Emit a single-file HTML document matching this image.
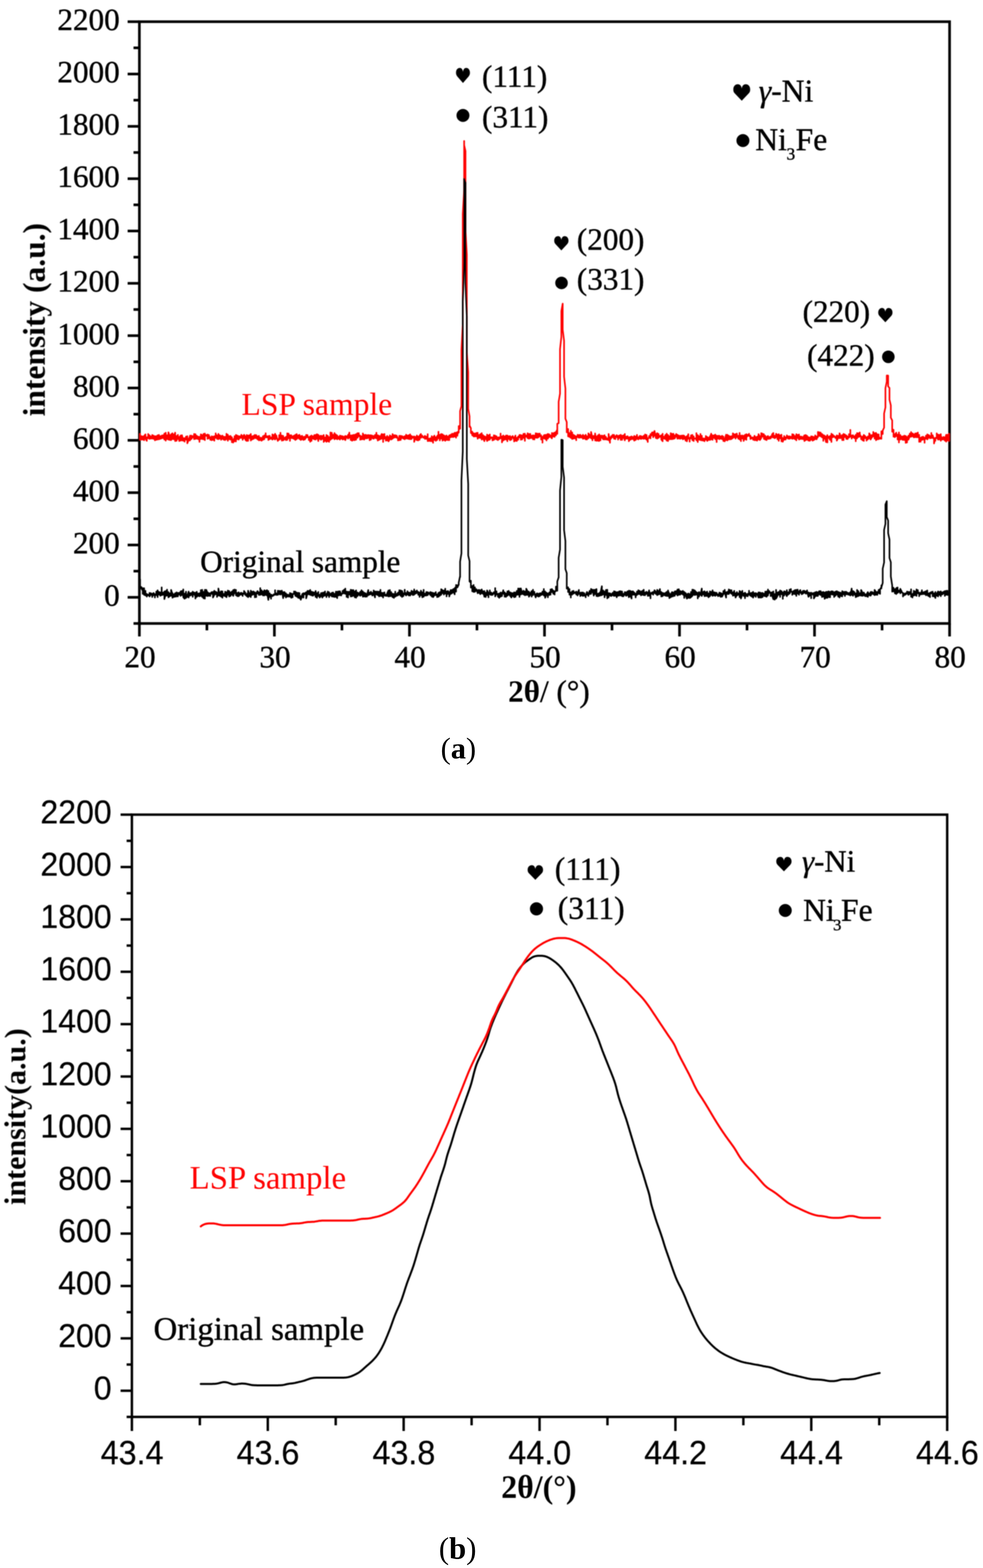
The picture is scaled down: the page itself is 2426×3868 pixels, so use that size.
<!DOCTYPE html>
<html><head><meta charset="utf-8"><title>XRD patterns</title><style>html,body{margin:0;padding:0;background:#fff;}svg{display:block;}</style></head><body>
<svg xmlns="http://www.w3.org/2000/svg" width="2426" height="3868" viewBox="0 0 2426 3868"><defs><filter id="soft" x="0" y="0" width="100%" height="100%" filterUnits="userSpaceOnUse"><feGaussianBlur stdDeviation="1.15"/></filter></defs><rect width="100%" height="100%" fill="#fff"/>
<g filter="url(#soft)">
<rect x="344.0" y="53.5" width="1999.5" height="1484.5" fill="none" stroke="#000" stroke-width="6.5"/>
<line x1="329.5" y1="1538.0" x2="344.0" y2="1538.0" stroke="#000" stroke-width="6.5"/>
<line x1="315.0" y1="1473.5" x2="344.0" y2="1473.5" stroke="#000" stroke-width="6.5"/>
<text x="295.5" y="1494.0" font-family="'Liberation Serif', 'Times New Roman', serif" font-size="77.0" text-anchor="end" font-weight="normal" fill="#000" stroke="#000" stroke-width="0.90" stroke-linejoin="round">0</text>
<line x1="329.5" y1="1408.9" x2="344.0" y2="1408.9" stroke="#000" stroke-width="6.5"/>
<line x1="315.0" y1="1344.4" x2="344.0" y2="1344.4" stroke="#000" stroke-width="6.5"/>
<text x="295.5" y="1364.9" font-family="'Liberation Serif', 'Times New Roman', serif" font-size="77.0" text-anchor="end" font-weight="normal" fill="#000" stroke="#000" stroke-width="0.90" stroke-linejoin="round">200</text>
<line x1="329.5" y1="1279.8" x2="344.0" y2="1279.8" stroke="#000" stroke-width="6.5"/>
<line x1="315.0" y1="1215.3" x2="344.0" y2="1215.3" stroke="#000" stroke-width="6.5"/>
<text x="295.5" y="1235.8" font-family="'Liberation Serif', 'Times New Roman', serif" font-size="77.0" text-anchor="end" font-weight="normal" fill="#000" stroke="#000" stroke-width="0.90" stroke-linejoin="round">400</text>
<line x1="329.5" y1="1150.7" x2="344.0" y2="1150.7" stroke="#000" stroke-width="6.5"/>
<line x1="315.0" y1="1086.2" x2="344.0" y2="1086.2" stroke="#000" stroke-width="6.5"/>
<text x="295.5" y="1106.7" font-family="'Liberation Serif', 'Times New Roman', serif" font-size="77.0" text-anchor="end" font-weight="normal" fill="#000" stroke="#000" stroke-width="0.90" stroke-linejoin="round">600</text>
<line x1="329.5" y1="1021.7" x2="344.0" y2="1021.7" stroke="#000" stroke-width="6.5"/>
<line x1="315.0" y1="957.1" x2="344.0" y2="957.1" stroke="#000" stroke-width="6.5"/>
<text x="295.5" y="977.6" font-family="'Liberation Serif', 'Times New Roman', serif" font-size="77.0" text-anchor="end" font-weight="normal" fill="#000" stroke="#000" stroke-width="0.90" stroke-linejoin="round">800</text>
<line x1="329.5" y1="892.6" x2="344.0" y2="892.6" stroke="#000" stroke-width="6.5"/>
<line x1="315.0" y1="828.0" x2="344.0" y2="828.0" stroke="#000" stroke-width="6.5"/>
<text x="295.5" y="848.5" font-family="'Liberation Serif', 'Times New Roman', serif" font-size="77.0" text-anchor="end" font-weight="normal" fill="#000" stroke="#000" stroke-width="0.90" stroke-linejoin="round">1000</text>
<line x1="329.5" y1="763.5" x2="344.0" y2="763.5" stroke="#000" stroke-width="6.5"/>
<line x1="315.0" y1="698.9" x2="344.0" y2="698.9" stroke="#000" stroke-width="6.5"/>
<text x="295.5" y="719.4" font-family="'Liberation Serif', 'Times New Roman', serif" font-size="77.0" text-anchor="end" font-weight="normal" fill="#000" stroke="#000" stroke-width="0.90" stroke-linejoin="round">1200</text>
<line x1="329.5" y1="634.4" x2="344.0" y2="634.4" stroke="#000" stroke-width="6.5"/>
<line x1="315.0" y1="569.8" x2="344.0" y2="569.8" stroke="#000" stroke-width="6.5"/>
<text x="295.5" y="590.3" font-family="'Liberation Serif', 'Times New Roman', serif" font-size="77.0" text-anchor="end" font-weight="normal" fill="#000" stroke="#000" stroke-width="0.90" stroke-linejoin="round">1400</text>
<line x1="329.5" y1="505.3" x2="344.0" y2="505.3" stroke="#000" stroke-width="6.5"/>
<line x1="315.0" y1="440.8" x2="344.0" y2="440.8" stroke="#000" stroke-width="6.5"/>
<text x="295.5" y="461.3" font-family="'Liberation Serif', 'Times New Roman', serif" font-size="77.0" text-anchor="end" font-weight="normal" fill="#000" stroke="#000" stroke-width="0.90" stroke-linejoin="round">1600</text>
<line x1="329.5" y1="376.2" x2="344.0" y2="376.2" stroke="#000" stroke-width="6.5"/>
<line x1="315.0" y1="311.7" x2="344.0" y2="311.7" stroke="#000" stroke-width="6.5"/>
<text x="295.5" y="332.2" font-family="'Liberation Serif', 'Times New Roman', serif" font-size="77.0" text-anchor="end" font-weight="normal" fill="#000" stroke="#000" stroke-width="0.90" stroke-linejoin="round">1800</text>
<line x1="329.5" y1="247.1" x2="344.0" y2="247.1" stroke="#000" stroke-width="6.5"/>
<line x1="315.0" y1="182.6" x2="344.0" y2="182.6" stroke="#000" stroke-width="6.5"/>
<text x="295.5" y="203.1" font-family="'Liberation Serif', 'Times New Roman', serif" font-size="77.0" text-anchor="end" font-weight="normal" fill="#000" stroke="#000" stroke-width="0.90" stroke-linejoin="round">2000</text>
<line x1="329.5" y1="118.0" x2="344.0" y2="118.0" stroke="#000" stroke-width="6.5"/>
<line x1="315.0" y1="53.5" x2="344.0" y2="53.5" stroke="#000" stroke-width="6.5"/>
<text x="295.5" y="74.0" font-family="'Liberation Serif', 'Times New Roman', serif" font-size="77.0" text-anchor="end" font-weight="normal" fill="#000" stroke="#000" stroke-width="0.90" stroke-linejoin="round">2200</text>
<line x1="344.0" y1="1538.0" x2="344.0" y2="1570.0" stroke="#000" stroke-width="6.5"/>
<text x="345.5" y="1646.0" font-family="'Liberation Serif', 'Times New Roman', serif" font-size="77.0" text-anchor="middle" font-weight="normal" fill="#000" stroke="#000" stroke-width="0.90" stroke-linejoin="round">20</text>
<line x1="510.6" y1="1538.0" x2="510.6" y2="1555.0" stroke="#000" stroke-width="6.5"/>
<line x1="677.2" y1="1538.0" x2="677.2" y2="1570.0" stroke="#000" stroke-width="6.5"/>
<text x="678.8" y="1646.0" font-family="'Liberation Serif', 'Times New Roman', serif" font-size="77.0" text-anchor="middle" font-weight="normal" fill="#000" stroke="#000" stroke-width="0.90" stroke-linejoin="round">30</text>
<line x1="843.9" y1="1538.0" x2="843.9" y2="1555.0" stroke="#000" stroke-width="6.5"/>
<line x1="1010.5" y1="1538.0" x2="1010.5" y2="1570.0" stroke="#000" stroke-width="6.5"/>
<text x="1012.0" y="1646.0" font-family="'Liberation Serif', 'Times New Roman', serif" font-size="77.0" text-anchor="middle" font-weight="normal" fill="#000" stroke="#000" stroke-width="0.90" stroke-linejoin="round">40</text>
<line x1="1177.1" y1="1538.0" x2="1177.1" y2="1555.0" stroke="#000" stroke-width="6.5"/>
<line x1="1343.8" y1="1538.0" x2="1343.8" y2="1570.0" stroke="#000" stroke-width="6.5"/>
<text x="1345.2" y="1646.0" font-family="'Liberation Serif', 'Times New Roman', serif" font-size="77.0" text-anchor="middle" font-weight="normal" fill="#000" stroke="#000" stroke-width="0.90" stroke-linejoin="round">50</text>
<line x1="1510.4" y1="1538.0" x2="1510.4" y2="1555.0" stroke="#000" stroke-width="6.5"/>
<line x1="1677.0" y1="1538.0" x2="1677.0" y2="1570.0" stroke="#000" stroke-width="6.5"/>
<text x="1678.5" y="1646.0" font-family="'Liberation Serif', 'Times New Roman', serif" font-size="77.0" text-anchor="middle" font-weight="normal" fill="#000" stroke="#000" stroke-width="0.90" stroke-linejoin="round">60</text>
<line x1="1843.6" y1="1538.0" x2="1843.6" y2="1555.0" stroke="#000" stroke-width="6.5"/>
<line x1="2010.2" y1="1538.0" x2="2010.2" y2="1570.0" stroke="#000" stroke-width="6.5"/>
<text x="2011.8" y="1646.0" font-family="'Liberation Serif', 'Times New Roman', serif" font-size="77.0" text-anchor="middle" font-weight="normal" fill="#000" stroke="#000" stroke-width="0.90" stroke-linejoin="round">70</text>
<line x1="2176.9" y1="1538.0" x2="2176.9" y2="1555.0" stroke="#000" stroke-width="6.5"/>
<line x1="2343.5" y1="1538.0" x2="2343.5" y2="1570.0" stroke="#000" stroke-width="6.5"/>
<text x="2345.0" y="1646.0" font-family="'Liberation Serif', 'Times New Roman', serif" font-size="77.0" text-anchor="middle" font-weight="normal" fill="#000" stroke="#000" stroke-width="0.90" stroke-linejoin="round">80</text>
<polyline points="345.7,1083.4 345.7,1077.8 345.7,1084.3 345.7,1070.8 345.7,1075.8 345.7,1079.2 349.0,1075.8 349.0,1084.4 349.0,1077.7 349.0,1080.2 349.0,1084.3 352.3,1080.5 352.3,1076.5 352.3,1084.2 352.3,1079.1 352.3,1084.6 355.7,1077.7 355.7,1086.1 355.7,1075.8 355.7,1076.1 355.7,1075.5 359.0,1071.6 359.0,1078.6 359.0,1078.9 359.0,1076.9 359.0,1081.5 362.3,1087.5 362.3,1084.7 362.3,1084.6 362.3,1078.6 362.3,1081.9 365.7,1080.8 365.7,1076.6 365.7,1078.1 365.7,1070.4 365.7,1079.0 369.0,1082.7 369.0,1073.5 369.0,1080.7 369.0,1079.3 369.0,1075.0 372.3,1078.5 372.3,1076.4 372.3,1082.1 372.3,1080.8 372.3,1076.9 375.7,1081.9 375.7,1081.3 375.7,1079.8 375.7,1073.0 375.7,1073.5 379.0,1078.8 379.0,1079.5 379.0,1082.8 379.0,1074.4 379.0,1078.3 382.3,1076.2 382.3,1086.2 382.3,1076.9 382.3,1079.7 382.3,1077.2 385.7,1076.0 385.7,1080.3 385.7,1081.8 385.7,1077.2 385.7,1085.1 389.0,1073.8 389.0,1078.2 389.0,1084.2 389.0,1074.0 389.0,1075.3 392.3,1072.9 392.3,1075.1 392.3,1077.2 392.3,1079.5 392.3,1083.8 395.7,1076.2 395.7,1076.8 395.7,1081.0 395.7,1076.7 395.7,1082.8 399.0,1074.5 399.0,1078.2 399.0,1077.7 399.0,1081.6 399.0,1074.4 402.3,1077.6 402.3,1080.6 402.3,1076.5 402.3,1078.9 402.3,1073.6 405.7,1084.3 405.7,1082.7 405.7,1069.4 405.7,1080.0 405.7,1076.0 409.0,1079.8 409.0,1077.4 409.0,1067.4 409.0,1086.9 409.0,1076.5 412.3,1078.7 412.3,1078.9 412.3,1082.5 412.3,1083.3 412.3,1073.5 415.6,1077.1 415.6,1084.1 415.6,1078.9 415.6,1084.4 415.6,1066.4 419.0,1076.7 419.0,1085.6 419.0,1073.8 419.0,1074.9 419.0,1076.1 422.3,1076.5 422.3,1079.5 422.3,1078.0 422.3,1085.7 422.3,1071.8 425.6,1068.9 425.6,1075.4 425.6,1074.9 425.6,1083.3 425.6,1079.4 429.0,1083.6 429.0,1083.1 429.0,1075.3 429.0,1071.7 429.0,1078.0 432.3,1067.4 432.3,1074.6 432.3,1087.9 432.3,1080.5 432.3,1073.7 435.6,1079.0 435.6,1075.7 435.6,1087.6 435.6,1075.5 435.6,1086.2 439.0,1080.0 439.0,1072.7 439.0,1081.5 439.0,1082.8 439.0,1078.7 442.3,1085.4 442.3,1085.9 442.3,1077.7 442.3,1088.0 442.3,1086.9 445.6,1074.2 445.6,1086.9 445.6,1079.7 445.6,1077.0 445.6,1082.0 449.0,1086.3 449.0,1078.5 449.0,1086.2 449.0,1073.6 449.0,1073.4 452.3,1087.3 452.3,1080.7 452.3,1086.3 452.3,1081.8 452.3,1084.4 455.6,1087.3 455.6,1080.8 455.6,1089.6 455.6,1080.9 455.6,1082.4 459.0,1084.6 459.0,1077.0 459.0,1080.2 459.0,1081.5 459.0,1080.6 462.3,1080.7 462.3,1075.9 462.3,1081.1 462.3,1092.3 462.3,1093.5 465.6,1085.1 465.6,1086.2 465.6,1082.2 465.6,1086.9 465.6,1084.6 469.0,1075.5 469.0,1086.6 469.0,1077.1 469.0,1080.9 469.0,1074.5 472.3,1075.9 472.3,1079.1 472.3,1074.5 472.3,1077.8 472.3,1083.2 475.6,1076.1 475.6,1075.8 475.6,1078.2 475.6,1076.4 475.6,1079.2 479.0,1075.8 479.0,1078.2 479.0,1083.5 479.0,1078.1 479.0,1070.4 482.3,1073.7 482.3,1071.1 482.3,1077.7 482.3,1079.7 482.3,1082.8 485.6,1078.0 485.6,1074.7 485.6,1075.9 485.6,1076.6 485.6,1082.1 489.0,1079.7 489.0,1083.6 489.0,1076.9 489.0,1077.9 489.0,1083.2 492.3,1079.9 492.3,1090.0 492.3,1077.4 492.3,1083.8 492.3,1081.8 495.6,1077.7 495.6,1077.3 495.6,1083.0 495.6,1073.4 495.6,1071.5 499.0,1073.7 499.0,1074.2 499.0,1079.3 499.0,1073.5 499.0,1082.8 502.3,1083.5 502.3,1077.9 502.3,1077.2 502.3,1081.6 502.3,1070.2 505.6,1083.5 505.6,1085.8 505.6,1078.4 505.6,1069.5 505.6,1073.0 509.0,1074.4 509.0,1075.1 509.0,1073.1 509.0,1074.1 509.0,1075.0 512.3,1076.0 512.3,1082.4 512.3,1071.8 512.3,1077.9 512.3,1074.9 515.6,1074.8 515.6,1073.0 515.6,1081.2 515.6,1074.9 515.6,1075.2 519.0,1079.7 519.0,1080.0 519.0,1079.5 519.0,1084.9 519.0,1082.8 522.3,1085.9 522.3,1076.3 522.3,1084.7 522.3,1086.0 522.3,1080.8 525.6,1079.1 525.6,1082.8 525.6,1085.0 525.6,1079.0 525.6,1076.9 529.0,1087.1 529.0,1076.1 529.0,1087.1 529.0,1076.5 529.0,1080.9 532.3,1079.8 532.3,1075.4 532.3,1072.0 532.3,1069.1 532.3,1071.8 535.6,1074.5 535.6,1082.8 535.6,1078.8 535.6,1076.6 535.6,1079.7 539.0,1074.8 539.0,1078.5 539.0,1070.2 539.0,1078.7 539.0,1083.5 542.3,1080.7 542.3,1081.8 542.3,1076.1 542.3,1073.5 542.3,1075.4 545.6,1075.6 545.6,1083.1 545.6,1085.1 545.6,1084.1 545.6,1080.9 548.9,1082.7 548.9,1080.2 548.9,1077.2 548.9,1081.2 548.9,1074.5 552.3,1084.9 552.3,1078.9 552.3,1081.8 552.3,1077.2 552.3,1081.5 555.6,1083.5 555.6,1081.8 555.6,1084.9 555.6,1085.7 555.6,1077.6 558.9,1083.4 558.9,1075.6 558.9,1069.9 558.9,1081.8 558.9,1076.2 562.3,1079.9 562.3,1087.2 562.3,1079.2 562.3,1072.3 562.3,1083.2 565.6,1078.5 565.6,1078.4 565.6,1083.6 565.6,1076.1 565.6,1078.2 568.9,1075.3 568.9,1077.8 568.9,1084.4 568.9,1078.4 568.9,1076.9 572.3,1081.2 572.3,1078.4 572.3,1079.2 572.3,1091.1 572.3,1080.0 575.6,1091.7 575.6,1089.0 575.6,1084.5 575.6,1088.2 575.6,1087.6 578.9,1079.6 578.9,1088.7 578.9,1079.1 578.9,1076.1 578.9,1077.6 582.3,1087.7 582.3,1089.1 582.3,1082.0 582.3,1072.8 582.3,1082.1 585.6,1083.1 585.6,1080.7 585.6,1076.5 585.6,1074.2 585.6,1078.8 588.9,1078.9 588.9,1075.8 588.9,1077.5 588.9,1079.1 588.9,1084.5 592.3,1076.4 592.3,1079.3 592.3,1077.7 592.3,1078.0 592.3,1080.5 595.6,1074.5 595.6,1072.5 595.6,1075.0 595.6,1080.2 595.6,1076.9 598.9,1075.0 598.9,1078.7 598.9,1075.7 598.9,1084.9 598.9,1080.3 602.3,1073.8 602.3,1076.1 602.3,1081.2 602.3,1080.6 602.3,1072.4 605.6,1077.2 605.6,1085.0 605.6,1081.0 605.6,1084.4 605.6,1085.1 608.9,1087.7 608.9,1079.6 608.9,1073.1 608.9,1078.6 608.9,1087.5 612.3,1079.5 612.3,1087.5 612.3,1080.2 612.3,1076.4 612.3,1074.3 615.6,1079.8 615.6,1078.8 615.6,1080.0 615.6,1080.7 615.6,1073.4 618.9,1083.9 618.9,1086.6 618.9,1072.6 618.9,1070.5 618.9,1086.8 622.3,1076.2 622.3,1076.7 622.3,1081.9 622.3,1084.2 622.3,1079.5 625.6,1081.6 625.6,1076.7 625.6,1082.8 625.6,1075.1 625.6,1082.6 628.9,1072.9 628.9,1075.9 628.9,1074.6 628.9,1080.7 628.9,1079.8 632.3,1078.9 632.3,1073.3 632.3,1080.9 632.3,1081.2 632.3,1078.8 635.6,1076.4 635.6,1078.3 635.6,1078.5 635.6,1084.1 635.6,1081.5 638.9,1083.8 638.9,1075.3 638.9,1080.3 638.9,1077.6 638.9,1086.3 642.3,1081.2 642.3,1079.6 642.3,1085.7 642.3,1084.0 642.3,1083.5 645.6,1080.7 645.6,1080.1 645.6,1087.3 645.6,1080.0 645.6,1080.5 648.9,1080.2 648.9,1085.1 648.9,1081.7 648.9,1076.0 648.9,1076.4 652.3,1083.5 652.3,1073.9 652.3,1082.0 652.3,1083.6 652.3,1074.6 655.6,1077.5 655.6,1068.8 655.6,1079.0 655.6,1077.2 655.6,1074.5 658.9,1076.4 658.9,1079.3 658.9,1077.7 658.9,1078.1 658.9,1078.4 662.3,1078.8 662.3,1085.5 662.3,1075.6 662.3,1082.3 662.3,1080.9 665.6,1083.4 665.6,1081.0 665.6,1076.1 665.6,1074.9 665.6,1078.8 668.9,1079.5 668.9,1082.3 668.9,1081.3 668.9,1079.1 668.9,1080.8 672.3,1084.3 672.3,1079.9 672.3,1084.5 672.3,1071.4 672.3,1078.7 675.6,1082.2 675.6,1077.8 675.6,1082.8 675.6,1080.6 675.6,1072.9 678.9,1074.0 678.9,1084.3 678.9,1084.1 678.9,1081.6 678.9,1070.1 682.2,1079.4 682.2,1078.8 682.2,1082.1 682.2,1074.5 682.2,1076.1 685.6,1087.5 685.6,1083.7 685.6,1087.7 685.6,1084.7 685.6,1083.0 688.9,1084.9 688.9,1081.6 688.9,1075.6 688.9,1073.4 688.9,1077.3 692.2,1074.4 692.2,1082.9 692.2,1070.9 692.2,1067.4 692.2,1077.7 695.6,1074.9 695.6,1076.1 695.6,1087.1 695.6,1074.2 695.6,1076.9 698.9,1086.1 698.9,1081.5 698.9,1075.2 698.9,1077.9 698.9,1086.3 702.2,1083.0 702.2,1083.4 702.2,1079.8 702.2,1083.2 702.2,1079.8 705.6,1080.5 705.6,1085.7 705.6,1077.6 705.6,1078.0 705.6,1081.8 708.9,1075.6 708.9,1069.1 708.9,1085.3 708.9,1077.7 708.9,1075.2 712.2,1078.6 712.2,1081.2 712.2,1069.6 712.2,1081.0 712.2,1079.4 715.6,1081.5 715.6,1073.6 715.6,1087.6 715.6,1082.2 715.6,1080.2 718.9,1076.8 718.9,1076.5 718.9,1073.6 718.9,1078.2 718.9,1080.7 722.2,1077.9 722.2,1081.3 722.2,1080.0 722.2,1079.9 722.2,1076.7 725.6,1074.6 725.6,1082.9 725.6,1080.8 725.6,1078.5 725.6,1078.4 728.9,1079.5 728.9,1075.9 728.9,1079.2 728.9,1085.5 728.9,1072.5 732.2,1083.1 732.2,1070.8 732.2,1076.4 732.2,1076.0 732.2,1083.4 735.6,1076.1 735.6,1078.0 735.6,1080.7 735.6,1075.0 735.6,1074.3 738.9,1072.7 738.9,1083.0 738.9,1081.5 738.9,1072.7 738.9,1076.6 742.2,1075.8 742.2,1081.7 742.2,1078.3 742.2,1076.7 742.2,1085.4 745.6,1083.4 745.6,1079.7 745.6,1075.1 745.6,1082.6 745.6,1078.0 748.9,1084.2 748.9,1085.5 748.9,1077.7 748.9,1084.3 748.9,1079.5 752.2,1081.7 752.2,1076.9 752.2,1084.0 752.2,1084.3 752.2,1084.1 755.6,1078.9 755.6,1072.7 755.6,1074.5 755.6,1077.1 755.6,1078.6 758.9,1073.2 758.9,1078.9 758.9,1074.4 758.9,1073.5 758.9,1076.7 762.2,1078.4 762.2,1078.9 762.2,1081.3 762.2,1080.3 762.2,1085.5 765.6,1085.7 765.6,1076.0 765.6,1083.2 765.6,1089.8 765.6,1077.3 768.9,1077.2 768.9,1080.9 768.9,1087.6 768.9,1074.2 768.9,1077.4 772.2,1076.4 772.2,1082.0 772.2,1078.7 772.2,1081.1 772.2,1080.4 775.6,1083.7 775.6,1081.6 775.6,1080.1 775.6,1077.5 775.6,1073.3 778.9,1074.8 778.9,1084.4 778.9,1072.7 778.9,1083.2 778.9,1075.0 782.2,1077.9 782.2,1077.0 782.2,1079.4 782.2,1081.9 782.2,1071.0 785.6,1088.0 785.6,1081.6 785.6,1072.6 785.6,1078.1 785.6,1078.0 788.9,1081.6 788.9,1082.8 788.9,1075.6 788.9,1078.7 788.9,1076.6 792.2,1074.8 792.2,1085.1 792.2,1082.4 792.2,1080.9 792.2,1077.3 795.6,1075.5 795.6,1082.9 795.6,1079.7 795.6,1079.5 795.6,1079.8 798.9,1073.2 798.9,1083.1 798.9,1079.7 798.9,1090.3 798.9,1081.6 802.2,1081.0 802.2,1078.9 802.2,1084.2 802.2,1084.7 802.2,1087.7 805.6,1084.9 805.6,1073.0 805.6,1090.1 805.6,1090.0 805.6,1082.5 808.9,1086.6 808.9,1077.3 808.9,1088.4 808.9,1075.0 808.9,1083.3 812.2,1088.0 812.2,1090.0 812.2,1084.2 812.2,1082.8 812.2,1078.3 815.5,1085.0 815.5,1066.7 815.5,1075.7 815.5,1079.9 815.5,1081.3 818.9,1067.6 818.9,1082.0 818.9,1075.5 818.9,1072.5 818.9,1082.5 822.2,1076.2 822.2,1080.7 822.2,1072.8 822.2,1072.5 822.2,1076.4 825.5,1077.9 825.5,1083.7 825.5,1068.2 825.5,1072.0 825.5,1075.2 828.9,1071.7 828.9,1077.7 828.9,1082.3 828.9,1073.5 828.9,1081.3 832.2,1079.4 832.2,1074.0 832.2,1083.7 832.2,1077.1 832.2,1078.5 835.5,1082.3 835.5,1082.6 835.5,1078.6 835.5,1079.1 835.5,1077.3 838.9,1084.4 838.9,1077.9 838.9,1083.6 838.9,1081.8 838.9,1074.4 842.2,1081.4 842.2,1080.7 842.2,1082.1 842.2,1078.8 842.2,1075.3 845.5,1080.2 845.5,1076.0 845.5,1084.2 845.5,1076.8 845.5,1079.1 848.9,1078.3 848.9,1082.5 848.9,1081.2 848.9,1077.3 848.9,1083.6 852.2,1075.4 852.2,1080.5 852.2,1076.9 852.2,1083.6 852.2,1085.8 855.5,1076.3 855.5,1076.1 855.5,1079.2 855.5,1076.2 855.5,1078.8 858.9,1075.7 858.9,1077.6 858.9,1081.9 858.9,1072.8 858.9,1081.0 862.2,1067.1 862.2,1076.9 862.2,1079.9 862.2,1076.8 862.2,1075.6 865.5,1075.4 865.5,1073.9 865.5,1079.1 865.5,1085.6 865.5,1081.1 868.9,1076.1 868.9,1073.7 868.9,1087.2 868.9,1078.8 868.9,1074.8 872.2,1085.7 872.2,1072.8 872.2,1083.3 872.2,1080.6 872.2,1082.2 875.5,1072.5 875.5,1076.1 875.5,1079.0 875.5,1080.8 875.5,1085.9 878.9,1079.6 878.9,1080.4 878.9,1077.8 878.9,1084.7 878.9,1070.8 882.2,1071.9 882.2,1068.6 882.2,1077.6 882.2,1075.1 882.2,1080.1 885.5,1071.3 885.5,1076.2 885.5,1068.5 885.5,1072.9 885.5,1073.1 888.9,1074.5 888.9,1083.5 888.9,1074.6 888.9,1084.8 888.9,1077.2 892.2,1076.3 892.2,1083.9 892.2,1081.9 892.2,1080.2 892.2,1078.5 895.5,1078.5 895.5,1079.7 895.5,1083.5 895.5,1078.6 895.5,1069.3 898.9,1082.1 898.9,1072.9 898.9,1084.6 898.9,1082.2 898.9,1073.8 902.2,1075.7 902.2,1072.4 902.2,1076.6 902.2,1081.6 902.2,1078.6 905.5,1080.7 905.5,1074.4 905.5,1076.1 905.5,1073.4 905.5,1081.5 908.9,1079.6 908.9,1080.3 908.9,1080.0 908.9,1079.1 908.9,1073.1 912.2,1077.8 912.2,1073.5 912.2,1077.6 912.2,1085.9 912.2,1084.3 915.5,1079.1 915.5,1073.5 915.5,1078.3 915.5,1084.6 915.5,1077.8 918.9,1079.3 918.9,1075.8 918.9,1074.6 918.9,1076.8 918.9,1080.6 922.2,1082.1 922.2,1079.0 922.2,1077.6 922.2,1075.5 922.2,1078.6 925.5,1079.2 925.5,1074.2 925.5,1072.7 925.5,1075.0 925.5,1080.6 928.9,1077.7 928.9,1067.6 928.9,1081.5 928.9,1078.9 928.9,1074.0 932.2,1082.2 932.2,1079.9 932.2,1073.4 932.2,1075.0 932.2,1086.8 935.5,1076.8 935.5,1080.8 935.5,1085.3 935.5,1075.1 935.5,1081.9 938.9,1079.9 938.9,1083.5 938.9,1076.7 938.9,1076.5 938.9,1077.1 942.2,1070.5 942.2,1078.1 942.2,1082.1 942.2,1078.5 942.2,1079.3 945.5,1077.5 945.5,1090.3 945.5,1076.6 945.5,1071.5 945.5,1076.0 948.8,1082.2 948.8,1070.4 948.8,1076.2 948.8,1070.8 948.8,1075.4 952.2,1081.0 952.2,1086.9 952.2,1079.8 952.2,1078.3 952.2,1082.4 955.5,1086.5 955.5,1077.5 955.5,1084.2 955.5,1075.2 955.5,1083.3 958.8,1079.2 958.8,1082.0 958.8,1078.7 958.8,1077.9 958.8,1088.8 962.2,1082.5 962.2,1081.8 962.2,1081.7 962.2,1079.3 962.2,1074.0 965.5,1082.9 965.5,1076.1 965.5,1079.9 965.5,1081.0 965.5,1084.2 968.8,1081.0 968.8,1082.2 968.8,1075.5 968.8,1070.8 968.8,1074.7 972.2,1073.6 972.2,1079.9 972.2,1073.4 972.2,1079.7 972.2,1079.9 975.5,1075.0 975.5,1078.8 975.5,1073.6 975.5,1075.8 975.5,1077.9 978.8,1079.6 978.8,1076.8 978.8,1077.0 978.8,1078.3 978.8,1074.6 982.2,1082.2 982.2,1086.2 982.2,1086.4 982.2,1085.4 982.2,1085.4 985.5,1082.4 985.5,1075.0 985.5,1086.1 985.5,1085.2 985.5,1083.7 988.8,1085.3 988.8,1084.1 988.8,1077.6 988.8,1074.9 988.8,1082.9 992.2,1080.0 992.2,1075.8 992.2,1078.1 992.2,1080.2 992.2,1077.9 995.5,1079.8 995.5,1082.2 995.5,1077.3 995.5,1082.0 995.5,1081.3 998.8,1077.9 998.8,1083.8 998.8,1075.9 998.8,1081.6 998.8,1082.4 1002.2,1076.0 1002.2,1075.3 1002.2,1073.9 1002.2,1072.2 1002.2,1081.8 1005.5,1078.7 1005.5,1082.1 1005.5,1080.7 1005.5,1074.2 1005.5,1076.6 1008.8,1077.0 1008.8,1076.6 1008.8,1080.2 1008.8,1073.5 1008.8,1083.1 1012.2,1076.5 1012.2,1081.9 1012.2,1083.4 1012.2,1071.5 1012.2,1081.5 1015.5,1077.2 1015.5,1083.3 1015.5,1083.2 1015.5,1075.3 1015.5,1078.5 1018.8,1080.0 1018.8,1078.4 1018.8,1077.9 1018.8,1077.0 1018.8,1078.6 1022.2,1077.9 1022.2,1079.6 1022.2,1080.4 1022.2,1076.5 1022.2,1090.1 1025.5,1077.8 1025.5,1081.1 1025.5,1080.4 1025.5,1082.2 1025.5,1084.0 1028.8,1078.6 1028.8,1086.0 1028.8,1085.1 1028.8,1085.1 1028.8,1074.3 1032.2,1081.0 1032.2,1081.0 1032.2,1086.6 1032.2,1080.4 1032.2,1077.1 1035.5,1084.8 1035.5,1079.8 1035.5,1078.9 1035.5,1076.9 1035.5,1075.0 1038.8,1070.5 1038.8,1078.2 1038.8,1077.7 1038.8,1080.1 1038.8,1073.4 1042.2,1077.4 1042.2,1075.3 1042.2,1074.5 1042.2,1078.2 1042.2,1078.6 1045.5,1077.6 1045.5,1078.1 1045.5,1078.8 1045.5,1080.1 1045.5,1080.0 1048.8,1075.1 1048.8,1082.8 1048.8,1080.1 1048.8,1080.5 1048.8,1076.2 1052.2,1082.6 1052.2,1081.4 1052.2,1082.4 1052.2,1076.9 1052.2,1077.5 1055.5,1078.3 1055.5,1079.4 1055.5,1070.9 1055.5,1078.9 1055.5,1088.1 1058.8,1086.5 1058.8,1086.5 1058.8,1083.0 1058.8,1087.8 1058.8,1082.0 1062.2,1088.2 1062.2,1082.9 1062.2,1085.5 1062.2,1081.1 1062.2,1082.7 1065.5,1087.2 1065.5,1075.9 1065.5,1087.7 1065.5,1085.2 1065.5,1088.5 1068.8,1078.7 1068.8,1078.7 1068.8,1082.7 1068.8,1092.2 1068.8,1078.9 1072.2,1074.7 1072.2,1085.4 1072.2,1079.8 1072.2,1078.0 1072.2,1081.4 1075.5,1086.2 1075.5,1082.0 1075.5,1083.7 1075.5,1078.5 1075.5,1087.6 1078.8,1077.9 1078.8,1079.4 1078.8,1085.6 1078.8,1082.8 1078.8,1075.9 1082.1,1072.4 1082.1,1073.7 1082.1,1064.9 1082.1,1075.8 1082.1,1081.3 1085.5,1076.2 1085.5,1079.4 1085.5,1086.4 1085.5,1072.5 1085.5,1081.2 1088.8,1081.3 1088.8,1070.4 1088.8,1080.8 1088.8,1082.0 1088.8,1075.3 1092.1,1071.4 1092.1,1086.9 1092.1,1083.8 1092.1,1081.9 1092.1,1076.2 1095.5,1078.4 1095.5,1074.8 1095.5,1085.6 1095.5,1080.1 1095.5,1073.7 1098.8,1087.4 1098.8,1075.5 1098.8,1083.6 1098.8,1079.1 1098.8,1084.8 1102.1,1078.0 1102.1,1077.6 1102.1,1081.5 1102.1,1074.2 1102.1,1085.2 1105.5,1077.0 1105.5,1085.8 1105.5,1077.0 1105.5,1077.4 1105.5,1083.7 1108.8,1074.0 1108.8,1080.5 1108.8,1085.7 1108.8,1081.0 1108.8,1075.6 1112.1,1078.7 1112.1,1074.7 1112.1,1072.2 1112.1,1074.3 1112.1,1075.0 1115.5,1076.0 1115.5,1074.4 1115.5,1069.9 1115.5,1078.0 1115.5,1075.8 1118.8,1071.3 1118.8,1078.3 1118.8,1069.7 1118.8,1073.3 1118.8,1071.1 1122.1,1075.4 1122.1,1073.6 1122.1,1067.6 1122.1,1076.9 1122.1,1068.1 1125.5,1067.5 1125.5,1071.5 1125.5,1079.7 1125.5,1075.9 1125.5,1069.1 1128.8,1065.7 1128.8,1075.1 1128.8,1066.8 1128.8,1066.3 1128.8,1072.2 1132.1,1063.7 1132.1,1065.9 1132.1,1067.0 1132.1,1051.0 1132.1,1058.6 1135.5,1057.5 1135.5,1052.3 1135.5,1031.3 1135.5,1025.5 1135.5,1014.0 1138.8,1001.8 1138.8,972.8 1138.8,943.2 1138.8,901.6 1138.8,863.4 1142.1,798.7 1142.1,734.4 1142.1,673.3 1142.1,601.8 1142.1,527.8 1145.5,468.4 1145.5,410.7 1145.5,373.4 1145.5,347.7 1145.5,357.9 1148.8,372.7 1148.8,398.4 1148.8,456.0 1148.8,499.4 1148.8,567.4 1152.1,628.3 1152.1,696.1 1152.1,755.8 1152.1,829.5 1152.1,869.1 1155.5,918.5 1155.5,946.7 1155.5,977.4 1155.5,997.5 1155.5,1008.6 1158.8,1026.9 1158.8,1037.4 1158.8,1043.9 1158.8,1053.0 1158.8,1049.6 1162.1,1056.2 1162.1,1061.1 1162.1,1058.0 1162.1,1066.2 1162.1,1068.0 1165.5,1070.7 1165.5,1073.9 1165.5,1074.0 1165.5,1064.8 1165.5,1072.2 1168.8,1071.2 1168.8,1068.6 1168.8,1072.8 1168.8,1076.8 1168.8,1076.6 1172.1,1075.4 1172.1,1069.6 1172.1,1076.3 1172.1,1076.8 1172.1,1072.4 1175.5,1074.7 1175.5,1074.7 1175.5,1074.1 1175.5,1068.0 1175.5,1076.5 1178.8,1077.0 1178.8,1067.5 1178.8,1078.8 1178.8,1082.2 1178.8,1071.3 1182.1,1077.0 1182.1,1075.1 1182.1,1074.7 1182.1,1080.0 1182.1,1073.1 1185.5,1080.4 1185.5,1072.0 1185.5,1070.8 1185.5,1078.6 1185.5,1071.3 1188.8,1075.2 1188.8,1068.5 1188.8,1076.2 1188.8,1084.1 1188.8,1084.5 1192.1,1073.4 1192.1,1079.4 1192.1,1076.2 1192.1,1082.9 1192.1,1081.0 1195.5,1088.2 1195.5,1077.5 1195.5,1076.0 1195.5,1082.7 1195.5,1077.4 1198.8,1082.6 1198.8,1078.0 1198.8,1081.4 1198.8,1083.2 1198.8,1077.6 1202.1,1087.3 1202.1,1071.9 1202.1,1086.2 1202.1,1087.9 1202.1,1078.6 1205.5,1084.2 1205.5,1077.3 1205.5,1085.8 1205.5,1073.8 1205.5,1074.7 1208.8,1084.5 1208.8,1071.7 1208.8,1081.9 1208.8,1080.0 1208.8,1082.8 1212.1,1079.0 1212.1,1078.5 1212.1,1080.8 1212.1,1079.2 1212.1,1080.1 1215.4,1078.8 1215.4,1086.5 1215.4,1083.0 1215.4,1086.3 1215.4,1081.7 1218.8,1081.9 1218.8,1082.4 1218.8,1084.4 1218.8,1073.7 1218.8,1085.3 1222.1,1078.8 1222.1,1082.7 1222.1,1074.4 1222.1,1075.3 1222.1,1078.4 1225.4,1077.2 1225.4,1083.4 1225.4,1084.0 1225.4,1076.3 1225.4,1079.3 1228.8,1085.7 1228.8,1079.8 1228.8,1084.5 1228.8,1085.0 1228.8,1079.2 1232.1,1078.7 1232.1,1080.3 1232.1,1081.1 1232.1,1083.5 1232.1,1080.1 1235.4,1079.8 1235.4,1081.3 1235.4,1069.5 1235.4,1080.5 1235.4,1078.8 1238.8,1082.4 1238.8,1079.8 1238.8,1078.7 1238.8,1076.4 1238.8,1091.3 1242.1,1074.2 1242.1,1076.4 1242.1,1077.7 1242.1,1083.2 1242.1,1086.5 1245.4,1084.0 1245.4,1076.5 1245.4,1076.8 1245.4,1079.6 1245.4,1076.7 1248.8,1083.5 1248.8,1084.2 1248.8,1074.2 1248.8,1074.7 1248.8,1076.0 1252.1,1074.5 1252.1,1079.1 1252.1,1088.5 1252.1,1080.0 1252.1,1074.3 1255.4,1080.0 1255.4,1076.2 1255.4,1076.6 1255.4,1083.1 1255.4,1077.3 1258.8,1079.3 1258.8,1085.9 1258.8,1075.5 1258.8,1084.6 1258.8,1078.3 1262.1,1078.3 1262.1,1083.6 1262.1,1084.4 1262.1,1078.7 1262.1,1079.6 1265.4,1075.6 1265.4,1079.9 1265.4,1078.6 1265.4,1080.1 1265.4,1076.9 1268.8,1085.1 1268.8,1088.9 1268.8,1079.1 1268.8,1082.1 1268.8,1084.0 1272.1,1074.5 1272.1,1087.4 1272.1,1082.7 1272.1,1077.7 1272.1,1082.3 1275.4,1083.1 1275.4,1079.9 1275.4,1082.6 1275.4,1088.0 1275.4,1086.1 1278.8,1077.6 1278.8,1077.4 1278.8,1084.8 1278.8,1078.5 1278.8,1076.7 1282.1,1076.3 1282.1,1072.8 1282.1,1074.6 1282.1,1078.7 1282.1,1079.3 1285.4,1075.3 1285.4,1082.8 1285.4,1084.7 1285.4,1074.5 1285.4,1073.1 1288.8,1075.2 1288.8,1076.3 1288.8,1084.0 1288.8,1083.2 1288.8,1079.7 1292.1,1070.1 1292.1,1078.1 1292.1,1076.0 1292.1,1080.0 1292.1,1071.1 1295.4,1084.4 1295.4,1069.7 1295.4,1076.5 1295.4,1087.5 1295.4,1076.1 1298.8,1074.1 1298.8,1074.0 1298.8,1074.4 1298.8,1077.5 1298.8,1077.4 1302.1,1075.6 1302.1,1078.6 1302.1,1068.8 1302.1,1080.9 1302.1,1075.4 1305.4,1077.2 1305.4,1082.2 1305.4,1070.4 1305.4,1075.3 1305.4,1079.4 1308.8,1080.2 1308.8,1077.9 1308.8,1070.3 1308.8,1076.1 1308.8,1080.9 1312.1,1076.7 1312.1,1080.4 1312.1,1075.4 1312.1,1075.9 1312.1,1074.8 1315.4,1076.8 1315.4,1077.8 1315.4,1083.7 1315.4,1077.4 1315.4,1073.7 1318.8,1084.2 1318.8,1074.2 1318.8,1080.3 1318.8,1080.1 1318.8,1079.6 1322.1,1073.8 1322.1,1076.1 1322.1,1075.1 1322.1,1079.7 1322.1,1068.7 1325.4,1079.0 1325.4,1069.5 1325.4,1069.7 1325.4,1072.0 1325.4,1080.3 1328.8,1075.2 1328.8,1078.9 1328.8,1069.7 1328.8,1075.4 1328.8,1075.1 1332.1,1076.4 1332.1,1076.6 1332.1,1073.8 1332.1,1069.5 1332.1,1075.5 1335.4,1073.7 1335.4,1076.3 1335.4,1077.5 1335.4,1084.2 1335.4,1081.1 1338.8,1082.1 1338.8,1077.3 1338.8,1092.0 1338.8,1088.9 1338.8,1082.0 1342.1,1078.3 1342.1,1081.4 1342.1,1080.4 1342.1,1077.0 1342.1,1074.0 1345.4,1072.9 1345.4,1077.4 1345.4,1075.2 1345.4,1081.1 1345.4,1083.1 1348.7,1076.7 1348.7,1072.6 1348.7,1076.6 1348.7,1086.6 1348.7,1074.1 1352.1,1070.4 1352.1,1075.1 1352.1,1079.0 1352.1,1081.2 1352.1,1082.1 1355.4,1071.2 1355.4,1078.2 1355.4,1077.8 1355.4,1077.3 1355.4,1076.9 1358.7,1074.5 1358.7,1077.3 1358.7,1073.9 1358.7,1077.1 1358.7,1077.7 1362.1,1081.3 1362.1,1073.2 1362.1,1068.0 1362.1,1070.5 1362.1,1068.3 1365.4,1074.2 1365.4,1075.6 1365.4,1075.6 1365.4,1076.9 1365.4,1069.0 1368.7,1067.2 1368.7,1075.1 1368.7,1070.4 1368.7,1077.7 1368.7,1070.4 1372.1,1068.0 1372.1,1074.1 1372.1,1064.9 1372.1,1070.8 1372.1,1066.7 1375.4,1059.2 1375.4,1070.2 1375.4,1058.8 1375.4,1057.7 1375.4,1045.1 1378.7,1044.0 1378.7,1035.0 1378.7,1020.1 1378.7,999.7 1378.7,991.0 1382.1,970.8 1382.1,945.5 1382.1,911.1 1382.1,893.5 1382.1,861.5 1385.4,831.0 1385.4,806.4 1385.4,782.4 1385.4,769.8 1385.4,767.4 1388.7,748.9 1388.7,759.7 1388.7,775.9 1388.7,793.2 1388.7,813.3 1392.1,840.7 1392.1,862.5 1392.1,883.1 1392.1,908.7 1392.1,929.1 1395.4,958.4 1395.4,982.1 1395.4,994.3 1395.4,1011.5 1395.4,1032.7 1398.7,1041.2 1398.7,1043.2 1398.7,1056.7 1398.7,1058.3 1398.7,1066.5 1402.1,1060.7 1402.1,1058.3 1402.1,1076.6 1402.1,1073.3 1402.1,1066.5 1405.4,1068.7 1405.4,1070.4 1405.4,1075.9 1405.4,1078.1 1405.4,1072.7 1408.7,1067.4 1408.7,1067.8 1408.7,1062.5 1408.7,1080.2 1408.7,1072.7 1412.1,1073.1 1412.1,1066.8 1412.1,1078.3 1412.1,1070.2 1412.1,1083.1 1415.4,1072.5 1415.4,1081.2 1415.4,1082.0 1415.4,1076.2 1415.4,1079.8 1418.7,1076.9 1418.7,1078.5 1418.7,1081.4 1418.7,1074.6 1418.7,1079.0 1422.1,1080.8 1422.1,1080.9 1422.1,1085.9 1422.1,1083.5 1422.1,1076.6 1425.4,1077.1 1425.4,1078.5 1425.4,1072.4 1425.4,1077.9 1425.4,1077.8 1428.7,1075.6 1428.7,1076.4 1428.7,1072.9 1428.7,1080.0 1428.7,1077.4 1432.1,1077.9 1432.1,1079.5 1432.1,1078.6 1432.1,1074.6 1432.1,1072.5 1435.4,1079.0 1435.4,1079.4 1435.4,1078.7 1435.4,1075.3 1435.4,1077.7 1438.7,1073.5 1438.7,1072.6 1438.7,1075.6 1438.7,1082.6 1438.7,1081.5 1442.1,1081.4 1442.1,1081.4 1442.1,1074.9 1442.1,1081.5 1442.1,1076.4 1445.4,1080.1 1445.4,1081.8 1445.4,1073.0 1445.4,1084.1 1445.4,1072.5 1448.7,1084.1 1448.7,1076.3 1448.7,1077.3 1448.7,1077.4 1448.7,1079.0 1452.1,1081.4 1452.1,1079.7 1452.1,1072.8 1452.1,1074.5 1452.1,1069.0 1455.4,1073.6 1455.4,1075.8 1455.4,1077.4 1455.4,1079.0 1455.4,1072.7 1458.7,1080.0 1458.7,1079.9 1458.7,1081.5 1458.7,1076.7 1458.7,1065.6 1462.1,1080.4 1462.1,1086.2 1462.1,1082.1 1462.1,1075.3 1462.1,1080.3 1465.4,1080.6 1465.4,1075.3 1465.4,1078.3 1465.4,1081.3 1465.4,1075.6 1468.7,1081.4 1468.7,1077.6 1468.7,1069.3 1468.7,1086.6 1468.7,1070.7 1472.1,1085.5 1472.1,1077.1 1472.1,1087.4 1472.1,1080.2 1472.1,1082.6 1475.4,1082.5 1475.4,1083.8 1475.4,1074.1 1475.4,1076.4 1475.4,1087.0 1478.7,1087.8 1478.7,1081.0 1478.7,1086.0 1478.7,1071.6 1478.7,1073.6 1482.0,1076.6 1482.0,1086.3 1482.0,1081.8 1482.0,1074.5 1482.0,1082.5 1485.4,1075.4 1485.4,1078.2 1485.4,1074.4 1485.4,1078.5 1485.4,1078.5 1488.7,1083.7 1488.7,1078.7 1488.7,1081.7 1488.7,1075.0 1488.7,1083.9 1492.0,1074.2 1492.0,1073.6 1492.0,1075.2 1492.0,1084.3 1492.0,1083.4 1495.4,1077.5 1495.4,1078.1 1495.4,1080.5 1495.4,1080.0 1495.4,1084.0 1498.7,1084.1 1498.7,1084.7 1498.7,1082.9 1498.7,1081.3 1498.7,1082.5 1502.0,1085.2 1502.0,1077.1 1502.0,1080.8 1502.0,1085.9 1502.0,1070.4 1505.4,1092.3 1505.4,1078.8 1505.4,1079.8 1505.4,1083.3 1505.4,1084.9 1508.7,1080.6 1508.7,1075.5 1508.7,1075.8 1508.7,1077.2 1508.7,1078.1 1512.0,1078.5 1512.0,1074.6 1512.0,1077.8 1512.0,1077.3 1512.0,1072.5 1515.4,1080.4 1515.4,1076.9 1515.4,1078.7 1515.4,1082.2 1515.4,1072.8 1518.7,1083.1 1518.7,1080.9 1518.7,1083.2 1518.7,1078.1 1518.7,1077.7 1522.0,1073.4 1522.0,1073.5 1522.0,1073.7 1522.0,1078.3 1522.0,1076.2 1525.4,1081.5 1525.4,1084.5 1525.4,1075.3 1525.4,1083.7 1525.4,1077.5 1528.7,1074.1 1528.7,1080.4 1528.7,1074.5 1528.7,1080.0 1528.7,1080.6 1532.0,1077.5 1532.0,1072.6 1532.0,1085.3 1532.0,1078.8 1532.0,1082.8 1535.4,1078.4 1535.4,1077.1 1535.4,1084.9 1535.4,1083.2 1535.4,1074.7 1538.7,1076.4 1538.7,1080.6 1538.7,1077.5 1538.7,1073.7 1538.7,1073.7 1542.0,1086.2 1542.0,1079.8 1542.0,1070.6 1542.0,1079.3 1542.0,1079.7 1545.4,1077.5 1545.4,1076.9 1545.4,1077.5 1545.4,1077.2 1545.4,1082.2 1548.7,1077.4 1548.7,1075.9 1548.7,1078.9 1548.7,1080.0 1548.7,1082.3 1552.0,1078.6 1552.0,1084.3 1552.0,1081.0 1552.0,1079.7 1552.0,1088.4 1555.4,1077.7 1555.4,1084.9 1555.4,1082.1 1555.4,1082.1 1555.4,1080.1 1558.7,1079.5 1558.7,1076.4 1558.7,1083.4 1558.7,1080.9 1558.7,1077.8 1562.0,1082.2 1562.0,1083.1 1562.0,1079.5 1562.0,1078.0 1562.0,1078.9 1565.4,1086.9 1565.4,1081.2 1565.4,1082.2 1565.4,1075.2 1565.4,1082.5 1568.7,1083.6 1568.7,1076.8 1568.7,1085.5 1568.7,1077.3 1568.7,1077.3 1572.0,1082.7 1572.0,1081.1 1572.0,1079.4 1572.0,1072.7 1572.0,1080.6 1575.4,1083.0 1575.4,1078.3 1575.4,1080.4 1575.4,1083.9 1575.4,1080.4 1578.7,1078.7 1578.7,1075.2 1578.7,1077.6 1578.7,1077.6 1578.7,1082.0 1582.0,1075.5 1582.0,1082.4 1582.0,1082.6 1582.0,1081.5 1582.0,1082.9 1585.4,1079.2 1585.4,1077.0 1585.4,1079.6 1585.4,1081.7 1585.4,1079.2 1588.7,1082.5 1588.7,1076.5 1588.7,1074.7 1588.7,1081.9 1588.7,1082.2 1592.0,1076.9 1592.0,1071.7 1592.0,1081.9 1592.0,1075.5 1592.0,1078.8 1595.4,1084.6 1595.4,1080.9 1595.4,1079.4 1595.4,1082.5 1595.4,1072.8 1598.7,1090.3 1598.7,1082.7 1598.7,1082.6 1598.7,1083.3 1598.7,1082.7 1602.0,1079.3 1602.0,1077.0 1602.0,1078.3 1602.0,1075.4 1602.0,1078.2 1605.4,1081.3 1605.4,1079.3 1605.4,1070.8 1605.4,1077.7 1605.4,1076.6 1608.7,1072.8 1608.7,1071.6 1608.7,1073.8 1608.7,1070.0 1608.7,1067.3 1612.0,1066.4 1612.0,1072.3 1612.0,1078.7 1612.0,1077.7 1612.0,1078.0 1615.3,1072.7 1615.3,1069.3 1615.3,1072.8 1615.3,1071.4 1615.3,1063.0 1618.7,1080.7 1618.7,1070.6 1618.7,1076.4 1618.7,1079.0 1618.7,1078.2 1622.0,1077.9 1622.0,1068.6 1622.0,1074.9 1622.0,1070.8 1622.0,1082.0 1625.3,1070.3 1625.3,1074.6 1625.3,1072.6 1625.3,1080.3 1625.3,1074.1 1628.7,1075.9 1628.7,1077.4 1628.7,1076.5 1628.7,1075.8 1628.7,1075.3 1632.0,1080.1 1632.0,1073.6 1632.0,1082.1 1632.0,1081.1 1632.0,1084.0 1635.3,1088.4 1635.3,1069.9 1635.3,1069.9 1635.3,1079.2 1635.3,1079.0 1638.7,1081.1 1638.7,1077.1 1638.7,1077.5 1638.7,1082.0 1638.7,1077.8 1642.0,1083.3 1642.0,1078.6 1642.0,1072.9 1642.0,1074.8 1642.0,1076.8 1645.3,1079.0 1645.3,1069.7 1645.3,1078.9 1645.3,1087.1 1645.3,1079.6 1648.7,1087.9 1648.7,1078.7 1648.7,1079.7 1648.7,1072.9 1648.7,1073.4 1652.0,1080.6 1652.0,1080.2 1652.0,1076.4 1652.0,1083.8 1652.0,1082.7 1655.3,1073.3 1655.3,1083.4 1655.3,1078.1 1655.3,1068.6 1655.3,1080.1 1658.7,1070.2 1658.7,1083.6 1658.7,1081.5 1658.7,1072.0 1658.7,1074.7 1662.0,1077.5 1662.0,1078.0 1662.0,1073.3 1662.0,1070.0 1662.0,1082.8 1665.3,1079.6 1665.3,1074.0 1665.3,1079.2 1665.3,1073.9 1665.3,1081.6 1668.7,1071.8 1668.7,1074.3 1668.7,1076.2 1668.7,1075.7 1668.7,1070.5 1672.0,1082.2 1672.0,1076.2 1672.0,1081.3 1672.0,1081.7 1672.0,1072.5 1675.3,1076.9 1675.3,1078.2 1675.3,1076.4 1675.3,1081.7 1675.3,1074.5 1678.7,1081.4 1678.7,1076.8 1678.7,1078.9 1678.7,1075.1 1678.7,1082.5 1682.0,1075.1 1682.0,1074.6 1682.0,1077.2 1682.0,1079.5 1682.0,1081.6 1685.3,1078.8 1685.3,1075.4 1685.3,1078.8 1685.3,1083.8 1685.3,1074.3 1688.7,1074.9 1688.7,1078.8 1688.7,1082.8 1688.7,1080.2 1688.7,1080.0 1692.0,1080.9 1692.0,1077.7 1692.0,1087.0 1692.0,1078.8 1692.0,1080.7 1695.3,1075.9 1695.3,1083.4 1695.3,1080.4 1695.3,1081.6 1695.3,1088.7 1698.7,1071.0 1698.7,1081.9 1698.7,1078.8 1698.7,1080.6 1698.7,1081.8 1702.0,1081.6 1702.0,1089.6 1702.0,1080.0 1702.0,1083.9 1702.0,1082.8 1705.3,1077.1 1705.3,1081.7 1705.3,1073.7 1705.3,1076.7 1705.3,1079.3 1708.7,1080.3 1708.7,1086.1 1708.7,1072.7 1708.7,1074.7 1708.7,1082.5 1712.0,1081.6 1712.0,1088.1 1712.0,1076.6 1712.0,1080.3 1712.0,1080.1 1715.3,1082.3 1715.3,1081.3 1715.3,1081.7 1715.3,1081.8 1715.3,1081.5 1718.7,1081.5 1718.7,1071.1 1718.7,1068.4 1718.7,1086.2 1718.7,1077.8 1722.0,1079.9 1722.0,1079.6 1722.0,1073.7 1722.0,1090.4 1722.0,1073.2 1725.3,1084.7 1725.3,1075.9 1725.3,1078.7 1725.3,1079.9 1725.3,1077.6 1728.7,1082.2 1728.7,1070.5 1728.7,1085.7 1728.7,1085.8 1728.7,1080.2 1732.0,1079.9 1732.0,1074.9 1732.0,1081.6 1732.0,1086.4 1732.0,1084.4 1735.3,1085.8 1735.3,1084.5 1735.3,1081.3 1735.3,1085.2 1735.3,1087.0 1738.7,1081.8 1738.7,1088.6 1738.7,1084.9 1738.7,1083.1 1738.7,1087.0 1742.0,1079.4 1742.0,1084.4 1742.0,1075.4 1742.0,1083.4 1742.0,1083.9 1745.3,1086.2 1745.3,1080.4 1745.3,1077.7 1745.3,1086.5 1745.3,1087.7 1748.6,1085.0 1748.6,1079.5 1748.6,1079.4 1748.6,1083.1 1748.6,1080.7 1752.0,1078.9 1752.0,1076.6 1752.0,1083.1 1752.0,1085.4 1752.0,1079.4 1755.3,1069.9 1755.3,1079.2 1755.3,1078.6 1755.3,1076.2 1755.3,1083.9 1758.6,1073.9 1758.6,1080.5 1758.6,1084.9 1758.6,1078.3 1758.6,1078.6 1762.0,1073.8 1762.0,1076.1 1762.0,1080.6 1762.0,1075.3 1762.0,1076.0 1765.3,1072.1 1765.3,1083.1 1765.3,1079.7 1765.3,1083.6 1765.3,1079.7 1768.6,1074.9 1768.6,1076.7 1768.6,1081.9 1768.6,1090.5 1768.6,1083.3 1772.0,1081.6 1772.0,1078.5 1772.0,1074.9 1772.0,1075.3 1772.0,1078.5 1775.3,1075.9 1775.3,1083.6 1775.3,1083.3 1775.3,1074.7 1775.3,1079.1 1778.6,1076.7 1778.6,1077.3 1778.6,1078.5 1778.6,1082.3 1778.6,1078.4 1782.0,1082.1 1782.0,1078.8 1782.0,1078.4 1782.0,1083.4 1782.0,1074.9 1785.3,1082.7 1785.3,1077.1 1785.3,1087.6 1785.3,1079.3 1785.3,1087.9 1788.6,1086.6 1788.6,1088.8 1788.6,1083.6 1788.6,1082.0 1788.6,1084.1 1792.0,1072.4 1792.0,1077.7 1792.0,1085.8 1792.0,1081.2 1792.0,1082.1 1795.3,1079.7 1795.3,1080.8 1795.3,1086.5 1795.3,1072.4 1795.3,1075.1 1798.6,1077.2 1798.6,1074.7 1798.6,1077.8 1798.6,1082.2 1798.6,1084.0 1802.0,1076.5 1802.0,1082.8 1802.0,1080.7 1802.0,1084.0 1802.0,1076.4 1805.3,1080.6 1805.3,1078.0 1805.3,1080.3 1805.3,1083.2 1805.3,1075.9 1808.6,1078.2 1808.6,1080.9 1808.6,1073.8 1808.6,1071.6 1808.6,1068.9 1812.0,1072.8 1812.0,1074.7 1812.0,1071.6 1812.0,1078.7 1812.0,1075.5 1815.3,1074.7 1815.3,1082.0 1815.3,1072.5 1815.3,1070.8 1815.3,1075.5 1818.6,1069.7 1818.6,1078.5 1818.6,1070.5 1818.6,1070.3 1818.6,1077.1 1822.0,1075.0 1822.0,1077.5 1822.0,1080.6 1822.0,1082.2 1822.0,1081.4 1825.3,1075.8 1825.3,1084.3 1825.3,1078.6 1825.3,1067.9 1825.3,1075.5 1828.6,1077.7 1828.6,1080.6 1828.6,1088.3 1828.6,1075.3 1828.6,1074.6 1832.0,1079.2 1832.0,1082.0 1832.0,1078.6 1832.0,1081.7 1832.0,1074.3 1835.3,1078.6 1835.3,1074.9 1835.3,1081.6 1835.3,1083.8 1835.3,1087.7 1838.6,1076.3 1838.6,1083.3 1838.6,1072.4 1838.6,1077.3 1838.6,1077.3 1842.0,1084.9 1842.0,1074.2 1842.0,1074.5 1842.0,1071.0 1842.0,1078.3 1845.3,1075.5 1845.3,1074.8 1845.3,1073.3 1845.3,1072.3 1845.3,1074.8 1848.6,1073.9 1848.6,1072.9 1848.6,1070.1 1848.6,1072.2 1848.6,1075.2 1852.0,1077.6 1852.0,1079.2 1852.0,1074.6 1852.0,1082.1 1852.0,1083.1 1855.3,1079.4 1855.3,1081.8 1855.3,1081.1 1855.3,1078.8 1855.3,1081.1 1858.6,1079.6 1858.6,1079.6 1858.6,1081.3 1858.6,1084.7 1858.6,1079.1 1862.0,1081.6 1862.0,1084.3 1862.0,1086.1 1862.0,1082.3 1862.0,1074.9 1865.3,1082.7 1865.3,1079.6 1865.3,1084.8 1865.3,1086.1 1865.3,1078.3 1868.6,1081.3 1868.6,1087.0 1868.6,1077.4 1868.6,1082.4 1868.6,1077.1 1872.0,1076.3 1872.0,1081.3 1872.0,1083.9 1872.0,1074.8 1872.0,1071.0 1875.3,1078.3 1875.3,1085.4 1875.3,1080.5 1875.3,1076.0 1875.3,1085.6 1878.6,1080.8 1878.6,1081.0 1878.6,1079.2 1878.6,1068.4 1878.6,1076.0 1881.9,1069.7 1881.9,1075.6 1881.9,1076.4 1881.9,1077.3 1881.9,1076.7 1885.3,1071.2 1885.3,1073.1 1885.3,1074.5 1885.3,1073.7 1885.3,1082.8 1888.6,1081.2 1888.6,1084.6 1888.6,1081.7 1888.6,1074.8 1888.6,1083.4 1891.9,1083.6 1891.9,1082.5 1891.9,1085.7 1891.9,1080.2 1891.9,1078.1 1895.3,1075.5 1895.3,1080.0 1895.3,1078.3 1895.3,1076.2 1895.3,1082.6 1898.6,1082.3 1898.6,1078.1 1898.6,1078.7 1898.6,1079.5 1898.6,1078.4 1901.9,1080.2 1901.9,1081.8 1901.9,1076.4 1901.9,1079.1 1901.9,1080.2 1905.3,1073.6 1905.3,1075.9 1905.3,1071.7 1905.3,1078.8 1905.3,1071.6 1908.6,1068.2 1908.6,1078.1 1908.6,1078.4 1908.6,1079.6 1908.6,1079.4 1911.9,1077.4 1911.9,1075.4 1911.9,1078.7 1911.9,1074.8 1911.9,1081.1 1915.3,1078.3 1915.3,1073.3 1915.3,1072.0 1915.3,1070.1 1915.3,1070.8 1918.6,1072.3 1918.6,1083.6 1918.6,1079.7 1918.6,1079.0 1918.6,1077.1 1921.9,1075.2 1921.9,1070.9 1921.9,1078.8 1921.9,1087.5 1921.9,1082.3 1925.3,1075.5 1925.3,1074.5 1925.3,1081.6 1925.3,1073.7 1925.3,1076.7 1928.6,1072.3 1928.6,1088.7 1928.6,1078.0 1928.6,1079.5 1928.6,1078.8 1931.9,1081.0 1931.9,1082.7 1931.9,1081.3 1931.9,1085.4 1931.9,1089.8 1935.3,1077.9 1935.3,1082.8 1935.3,1084.7 1935.3,1075.6 1935.3,1081.9 1938.6,1081.6 1938.6,1078.5 1938.6,1082.5 1938.6,1080.3 1938.6,1084.4 1941.9,1076.6 1941.9,1080.6 1941.9,1073.9 1941.9,1077.9 1941.9,1075.3 1945.3,1081.9 1945.3,1082.3 1945.3,1076.2 1945.3,1076.2 1945.3,1080.6 1948.6,1076.9 1948.6,1080.3 1948.6,1077.4 1948.6,1082.4 1948.6,1076.3 1951.9,1081.1 1951.9,1077.2 1951.9,1080.5 1951.9,1078.9 1951.9,1078.5 1955.3,1077.8 1955.3,1073.2 1955.3,1071.1 1955.3,1075.9 1955.3,1082.6 1958.6,1077.7 1958.6,1081.8 1958.6,1072.1 1958.6,1077.6 1958.6,1078.6 1961.9,1076.4 1961.9,1079.8 1961.9,1075.6 1961.9,1076.9 1961.9,1083.4 1965.3,1075.4 1965.3,1080.3 1965.3,1074.9 1965.3,1086.3 1965.3,1071.0 1968.6,1079.4 1968.6,1078.9 1968.6,1072.8 1968.6,1080.5 1968.6,1073.7 1971.9,1084.2 1971.9,1072.0 1971.9,1071.8 1971.9,1075.2 1971.9,1084.3 1975.3,1076.8 1975.3,1077.8 1975.3,1080.9 1975.3,1083.0 1975.3,1081.5 1978.6,1082.8 1978.6,1080.4 1978.6,1076.9 1978.6,1081.4 1978.6,1078.8 1981.9,1081.0 1981.9,1083.4 1981.9,1080.5 1981.9,1082.0 1981.9,1079.2 1985.3,1073.8 1985.3,1088.0 1985.3,1079.6 1985.3,1088.1 1985.3,1081.1 1988.6,1085.8 1988.6,1078.2 1988.6,1073.1 1988.6,1082.7 1988.6,1078.8 1991.9,1083.8 1991.9,1079.5 1991.9,1074.9 1991.9,1084.5 1991.9,1083.0 1995.3,1086.9 1995.3,1079.8 1995.3,1079.1 1995.3,1082.8 1995.3,1078.3 1998.6,1087.4 1998.6,1079.3 1998.6,1081.3 1998.6,1086.6 1998.6,1086.7 2001.9,1084.2 2001.9,1078.0 2001.9,1076.4 2001.9,1079.5 2001.9,1076.2 2005.3,1081.3 2005.3,1084.8 2005.3,1076.7 2005.3,1080.3 2005.3,1087.0 2008.6,1084.0 2008.6,1079.0 2008.6,1078.1 2008.6,1080.4 2008.6,1085.5 2011.9,1080.8 2011.9,1074.0 2011.9,1077.3 2011.9,1074.8 2011.9,1083.3 2015.2,1080.5 2015.2,1076.9 2015.2,1076.6 2015.2,1078.1 2015.2,1083.8 2018.6,1075.3 2018.6,1075.5 2018.6,1078.4 2018.6,1071.9 2018.6,1065.5 2021.9,1074.5 2021.9,1075.2 2021.9,1070.9 2021.9,1066.2 2021.9,1074.2 2025.2,1075.4 2025.2,1076.5 2025.2,1066.9 2025.2,1072.0 2025.2,1072.3 2028.6,1075.9 2028.6,1078.3 2028.6,1079.1 2028.6,1072.6 2028.6,1070.3 2031.9,1080.7 2031.9,1073.0 2031.9,1085.1 2031.9,1087.4 2031.9,1079.5 2035.2,1077.0 2035.2,1075.2 2035.2,1080.8 2035.2,1082.3 2035.2,1074.4 2038.6,1090.5 2038.6,1077.0 2038.6,1078.8 2038.6,1084.7 2038.6,1082.4 2041.9,1073.3 2041.9,1091.6 2041.9,1082.1 2041.9,1086.1 2041.9,1080.5 2045.2,1079.6 2045.2,1079.6 2045.2,1078.0 2045.2,1076.9 2045.2,1078.3 2048.6,1085.1 2048.6,1083.1 2048.6,1075.6 2048.6,1081.0 2048.6,1075.9 2051.9,1074.3 2051.9,1090.2 2051.9,1069.7 2051.9,1074.6 2051.9,1074.5 2055.2,1072.7 2055.2,1073.2 2055.2,1071.9 2055.2,1078.8 2055.2,1076.1 2058.6,1077.6 2058.6,1076.7 2058.6,1074.9 2058.6,1075.4 2058.6,1077.2 2061.9,1078.8 2061.9,1080.1 2061.9,1077.7 2061.9,1080.7 2061.9,1080.3 2065.2,1074.5 2065.2,1074.1 2065.2,1079.8 2065.2,1081.0 2065.2,1086.9 2068.6,1079.8 2068.6,1078.1 2068.6,1080.3 2068.6,1080.5 2068.6,1075.1 2071.9,1076.2 2071.9,1081.0 2071.9,1071.5 2071.9,1073.0 2071.9,1069.0 2075.2,1077.4 2075.2,1079.8 2075.2,1077.8 2075.2,1077.5 2075.2,1080.7 2078.6,1073.2 2078.6,1079.7 2078.6,1085.7 2078.6,1074.3 2078.6,1077.3 2081.9,1075.1 2081.9,1079.3 2081.9,1085.7 2081.9,1070.2 2081.9,1074.7 2085.2,1077.8 2085.2,1076.3 2085.2,1071.8 2085.2,1075.9 2085.2,1078.2 2088.6,1077.3 2088.6,1082.7 2088.6,1075.8 2088.6,1077.1 2088.6,1074.0 2091.9,1078.9 2091.9,1078.5 2091.9,1083.3 2091.9,1077.3 2091.9,1076.9 2095.2,1077.7 2095.2,1071.1 2095.2,1072.4 2095.2,1075.5 2095.2,1079.7 2098.6,1075.0 2098.6,1060.4 2098.6,1076.9 2098.6,1076.6 2098.6,1072.8 2101.9,1079.7 2101.9,1074.0 2101.9,1082.0 2101.9,1076.5 2101.9,1076.1 2105.2,1076.3 2105.2,1073.5 2105.2,1077.9 2105.2,1078.9 2105.2,1075.1 2108.6,1079.3 2108.6,1075.9 2108.6,1081.0 2108.6,1078.0 2108.6,1080.1 2111.9,1078.2 2111.9,1079.9 2111.9,1078.1 2111.9,1088.4 2111.9,1072.4 2115.2,1081.6 2115.2,1076.2 2115.2,1080.7 2115.2,1068.2 2115.2,1072.2 2118.6,1068.8 2118.6,1078.2 2118.6,1075.5 2118.6,1071.9 2118.6,1077.6 2121.9,1066.9 2121.9,1072.8 2121.9,1073.7 2121.9,1077.1 2121.9,1071.6 2125.2,1077.4 2125.2,1083.5 2125.2,1078.1 2125.2,1082.7 2125.2,1078.6 2128.6,1077.0 2128.6,1079.9 2128.6,1080.2 2128.6,1086.3 2128.6,1082.2 2131.9,1072.9 2131.9,1083.9 2131.9,1087.7 2131.9,1080.2 2131.9,1073.7 2135.2,1075.7 2135.2,1079.2 2135.2,1079.0 2135.2,1080.9 2135.2,1077.9 2138.6,1078.6 2138.6,1079.9 2138.6,1086.9 2138.6,1081.7 2138.6,1082.4 2141.9,1083.9 2141.9,1078.8 2141.9,1078.7 2141.9,1082.3 2141.9,1076.5 2145.2,1079.9 2145.2,1081.4 2145.2,1075.7 2145.2,1076.2 2145.2,1069.0 2148.5,1074.5 2148.5,1076.4 2148.5,1077.2 2148.5,1080.3 2148.5,1084.2 2151.9,1078.1 2151.9,1079.3 2151.9,1076.1 2151.9,1073.0 2151.9,1076.5 2155.2,1073.0 2155.2,1065.5 2155.2,1076.0 2155.2,1076.8 2155.2,1069.8 2158.5,1070.5 2158.5,1068.5 2158.5,1078.9 2158.5,1082.1 2158.5,1069.4 2161.9,1070.3 2161.9,1075.5 2161.9,1085.9 2161.9,1067.8 2161.9,1069.7 2165.2,1071.5 2165.2,1084.0 2165.2,1076.1 2165.2,1080.4 2165.2,1076.9 2168.5,1071.7 2168.5,1078.6 2168.5,1082.5 2168.5,1083.4 2168.5,1076.7 2171.9,1082.3 2171.9,1079.9 2171.9,1080.6 2171.9,1081.4 2171.9,1080.6 2175.2,1082.5 2175.2,1070.1 2175.2,1073.3 2175.2,1075.6 2175.2,1064.1 2178.5,1070.6 2178.5,1065.2 2178.5,1065.4 2178.5,1065.0 2178.5,1062.1 2181.9,1055.0 2181.9,1040.7 2181.9,1041.6 2181.9,1028.7 2181.9,1020.2 2185.2,1004.9 2185.2,992.7 2185.2,983.5 2185.2,965.6 2185.2,957.6 2188.5,941.4 2188.5,934.7 2188.5,930.6 2188.5,927.0 2188.5,926.3 2191.9,926.5 2191.9,930.7 2191.9,936.2 2191.9,944.1 2191.9,953.0 2195.2,957.1 2195.2,967.1 2195.2,974.5 2195.2,979.2 2195.2,985.8 2198.5,1000.0 2198.5,1002.0 2198.5,1012.9 2198.5,1022.4 2198.5,1030.4 2201.9,1037.0 2201.9,1038.1 2201.9,1055.8 2201.9,1052.1 2201.9,1065.1 2205.2,1060.2 2205.2,1067.4 2205.2,1073.8 2205.2,1064.5 2205.2,1077.3 2208.5,1074.7 2208.5,1076.6 2208.5,1073.6 2208.5,1078.4 2208.5,1071.4 2211.9,1068.2 2211.9,1067.2 2211.9,1068.1 2211.9,1075.9 2211.9,1074.5 2215.2,1072.2 2215.2,1073.7 2215.2,1075.9 2215.2,1084.3 2215.2,1077.4 2218.5,1073.6 2218.5,1076.5 2218.5,1066.8 2218.5,1091.4 2218.5,1084.8 2221.9,1084.2 2221.9,1075.0 2221.9,1073.0 2221.9,1083.6 2221.9,1079.1 2225.2,1076.7 2225.2,1077.9 2225.2,1078.2 2225.2,1082.3 2225.2,1083.3 2228.5,1085.2 2228.5,1084.5 2228.5,1076.3 2228.5,1080.3 2228.5,1081.1 2231.9,1084.2 2231.9,1079.6 2231.9,1075.9 2231.9,1085.5 2231.9,1074.6 2235.2,1078.9 2235.2,1092.6 2235.2,1080.5 2235.2,1080.2 2235.2,1075.5 2238.5,1082.0 2238.5,1091.4 2238.5,1088.3 2238.5,1087.1 2238.5,1078.0 2241.9,1084.1 2241.9,1084.8 2241.9,1077.3 2241.9,1074.7 2241.9,1084.3 2245.2,1077.1 2245.2,1072.1 2245.2,1073.4 2245.2,1069.9 2245.2,1069.8 2248.5,1071.9 2248.5,1077.4 2248.5,1065.7 2248.5,1071.5 2248.5,1074.4 2251.9,1075.9 2251.9,1071.8 2251.9,1076.4 2251.9,1074.4 2251.9,1069.0 2255.2,1071.9 2255.2,1079.0 2255.2,1073.0 2255.2,1075.6 2255.2,1077.6 2258.5,1078.4 2258.5,1078.1 2258.5,1073.7 2258.5,1069.3 2258.5,1075.6 2261.9,1068.8 2261.9,1078.7 2261.9,1076.1 2261.9,1068.8 2261.9,1074.8 2265.2,1074.5 2265.2,1074.6 2265.2,1078.7 2265.2,1066.9 2265.2,1077.2 2268.5,1074.0 2268.5,1076.1 2268.5,1074.6 2268.5,1072.8 2268.5,1089.9 2271.9,1086.5 2271.9,1089.7 2271.9,1084.4 2271.9,1081.7 2271.9,1079.7 2275.2,1083.2 2275.2,1078.4 2275.2,1077.7 2275.2,1080.2 2275.2,1085.5 2278.5,1083.1 2278.5,1081.3 2278.5,1077.2 2278.5,1081.0 2278.5,1078.8 2281.8,1087.3 2281.8,1092.3 2281.8,1079.5 2281.8,1079.4 2281.8,1084.1 2285.2,1081.9 2285.2,1077.6 2285.2,1077.6 2285.2,1074.8 2285.2,1077.2 2288.5,1081.7 2288.5,1078.2 2288.5,1071.5 2288.5,1073.2 2288.5,1083.9 2291.8,1078.6 2291.8,1073.4 2291.8,1078.8 2291.8,1076.4 2291.8,1073.0 2295.2,1077.0 2295.2,1075.8 2295.2,1079.0 2295.2,1081.3 2295.2,1078.9 2298.5,1073.8 2298.5,1077.5 2298.5,1076.3 2298.5,1068.0 2298.5,1080.7 2301.8,1073.7 2301.8,1080.6 2301.8,1076.3 2301.8,1075.8 2301.8,1074.5 2305.2,1083.9 2305.2,1082.6 2305.2,1080.9 2305.2,1082.2 2305.2,1093.9 2308.5,1080.3 2308.5,1087.2 2308.5,1081.8 2308.5,1087.1 2308.5,1080.0 2311.8,1080.8 2311.8,1068.9 2311.8,1076.5 2311.8,1080.4 2311.8,1074.8 2315.2,1084.5 2315.2,1073.1 2315.2,1072.0 2315.2,1078.5 2315.2,1077.4 2318.5,1083.9 2318.5,1074.7 2318.5,1072.8 2318.5,1082.2 2318.5,1074.0 2321.8,1081.8 2321.8,1071.0 2321.8,1087.3 2321.8,1079.4 2321.8,1074.6 2325.2,1084.3 2325.2,1082.5 2325.2,1079.6 2325.2,1080.7 2325.2,1083.8 2328.5,1084.0 2328.5,1082.8 2328.5,1082.7 2328.5,1083.6 2328.5,1077.8 2331.8,1080.8 2331.8,1079.6 2331.8,1079.1 2331.8,1086.9 2331.8,1085.9 2335.2,1072.5 2335.2,1089.6 2335.2,1083.4 2335.2,1077.4 2335.2,1080.8 2338.5,1081.1 2338.5,1072.5 2338.5,1084.3 2338.5,1074.9 2338.5,1086.3 2341.8,1087.1 2341.8,1081.6 2341.8,1079.3 2341.8,1070.4 2341.8,1079.1" fill="none" stroke="#ff0000" stroke-width="4.0" stroke-linejoin="round" stroke-linecap="round"/>
<polyline points="345.7,1429.4 345.7,1439.1 345.7,1441.9 345.7,1448.6 345.7,1446.0 345.7,1445.7 349.0,1450.1 349.0,1448.2 349.0,1451.5 349.0,1449.7 349.0,1451.8 352.3,1457.0 352.3,1453.7 352.3,1450.7 352.3,1457.8 352.3,1465.0 355.7,1459.8 355.7,1462.1 355.7,1451.0 355.7,1459.2 355.7,1467.5 359.0,1464.1 359.0,1457.6 359.0,1469.0 359.0,1466.6 359.0,1464.8 362.3,1465.8 362.3,1467.9 362.3,1465.1 362.3,1471.8 362.3,1468.6 365.7,1468.8 365.7,1467.7 365.7,1467.9 365.7,1466.7 365.7,1468.2 369.0,1468.6 369.0,1465.3 369.0,1463.0 369.0,1462.6 369.0,1471.4 372.3,1465.5 372.3,1463.3 372.3,1467.5 372.3,1464.4 372.3,1467.2 375.7,1464.8 375.7,1472.8 375.7,1464.6 375.7,1468.6 375.7,1469.8 379.0,1468.1 379.0,1462.7 379.0,1462.9 379.0,1465.8 379.0,1463.1 382.3,1468.3 382.3,1471.6 382.3,1474.0 382.3,1466.0 382.3,1466.1 385.7,1465.1 385.7,1464.7 385.7,1459.6 385.7,1468.3 385.7,1467.6 389.0,1456.2 389.0,1461.1 389.0,1465.6 389.0,1473.0 389.0,1468.1 392.3,1466.1 392.3,1465.0 392.3,1463.9 392.3,1465.7 392.3,1459.9 395.7,1469.6 395.7,1465.8 395.7,1467.3 395.7,1461.2 395.7,1463.7 399.0,1461.1 399.0,1464.2 399.0,1448.9 399.0,1461.8 399.0,1468.2 402.3,1465.3 402.3,1467.2 402.3,1462.5 402.3,1461.8 402.3,1464.3 405.7,1466.7 405.7,1468.7 405.7,1459.1 405.7,1461.0 405.7,1477.8 409.0,1465.0 409.0,1468.7 409.0,1466.6 409.0,1457.7 409.0,1469.5 412.3,1469.1 412.3,1454.5 412.3,1466.9 412.3,1466.1 412.3,1460.5 415.6,1467.7 415.6,1465.7 415.6,1465.1 415.6,1460.5 415.6,1473.4 419.0,1470.4 419.0,1467.6 419.0,1463.4 419.0,1470.1 419.0,1465.5 422.3,1469.7 422.3,1469.2 422.3,1462.3 422.3,1468.6 422.3,1455.3 425.6,1466.2 425.6,1463.1 425.6,1464.8 425.6,1474.5 425.6,1474.5 429.0,1466.1 429.0,1472.8 429.0,1470.5 429.0,1469.7 429.0,1472.1 432.3,1463.3 432.3,1465.0 432.3,1467.5 432.3,1465.8 432.3,1471.9 435.6,1464.3 435.6,1471.5 435.6,1461.2 435.6,1470.5 435.6,1469.9 439.0,1462.5 439.0,1464.6 439.0,1471.2 439.0,1464.5 439.0,1466.9 442.3,1466.7 442.3,1464.1 442.3,1464.1 442.3,1462.3 442.3,1464.6 445.6,1465.2 445.6,1467.1 445.6,1460.5 445.6,1470.1 445.6,1459.0 449.0,1458.0 449.0,1458.2 449.0,1468.1 449.0,1458.8 449.0,1463.0 452.3,1463.4 452.3,1454.1 452.3,1467.1 452.3,1465.5 452.3,1473.1 455.6,1477.0 455.6,1466.3 455.6,1465.5 455.6,1464.2 455.6,1465.7 459.0,1475.1 459.0,1465.0 459.0,1461.6 459.0,1459.6 459.0,1470.1 462.3,1469.8 462.3,1468.9 462.3,1468.6 462.3,1472.8 462.3,1468.9 465.6,1459.4 465.6,1470.5 465.6,1473.9 465.6,1467.2 465.6,1468.2 469.0,1463.2 469.0,1469.0 469.0,1466.6 469.0,1469.2 469.0,1469.5 472.3,1463.7 472.3,1464.5 472.3,1465.1 472.3,1462.5 472.3,1468.0 475.6,1464.4 475.6,1463.5 475.6,1459.4 475.6,1472.3 475.6,1465.8 479.0,1462.5 479.0,1466.8 479.0,1464.0 479.0,1461.5 479.0,1462.4 482.3,1471.8 482.3,1469.7 482.3,1476.6 482.3,1462.2 482.3,1464.4 485.6,1459.9 485.6,1465.7 485.6,1471.1 485.6,1462.1 485.6,1472.5 489.0,1467.3 489.0,1468.4 489.0,1464.4 489.0,1464.0 489.0,1469.7 492.3,1471.0 492.3,1468.0 492.3,1470.1 492.3,1463.5 492.3,1465.7 495.6,1461.1 495.6,1455.7 495.6,1470.0 495.6,1468.7 495.6,1463.9 499.0,1464.1 499.0,1467.1 499.0,1472.8 499.0,1454.9 499.0,1465.3 502.3,1470.7 502.3,1476.0 502.3,1460.1 502.3,1464.7 502.3,1466.2 505.6,1470.7 505.6,1466.8 505.6,1468.0 505.6,1476.8 505.6,1454.9 509.0,1464.2 509.0,1467.3 509.0,1469.8 509.0,1468.1 509.0,1455.1 512.3,1463.4 512.3,1470.5 512.3,1460.9 512.3,1462.4 512.3,1462.1 515.6,1464.7 515.6,1464.8 515.6,1463.0 515.6,1464.7 515.6,1469.7 519.0,1467.9 519.0,1463.5 519.0,1470.3 519.0,1464.1 519.0,1464.9 522.3,1460.5 522.3,1463.0 522.3,1465.0 522.3,1465.1 522.3,1462.1 525.6,1460.1 525.6,1468.6 525.6,1470.6 525.6,1467.3 525.6,1473.9 529.0,1467.3 529.0,1460.4 529.0,1459.7 529.0,1457.2 529.0,1463.3 532.3,1462.9 532.3,1466.0 532.3,1465.7 532.3,1462.3 532.3,1459.8 535.6,1461.9 535.6,1472.5 535.6,1462.1 535.6,1464.4 535.6,1467.2 539.0,1464.4 539.0,1461.5 539.0,1465.0 539.0,1468.9 539.0,1451.8 542.3,1468.8 542.3,1464.3 542.3,1461.0 542.3,1470.0 542.3,1464.0 545.6,1469.8 545.6,1467.3 545.6,1469.3 545.6,1458.6 545.6,1471.9 548.9,1463.9 548.9,1465.9 548.9,1474.5 548.9,1458.8 548.9,1468.5 552.3,1467.2 552.3,1465.1 552.3,1469.7 552.3,1469.0 552.3,1465.7 555.6,1469.0 555.6,1464.6 555.6,1459.4 555.6,1468.8 555.6,1471.0 558.9,1464.6 558.9,1462.1 558.9,1460.8 558.9,1468.1 558.9,1473.3 562.3,1459.5 562.3,1460.2 562.3,1456.8 562.3,1467.3 562.3,1460.9 565.6,1459.2 565.6,1471.4 565.6,1459.4 565.6,1458.0 565.6,1461.7 568.9,1462.0 568.9,1461.2 568.9,1465.4 568.9,1470.3 568.9,1468.0 572.3,1464.6 572.3,1467.1 572.3,1458.9 572.3,1464.7 572.3,1463.2 575.6,1469.9 575.6,1460.5 575.6,1465.0 575.6,1455.6 575.6,1469.1 578.9,1460.4 578.9,1463.3 578.9,1463.1 578.9,1454.3 578.9,1457.3 582.3,1464.8 582.3,1455.3 582.3,1463.9 582.3,1457.8 582.3,1468.5 585.6,1462.8 585.6,1462.9 585.6,1463.4 585.6,1469.0 585.6,1470.7 588.9,1463.2 588.9,1461.0 588.9,1463.8 588.9,1465.7 588.9,1470.8 592.3,1465.7 592.3,1467.0 592.3,1467.6 592.3,1463.7 592.3,1463.5 595.6,1462.2 595.6,1464.6 595.6,1466.7 595.6,1463.7 595.6,1463.9 598.9,1469.2 598.9,1463.6 598.9,1469.0 598.9,1470.3 598.9,1465.6 602.3,1465.0 602.3,1459.7 602.3,1464.2 602.3,1461.1 602.3,1457.7 605.6,1463.6 605.6,1463.0 605.6,1467.9 605.6,1461.9 605.6,1465.5 608.9,1465.8 608.9,1471.1 608.9,1470.5 608.9,1469.5 608.9,1466.4 612.3,1462.3 612.3,1473.2 612.3,1468.4 612.3,1468.1 612.3,1457.2 615.6,1467.4 615.6,1468.7 615.6,1463.2 615.6,1470.8 615.6,1463.7 618.9,1472.9 618.9,1457.1 618.9,1465.6 618.9,1467.0 618.9,1470.5 622.3,1465.5 622.3,1464.3 622.3,1467.6 622.3,1459.4 622.3,1465.8 625.6,1464.1 625.6,1463.4 625.6,1459.0 625.6,1466.5 625.6,1464.9 628.9,1464.2 628.9,1463.0 628.9,1473.4 628.9,1461.0 628.9,1466.3 632.3,1468.6 632.3,1465.5 632.3,1473.1 632.3,1467.9 632.3,1463.4 635.6,1458.1 635.6,1463.8 635.6,1461.5 635.6,1464.2 635.6,1459.2 638.9,1464.5 638.9,1461.0 638.9,1464.5 638.9,1467.3 638.9,1467.7 642.3,1466.5 642.3,1459.1 642.3,1450.8 642.3,1465.2 642.3,1467.5 645.6,1462.2 645.6,1462.3 645.6,1466.5 645.6,1456.0 645.6,1460.2 648.9,1459.7 648.9,1463.2 648.9,1462.7 648.9,1459.0 648.9,1468.8 652.3,1466.2 652.3,1462.4 652.3,1468.9 652.3,1455.9 652.3,1465.5 655.6,1464.9 655.6,1461.9 655.6,1457.2 655.6,1464.0 655.6,1467.4 658.9,1468.5 658.9,1464.0 658.9,1467.8 658.9,1455.8 658.9,1460.9 662.3,1479.8 662.3,1470.8 662.3,1465.7 662.3,1457.9 662.3,1476.4 665.6,1470.2 665.6,1463.6 665.6,1472.0 665.6,1469.2 665.6,1472.0 668.9,1467.5 668.9,1475.3 668.9,1470.8 668.9,1477.1 668.9,1466.9 672.3,1468.3 672.3,1470.8 672.3,1470.0 672.3,1469.6 672.3,1470.6 675.6,1467.7 675.6,1466.1 675.6,1467.2 675.6,1468.8 675.6,1467.4 678.9,1467.1 678.9,1462.8 678.9,1463.8 678.9,1456.0 678.9,1464.8 682.2,1463.8 682.2,1466.7 682.2,1463.7 682.2,1466.0 682.2,1467.7 685.6,1463.4 685.6,1457.3 685.6,1467.5 685.6,1466.4 685.6,1463.6 688.9,1462.1 688.9,1457.5 688.9,1465.5 688.9,1463.1 688.9,1465.7 692.2,1465.9 692.2,1464.1 692.2,1466.8 692.2,1460.3 692.2,1457.8 695.6,1464.5 695.6,1465.4 695.6,1457.1 695.6,1463.8 695.6,1457.0 698.9,1475.6 698.9,1464.5 698.9,1468.4 698.9,1466.7 698.9,1461.3 702.2,1460.5 702.2,1466.0 702.2,1461.7 702.2,1470.6 702.2,1465.1 705.6,1467.2 705.6,1474.1 705.6,1463.6 705.6,1470.6 705.6,1466.3 708.9,1471.7 708.9,1468.1 708.9,1466.5 708.9,1469.4 708.9,1471.6 712.2,1467.3 712.2,1469.1 712.2,1471.8 712.2,1470.0 712.2,1470.6 715.6,1471.7 715.6,1466.4 715.6,1462.8 715.6,1472.1 715.6,1470.3 718.9,1473.5 718.9,1474.8 718.9,1464.1 718.9,1471.3 718.9,1466.7 722.2,1473.5 722.2,1470.2 722.2,1465.2 722.2,1465.0 722.2,1465.8 725.6,1464.9 725.6,1465.5 725.6,1462.0 725.6,1459.0 725.6,1463.6 728.9,1466.3 728.9,1470.0 728.9,1467.6 728.9,1466.8 728.9,1459.3 732.2,1471.8 732.2,1468.7 732.2,1469.7 732.2,1461.8 732.2,1468.5 735.6,1473.5 735.6,1474.6 735.6,1465.0 735.6,1473.5 735.6,1462.4 738.9,1463.0 738.9,1472.6 738.9,1469.8 738.9,1468.8 738.9,1475.7 742.2,1475.2 742.2,1473.2 742.2,1471.2 742.2,1470.2 742.2,1479.5 745.6,1470.7 745.6,1472.1 745.6,1472.5 745.6,1472.9 745.6,1466.1 748.9,1463.3 748.9,1471.0 748.9,1469.1 748.9,1474.3 748.9,1468.6 752.2,1463.3 752.2,1466.0 752.2,1463.6 752.2,1465.1 752.2,1463.9 755.6,1461.3 755.6,1460.7 755.6,1471.9 755.6,1464.6 755.6,1475.9 758.9,1463.6 758.9,1466.1 758.9,1466.3 758.9,1457.4 758.9,1462.6 762.2,1459.5 762.2,1461.8 762.2,1457.5 762.2,1465.8 762.2,1466.1 765.6,1465.7 765.6,1455.3 765.6,1467.6 765.6,1465.9 765.6,1460.5 768.9,1462.6 768.9,1468.8 768.9,1459.5 768.9,1464.8 768.9,1460.8 772.2,1464.3 772.2,1463.5 772.2,1469.7 772.2,1460.6 772.2,1469.3 775.6,1465.9 775.6,1461.6 775.6,1467.5 775.6,1465.6 775.6,1466.1 778.9,1465.5 778.9,1463.7 778.9,1472.6 778.9,1468.6 778.9,1457.8 782.2,1474.7 782.2,1469.3 782.2,1463.3 782.2,1474.4 782.2,1470.3 785.6,1470.1 785.6,1460.2 785.6,1470.4 785.6,1464.2 785.6,1469.6 788.9,1467.1 788.9,1472.1 788.9,1473.7 788.9,1469.8 788.9,1474.0 792.2,1469.3 792.2,1468.4 792.2,1467.4 792.2,1463.0 792.2,1463.6 795.6,1474.2 795.6,1472.7 795.6,1462.3 795.6,1469.4 795.6,1470.5 798.9,1464.1 798.9,1470.8 798.9,1463.8 798.9,1468.6 798.9,1461.5 802.2,1467.2 802.2,1462.8 802.2,1461.5 802.2,1459.0 802.2,1469.0 805.6,1467.3 805.6,1471.7 805.6,1473.1 805.6,1468.2 805.6,1465.7 808.9,1461.4 808.9,1468.7 808.9,1459.2 808.9,1466.6 808.9,1463.9 812.2,1468.7 812.2,1473.0 812.2,1461.0 812.2,1468.7 812.2,1462.7 815.5,1468.8 815.5,1464.6 815.5,1467.5 815.5,1468.2 815.5,1467.3 818.9,1463.7 818.9,1471.6 818.9,1470.5 818.9,1462.3 818.9,1469.5 822.2,1465.6 822.2,1471.9 822.2,1467.1 822.2,1461.5 822.2,1465.6 825.5,1464.9 825.5,1467.3 825.5,1465.1 825.5,1472.8 825.5,1472.1 828.9,1463.4 828.9,1472.5 828.9,1459.6 828.9,1461.5 828.9,1470.1 832.2,1474.3 832.2,1475.4 832.2,1464.0 832.2,1465.7 832.2,1459.6 835.5,1463.3 835.5,1458.7 835.5,1461.4 835.5,1469.0 835.5,1465.6 838.9,1468.3 838.9,1465.9 838.9,1466.6 838.9,1465.3 838.9,1458.5 842.2,1466.4 842.2,1468.9 842.2,1466.4 842.2,1465.5 842.2,1465.6 845.5,1463.6 845.5,1464.3 845.5,1457.4 845.5,1457.8 845.5,1464.4 848.9,1456.7 848.9,1454.7 848.9,1460.3 848.9,1463.7 848.9,1458.3 852.2,1460.5 852.2,1458.9 852.2,1464.9 852.2,1452.0 852.2,1462.0 855.5,1459.3 855.5,1464.5 855.5,1461.8 855.5,1472.5 855.5,1468.7 858.9,1474.0 858.9,1459.8 858.9,1470.1 858.9,1471.0 858.9,1459.8 862.2,1466.6 862.2,1465.1 862.2,1459.8 862.2,1462.0 862.2,1462.5 865.5,1460.7 865.5,1471.4 865.5,1457.5 865.5,1457.1 865.5,1454.7 868.9,1471.1 868.9,1465.9 868.9,1464.7 868.9,1455.4 868.9,1460.4 872.2,1455.6 872.2,1461.6 872.2,1466.6 872.2,1469.8 872.2,1467.1 875.5,1459.3 875.5,1469.1 875.5,1473.4 875.5,1465.0 875.5,1460.7 878.9,1456.4 878.9,1461.5 878.9,1462.8 878.9,1474.4 878.9,1468.5 882.2,1468.5 882.2,1466.3 882.2,1470.8 882.2,1463.5 882.2,1461.5 885.5,1466.2 885.5,1467.8 885.5,1465.7 885.5,1464.7 885.5,1462.9 888.9,1469.7 888.9,1459.8 888.9,1465.6 888.9,1466.3 888.9,1462.5 892.2,1468.1 892.2,1461.4 892.2,1456.0 892.2,1463.2 892.2,1464.2 895.5,1467.1 895.5,1459.0 895.5,1460.8 895.5,1472.1 895.5,1461.9 898.9,1469.1 898.9,1471.4 898.9,1467.0 898.9,1469.6 898.9,1461.9 902.2,1472.1 902.2,1472.1 902.2,1470.5 902.2,1466.9 902.2,1463.5 905.5,1470.3 905.5,1468.5 905.5,1471.8 905.5,1465.9 905.5,1469.1 908.9,1455.6 908.9,1456.5 908.9,1468.4 908.9,1463.9 908.9,1462.7 912.2,1466.7 912.2,1466.0 912.2,1461.7 912.2,1465.6 912.2,1465.7 915.5,1464.7 915.5,1459.5 915.5,1465.9 915.5,1463.4 915.5,1464.3 918.9,1462.5 918.9,1466.6 918.9,1468.1 918.9,1469.2 918.9,1465.5 922.2,1466.0 922.2,1467.7 922.2,1465.7 922.2,1456.6 922.2,1463.0 925.5,1473.7 925.5,1460.3 925.5,1464.8 925.5,1469.3 925.5,1459.1 928.9,1464.8 928.9,1459.9 928.9,1466.5 928.9,1459.3 928.9,1464.8 932.2,1459.4 932.2,1460.0 932.2,1468.2 932.2,1461.9 932.2,1461.5 935.5,1463.8 935.5,1471.2 935.5,1462.8 935.5,1465.6 935.5,1459.5 938.9,1469.3 938.9,1461.0 938.9,1464.9 938.9,1455.1 938.9,1470.3 942.2,1462.3 942.2,1468.8 942.2,1470.7 942.2,1462.3 942.2,1464.5 945.5,1462.7 945.5,1474.0 945.5,1472.5 945.5,1465.1 945.5,1471.4 948.8,1462.5 948.8,1461.2 948.8,1469.0 948.8,1468.5 948.8,1468.6 952.2,1470.0 952.2,1468.9 952.2,1469.6 952.2,1466.7 952.2,1469.6 955.5,1470.0 955.5,1468.6 955.5,1469.4 955.5,1466.6 955.5,1463.5 958.8,1456.6 958.8,1471.6 958.8,1470.2 958.8,1464.3 958.8,1463.6 962.2,1463.7 962.2,1455.5 962.2,1471.0 962.2,1464.0 962.2,1468.8 965.5,1464.9 965.5,1461.8 965.5,1470.4 965.5,1460.5 965.5,1468.8 968.8,1470.2 968.8,1473.3 968.8,1469.9 968.8,1470.6 968.8,1464.4 972.2,1474.9 972.2,1467.7 972.2,1465.3 972.2,1470.0 972.2,1465.8 975.5,1471.9 975.5,1467.2 975.5,1470.2 975.5,1459.6 975.5,1469.7 978.8,1469.5 978.8,1466.3 978.8,1469.9 978.8,1468.2 978.8,1465.6 982.2,1462.9 982.2,1468.7 982.2,1465.5 982.2,1466.0 982.2,1461.9 985.5,1461.0 985.5,1462.4 985.5,1462.7 985.5,1456.0 985.5,1467.0 988.8,1456.5 988.8,1461.1 988.8,1469.9 988.8,1463.0 988.8,1469.7 992.2,1464.5 992.2,1472.7 992.2,1461.3 992.2,1467.9 992.2,1457.8 995.5,1467.9 995.5,1464.7 995.5,1470.7 995.5,1465.6 995.5,1464.9 998.8,1462.9 998.8,1454.7 998.8,1458.2 998.8,1461.8 998.8,1466.5 1002.2,1466.4 1002.2,1466.6 1002.2,1469.0 1002.2,1462.7 1002.2,1465.9 1005.5,1463.5 1005.5,1466.8 1005.5,1464.3 1005.5,1458.4 1005.5,1464.2 1008.8,1461.6 1008.8,1468.9 1008.8,1465.7 1008.8,1466.3 1008.8,1462.3 1012.2,1462.8 1012.2,1466.5 1012.2,1461.9 1012.2,1462.5 1012.2,1469.2 1015.5,1462.5 1015.5,1457.2 1015.5,1465.7 1015.5,1457.2 1015.5,1458.8 1018.8,1461.0 1018.8,1459.8 1018.8,1465.1 1018.8,1458.9 1018.8,1467.9 1022.2,1466.8 1022.2,1459.9 1022.2,1466.9 1022.2,1454.0 1022.2,1461.1 1025.5,1458.9 1025.5,1458.7 1025.5,1464.5 1025.5,1462.8 1025.5,1461.0 1028.8,1463.0 1028.8,1456.5 1028.8,1458.8 1028.8,1462.2 1028.8,1457.8 1032.2,1462.8 1032.2,1459.9 1032.2,1462.5 1032.2,1464.3 1032.2,1467.2 1035.5,1466.3 1035.5,1463.2 1035.5,1461.6 1035.5,1472.5 1035.5,1465.3 1038.8,1461.2 1038.8,1464.4 1038.8,1468.4 1038.8,1468.2 1038.8,1457.0 1042.2,1470.9 1042.2,1465.9 1042.2,1461.3 1042.2,1473.4 1042.2,1462.5 1045.5,1472.2 1045.5,1461.8 1045.5,1455.1 1045.5,1471.8 1045.5,1467.0 1048.8,1465.2 1048.8,1469.1 1048.8,1464.3 1048.8,1469.3 1048.8,1468.4 1052.2,1469.1 1052.2,1465.4 1052.2,1462.8 1052.2,1460.3 1052.2,1464.5 1055.5,1468.3 1055.5,1465.6 1055.5,1465.5 1055.5,1464.9 1055.5,1460.7 1058.8,1463.8 1058.8,1462.8 1058.8,1463.0 1058.8,1463.7 1058.8,1465.3 1062.2,1460.4 1062.2,1463.9 1062.2,1464.2 1062.2,1468.5 1062.2,1466.9 1065.5,1466.7 1065.5,1461.9 1065.5,1471.8 1065.5,1461.5 1065.5,1464.1 1068.8,1467.7 1068.8,1468.3 1068.8,1462.6 1068.8,1463.8 1068.8,1473.1 1072.2,1467.7 1072.2,1468.7 1072.2,1465.2 1072.2,1467.7 1072.2,1463.3 1075.5,1467.6 1075.5,1466.8 1075.5,1460.6 1075.5,1467.0 1075.5,1468.3 1078.8,1466.2 1078.8,1471.9 1078.8,1473.1 1078.8,1466.6 1078.8,1468.8 1082.1,1472.2 1082.1,1462.2 1082.1,1463.0 1082.1,1464.6 1082.1,1467.5 1085.5,1465.7 1085.5,1466.9 1085.5,1460.5 1085.5,1469.7 1085.5,1462.1 1088.8,1462.8 1088.8,1467.2 1088.8,1459.4 1088.8,1463.1 1088.8,1453.5 1092.1,1456.1 1092.1,1461.1 1092.1,1462.2 1092.1,1463.4 1092.1,1463.6 1095.5,1459.3 1095.5,1466.7 1095.5,1456.8 1095.5,1458.1 1095.5,1461.9 1098.8,1458.5 1098.8,1452.2 1098.8,1460.9 1098.8,1455.2 1098.8,1463.9 1102.1,1465.4 1102.1,1458.8 1102.1,1471.2 1102.1,1459.2 1102.1,1463.3 1105.5,1465.3 1105.5,1462.9 1105.5,1462.7 1105.5,1457.8 1105.5,1459.3 1108.8,1461.7 1108.8,1463.1 1108.8,1465.7 1108.8,1460.3 1108.8,1471.4 1112.1,1455.8 1112.1,1459.2 1112.1,1465.5 1112.1,1455.5 1112.1,1461.0 1115.5,1458.7 1115.5,1463.8 1115.5,1459.2 1115.5,1455.2 1115.5,1456.0 1118.8,1454.4 1118.8,1458.6 1118.8,1453.1 1118.8,1461.6 1118.8,1457.6 1122.1,1466.1 1122.1,1456.0 1122.1,1456.7 1122.1,1454.8 1122.1,1451.1 1125.5,1447.5 1125.5,1457.4 1125.5,1452.9 1125.5,1459.5 1125.5,1443.0 1128.8,1444.5 1128.8,1447.3 1128.8,1443.4 1128.8,1444.0 1128.8,1449.2 1132.1,1442.2 1132.1,1438.7 1132.1,1438.2 1132.1,1439.3 1132.1,1437.2 1135.5,1421.0 1135.5,1423.7 1135.5,1414.0 1135.5,1410.3 1135.5,1385.4 1138.8,1365.1 1138.8,1340.3 1138.8,1292.7 1138.8,1249.0 1138.8,1185.6 1142.1,1113.8 1142.1,1034.8 1142.1,937.5 1142.1,833.6 1142.1,743.3 1145.5,647.3 1145.5,563.1 1145.5,491.8 1145.5,457.1 1145.5,441.0 1148.8,450.1 1148.8,495.0 1148.8,538.6 1148.8,614.9 1148.8,697.8 1152.1,780.3 1152.1,876.9 1152.1,974.3 1152.1,1053.2 1152.1,1132.0 1155.5,1193.8 1155.5,1252.9 1155.5,1298.4 1155.5,1330.0 1155.5,1370.1 1158.8,1384.1 1158.8,1403.0 1158.8,1413.1 1158.8,1433.6 1158.8,1434.5 1162.1,1437.3 1162.1,1432.5 1162.1,1447.7 1162.1,1449.6 1162.1,1447.6 1165.5,1447.1 1165.5,1452.4 1165.5,1450.6 1165.5,1458.8 1165.5,1445.6 1168.8,1454.8 1168.8,1453.3 1168.8,1443.0 1168.8,1457.1 1168.8,1460.3 1172.1,1459.6 1172.1,1448.8 1172.1,1457.0 1172.1,1459.8 1172.1,1457.1 1175.5,1457.4 1175.5,1453.3 1175.5,1454.8 1175.5,1456.4 1175.5,1456.1 1178.8,1461.5 1178.8,1463.4 1178.8,1456.3 1178.8,1455.7 1178.8,1457.0 1182.1,1456.4 1182.1,1454.9 1182.1,1462.3 1182.1,1459.0 1182.1,1461.4 1185.5,1465.7 1185.5,1456.0 1185.5,1459.5 1185.5,1457.2 1185.5,1456.7 1188.8,1463.6 1188.8,1453.9 1188.8,1459.4 1188.8,1456.9 1188.8,1454.4 1192.1,1464.0 1192.1,1465.0 1192.1,1462.0 1192.1,1458.5 1192.1,1458.7 1195.5,1472.1 1195.5,1458.1 1195.5,1466.3 1195.5,1462.5 1195.5,1470.3 1198.8,1468.6 1198.8,1463.5 1198.8,1472.7 1198.8,1461.9 1198.8,1467.7 1202.1,1464.4 1202.1,1465.2 1202.1,1468.3 1202.1,1460.6 1202.1,1456.4 1205.5,1463.7 1205.5,1473.5 1205.5,1465.7 1205.5,1467.1 1205.5,1462.1 1208.8,1465.3 1208.8,1456.3 1208.8,1462.0 1208.8,1462.1 1208.8,1465.7 1212.1,1467.7 1212.1,1464.1 1212.1,1462.7 1212.1,1461.5 1212.1,1462.6 1215.4,1464.6 1215.4,1463.3 1215.4,1465.5 1215.4,1467.8 1215.4,1467.4 1218.8,1461.7 1218.8,1460.8 1218.8,1464.8 1218.8,1464.5 1218.8,1461.6 1222.1,1464.5 1222.1,1450.7 1222.1,1463.3 1222.1,1466.0 1222.1,1471.3 1225.4,1462.8 1225.4,1459.4 1225.4,1464.0 1225.4,1458.7 1225.4,1466.6 1228.8,1464.8 1228.8,1465.5 1228.8,1468.2 1228.8,1471.8 1228.8,1470.1 1232.1,1474.6 1232.1,1463.9 1232.1,1468.3 1232.1,1468.4 1232.1,1470.7 1235.4,1464.5 1235.4,1472.1 1235.4,1461.5 1235.4,1463.9 1235.4,1471.2 1238.8,1468.9 1238.8,1465.1 1238.8,1462.2 1238.8,1470.4 1238.8,1468.9 1242.1,1456.0 1242.1,1462.3 1242.1,1462.1 1242.1,1457.5 1242.1,1463.5 1245.4,1467.0 1245.4,1472.1 1245.4,1461.0 1245.4,1469.2 1245.4,1461.4 1248.8,1472.4 1248.8,1466.0 1248.8,1464.0 1248.8,1469.2 1248.8,1466.3 1252.1,1467.7 1252.1,1463.8 1252.1,1469.8 1252.1,1465.8 1252.1,1459.1 1255.4,1459.3 1255.4,1457.4 1255.4,1463.9 1255.4,1467.6 1255.4,1464.8 1258.8,1463.5 1258.8,1465.6 1258.8,1461.0 1258.8,1470.1 1258.8,1468.4 1262.1,1474.0 1262.1,1469.4 1262.1,1462.5 1262.1,1467.4 1262.1,1464.4 1265.4,1465.6 1265.4,1463.3 1265.4,1470.7 1265.4,1464.9 1265.4,1464.3 1268.8,1462.3 1268.8,1461.3 1268.8,1469.3 1268.8,1473.2 1268.8,1469.9 1272.1,1461.6 1272.1,1471.1 1272.1,1472.4 1272.1,1471.7 1272.1,1471.1 1275.4,1461.9 1275.4,1467.4 1275.4,1466.0 1275.4,1457.8 1275.4,1457.8 1278.8,1457.4 1278.8,1463.6 1278.8,1467.0 1278.8,1458.0 1278.8,1451.8 1282.1,1460.5 1282.1,1460.1 1282.1,1472.6 1282.1,1451.8 1282.1,1460.1 1285.4,1466.7 1285.4,1459.9 1285.4,1462.5 1285.4,1457.6 1285.4,1451.6 1288.8,1464.4 1288.8,1460.9 1288.8,1463.6 1288.8,1465.3 1288.8,1461.2 1292.1,1457.2 1292.1,1462.4 1292.1,1466.6 1292.1,1463.1 1292.1,1464.7 1295.4,1462.5 1295.4,1468.4 1295.4,1465.6 1295.4,1459.1 1295.4,1465.8 1298.8,1461.5 1298.8,1465.3 1298.8,1464.7 1298.8,1467.7 1298.8,1452.3 1302.1,1458.9 1302.1,1458.7 1302.1,1458.6 1302.1,1467.6 1302.1,1466.4 1305.4,1463.9 1305.4,1470.2 1305.4,1466.9 1305.4,1459.6 1305.4,1472.0 1308.8,1466.7 1308.8,1463.2 1308.8,1463.0 1308.8,1462.6 1308.8,1465.4 1312.1,1458.2 1312.1,1471.7 1312.1,1459.9 1312.1,1467.9 1312.1,1464.5 1315.4,1461.8 1315.4,1454.8 1315.4,1465.6 1315.4,1468.1 1315.4,1458.3 1318.8,1463.1 1318.8,1463.1 1318.8,1461.3 1318.8,1459.9 1318.8,1463.9 1322.1,1473.8 1322.1,1466.2 1322.1,1465.6 1322.1,1470.8 1322.1,1470.5 1325.4,1463.6 1325.4,1465.4 1325.4,1470.3 1325.4,1464.1 1325.4,1465.8 1328.8,1471.7 1328.8,1467.3 1328.8,1471.6 1328.8,1469.5 1328.8,1464.4 1332.1,1470.7 1332.1,1470.6 1332.1,1463.6 1332.1,1469.3 1332.1,1466.1 1335.4,1465.9 1335.4,1465.5 1335.4,1463.1 1335.4,1466.5 1335.4,1467.9 1338.8,1466.5 1338.8,1459.6 1338.8,1460.6 1338.8,1464.7 1338.8,1459.2 1342.1,1461.5 1342.1,1469.0 1342.1,1458.2 1342.1,1453.0 1342.1,1463.4 1345.4,1472.0 1345.4,1459.1 1345.4,1463.1 1345.4,1466.3 1345.4,1474.6 1348.7,1466.6 1348.7,1467.5 1348.7,1467.7 1348.7,1468.1 1348.7,1462.1 1352.1,1467.8 1352.1,1463.9 1352.1,1473.4 1352.1,1469.2 1352.1,1464.7 1355.4,1467.9 1355.4,1463.5 1355.4,1463.3 1355.4,1461.8 1355.4,1463.5 1358.7,1458.9 1358.7,1466.9 1358.7,1462.5 1358.7,1454.0 1358.7,1461.9 1362.1,1453.5 1362.1,1458.3 1362.1,1460.7 1362.1,1459.3 1362.1,1453.0 1365.4,1461.2 1365.4,1464.7 1365.4,1458.0 1365.4,1457.2 1365.4,1456.7 1368.7,1466.7 1368.7,1458.6 1368.7,1459.7 1368.7,1460.7 1368.7,1461.2 1372.1,1456.5 1372.1,1458.0 1372.1,1456.9 1372.1,1447.1 1372.1,1453.9 1375.4,1457.3 1375.4,1454.2 1375.4,1450.8 1375.4,1450.7 1375.4,1434.3 1378.7,1424.1 1378.7,1425.1 1378.7,1406.1 1378.7,1396.8 1378.7,1376.0 1382.1,1355.5 1382.1,1319.1 1382.1,1280.4 1382.1,1244.2 1382.1,1209.9 1385.4,1176.6 1385.4,1137.1 1385.4,1107.4 1385.4,1098.7 1385.4,1084.7 1388.7,1085.6 1388.7,1095.9 1388.7,1112.6 1388.7,1130.9 1388.7,1151.2 1392.1,1178.3 1392.1,1209.0 1392.1,1235.7 1392.1,1275.2 1392.1,1307.5 1395.4,1334.6 1395.4,1352.4 1395.4,1377.5 1395.4,1400.0 1395.4,1403.9 1398.7,1413.8 1398.7,1428.2 1398.7,1433.5 1398.7,1447.7 1398.7,1452.1 1402.1,1448.8 1402.1,1451.3 1402.1,1455.2 1402.1,1457.4 1402.1,1460.4 1405.4,1453.1 1405.4,1463.9 1405.4,1461.9 1405.4,1457.8 1405.4,1467.1 1408.7,1462.7 1408.7,1464.1 1408.7,1461.2 1408.7,1474.1 1408.7,1464.9 1412.1,1466.8 1412.1,1458.6 1412.1,1463.1 1412.1,1464.9 1412.1,1458.5 1415.4,1459.4 1415.4,1457.7 1415.4,1457.4 1415.4,1458.8 1415.4,1464.5 1418.7,1461.0 1418.7,1461.2 1418.7,1461.0 1418.7,1461.2 1418.7,1462.3 1422.1,1464.4 1422.1,1462.8 1422.1,1466.6 1422.1,1466.1 1422.1,1459.2 1425.4,1463.5 1425.4,1461.7 1425.4,1464.3 1425.4,1468.9 1425.4,1463.8 1428.7,1455.4 1428.7,1462.8 1428.7,1465.4 1428.7,1459.7 1428.7,1464.9 1432.1,1465.6 1432.1,1469.8 1432.1,1470.6 1432.1,1461.9 1432.1,1463.3 1435.4,1464.0 1435.4,1461.4 1435.4,1466.5 1435.4,1464.7 1435.4,1468.7 1438.7,1468.9 1438.7,1468.6 1438.7,1461.6 1438.7,1462.9 1438.7,1470.2 1442.1,1467.4 1442.1,1465.6 1442.1,1469.5 1442.1,1463.3 1442.1,1469.3 1445.4,1467.3 1445.4,1467.2 1445.4,1473.4 1445.4,1472.8 1445.4,1469.0 1448.7,1460.2 1448.7,1462.6 1448.7,1463.0 1448.7,1467.3 1448.7,1466.5 1452.1,1464.1 1452.1,1463.0 1452.1,1470.3 1452.1,1466.6 1452.1,1466.5 1455.4,1457.5 1455.4,1464.9 1455.4,1465.7 1455.4,1458.5 1455.4,1463.4 1458.7,1457.3 1458.7,1464.9 1458.7,1452.7 1458.7,1460.6 1458.7,1459.5 1462.1,1460.9 1462.1,1459.9 1462.1,1459.6 1462.1,1461.0 1462.1,1454.5 1465.4,1469.2 1465.4,1465.0 1465.4,1461.8 1465.4,1461.1 1465.4,1454.9 1468.7,1459.1 1468.7,1461.9 1468.7,1465.8 1468.7,1454.7 1468.7,1459.8 1472.1,1453.2 1472.1,1470.5 1472.1,1457.3 1472.1,1465.2 1472.1,1468.5 1475.4,1464.4 1475.4,1464.4 1475.4,1466.2 1475.4,1470.9 1475.4,1466.2 1478.7,1470.0 1478.7,1464.1 1478.7,1470.1 1478.7,1463.3 1478.7,1465.7 1482.0,1459.8 1482.0,1466.9 1482.0,1469.0 1482.0,1469.0 1482.0,1461.8 1485.4,1446.1 1485.4,1468.3 1485.4,1464.9 1485.4,1455.7 1485.4,1459.3 1488.7,1456.6 1488.7,1460.6 1488.7,1459.7 1488.7,1461.5 1488.7,1466.4 1492.0,1460.8 1492.0,1465.8 1492.0,1459.2 1492.0,1473.4 1492.0,1470.9 1495.4,1463.0 1495.4,1462.3 1495.4,1455.3 1495.4,1466.9 1495.4,1461.2 1498.7,1471.8 1498.7,1454.7 1498.7,1476.0 1498.7,1459.0 1498.7,1467.3 1502.0,1473.7 1502.0,1468.8 1502.0,1463.0 1502.0,1467.5 1502.0,1470.7 1505.4,1466.5 1505.4,1467.4 1505.4,1463.6 1505.4,1464.5 1505.4,1469.2 1508.7,1470.3 1508.7,1466.6 1508.7,1467.2 1508.7,1465.1 1508.7,1470.1 1512.0,1464.8 1512.0,1468.4 1512.0,1462.2 1512.0,1463.0 1512.0,1464.8 1515.4,1470.1 1515.4,1458.5 1515.4,1466.7 1515.4,1465.0 1515.4,1463.4 1518.7,1461.3 1518.7,1465.5 1518.7,1465.6 1518.7,1469.7 1518.7,1459.6 1522.0,1466.3 1522.0,1466.5 1522.0,1473.4 1522.0,1467.3 1522.0,1461.2 1525.4,1460.4 1525.4,1469.0 1525.4,1464.2 1525.4,1461.5 1525.4,1469.8 1528.7,1465.1 1528.7,1460.3 1528.7,1458.5 1528.7,1469.1 1528.7,1467.6 1532.0,1458.3 1532.0,1465.1 1532.0,1462.2 1532.0,1468.9 1532.0,1459.5 1535.4,1463.2 1535.4,1459.2 1535.4,1469.4 1535.4,1467.9 1535.4,1470.8 1538.7,1470.8 1538.7,1471.1 1538.7,1464.7 1538.7,1469.1 1538.7,1465.1 1542.0,1467.7 1542.0,1463.0 1542.0,1460.8 1542.0,1460.7 1542.0,1460.4 1545.4,1464.6 1545.4,1461.1 1545.4,1465.3 1545.4,1467.8 1545.4,1469.9 1548.7,1465.2 1548.7,1464.2 1548.7,1458.8 1548.7,1468.0 1548.7,1460.2 1552.0,1473.2 1552.0,1467.2 1552.0,1457.1 1552.0,1468.5 1552.0,1470.9 1555.4,1471.3 1555.4,1457.5 1555.4,1461.4 1555.4,1468.8 1555.4,1468.2 1558.7,1476.5 1558.7,1466.6 1558.7,1459.1 1558.7,1473.6 1558.7,1460.7 1562.0,1462.5 1562.0,1458.4 1562.0,1467.2 1562.0,1463.7 1562.0,1459.1 1565.4,1462.7 1565.4,1461.7 1565.4,1466.1 1565.4,1465.5 1565.4,1467.2 1568.7,1464.3 1568.7,1464.6 1568.7,1465.8 1568.7,1473.7 1568.7,1470.5 1572.0,1464.7 1572.0,1459.3 1572.0,1467.7 1572.0,1465.9 1572.0,1463.6 1575.4,1459.1 1575.4,1455.9 1575.4,1461.5 1575.4,1462.4 1575.4,1465.6 1578.7,1460.5 1578.7,1463.3 1578.7,1461.4 1578.7,1465.8 1578.7,1457.5 1582.0,1463.9 1582.0,1468.8 1582.0,1462.7 1582.0,1467.4 1582.0,1460.6 1585.4,1457.5 1585.4,1461.0 1585.4,1464.2 1585.4,1467.2 1585.4,1465.9 1588.7,1454.9 1588.7,1459.5 1588.7,1468.3 1588.7,1468.0 1588.7,1462.4 1592.0,1463.6 1592.0,1463.5 1592.0,1461.4 1592.0,1468.5 1592.0,1467.4 1595.4,1459.8 1595.4,1462.8 1595.4,1465.2 1595.4,1464.7 1595.4,1461.7 1598.7,1463.2 1598.7,1467.4 1598.7,1469.5 1598.7,1461.4 1598.7,1469.9 1602.0,1456.2 1602.0,1469.7 1602.0,1467.5 1602.0,1460.3 1602.0,1458.8 1605.4,1464.6 1605.4,1476.1 1605.4,1465.5 1605.4,1473.8 1605.4,1467.2 1608.7,1461.5 1608.7,1461.8 1608.7,1464.6 1608.7,1464.1 1608.7,1462.6 1612.0,1466.9 1612.0,1466.8 1612.0,1460.2 1612.0,1463.1 1612.0,1459.9 1615.3,1463.1 1615.3,1462.9 1615.3,1460.6 1615.3,1460.7 1615.3,1456.1 1618.7,1460.3 1618.7,1464.3 1618.7,1463.6 1618.7,1465.5 1618.7,1460.4 1622.0,1464.1 1622.0,1466.6 1622.0,1458.5 1622.0,1455.1 1622.0,1468.2 1625.3,1457.7 1625.3,1461.1 1625.3,1466.5 1625.3,1465.3 1625.3,1463.4 1628.7,1453.2 1628.7,1462.0 1628.7,1456.5 1628.7,1465.8 1628.7,1459.1 1632.0,1460.3 1632.0,1466.8 1632.0,1466.7 1632.0,1462.5 1632.0,1471.5 1635.3,1465.2 1635.3,1470.8 1635.3,1465.5 1635.3,1463.8 1635.3,1462.6 1638.7,1463.8 1638.7,1466.0 1638.7,1467.2 1638.7,1468.2 1638.7,1466.8 1642.0,1465.7 1642.0,1465.7 1642.0,1462.5 1642.0,1465.9 1642.0,1469.6 1645.3,1460.1 1645.3,1466.2 1645.3,1470.2 1645.3,1467.3 1645.3,1465.1 1648.7,1464.9 1648.7,1463.4 1648.7,1456.6 1648.7,1470.4 1648.7,1458.5 1652.0,1464.8 1652.0,1467.2 1652.0,1475.5 1652.0,1467.6 1652.0,1463.9 1655.3,1471.3 1655.3,1473.5 1655.3,1472.7 1655.3,1466.6 1655.3,1467.1 1658.7,1460.5 1658.7,1469.1 1658.7,1463.5 1658.7,1471.8 1658.7,1467.3 1662.0,1461.5 1662.0,1467.1 1662.0,1463.5 1662.0,1470.8 1662.0,1469.3 1665.3,1467.5 1665.3,1469.8 1665.3,1466.9 1665.3,1458.7 1665.3,1465.7 1668.7,1463.6 1668.7,1457.9 1668.7,1464.2 1668.7,1464.7 1668.7,1465.9 1672.0,1458.9 1672.0,1459.6 1672.0,1454.5 1672.0,1454.3 1672.0,1469.0 1675.3,1459.4 1675.3,1453.6 1675.3,1461.1 1675.3,1461.8 1675.3,1467.4 1678.7,1457.8 1678.7,1467.0 1678.7,1462.1 1678.7,1464.4 1678.7,1461.1 1682.0,1465.0 1682.0,1465.1 1682.0,1459.1 1682.0,1463.7 1682.0,1459.8 1685.3,1466.5 1685.3,1457.6 1685.3,1461.7 1685.3,1458.8 1685.3,1460.8 1688.7,1470.8 1688.7,1475.1 1688.7,1460.0 1688.7,1466.7 1688.7,1466.6 1692.0,1468.8 1692.0,1468.0 1692.0,1464.8 1692.0,1462.8 1692.0,1468.3 1695.3,1476.7 1695.3,1465.5 1695.3,1467.1 1695.3,1471.3 1695.3,1474.4 1698.7,1474.8 1698.7,1464.1 1698.7,1472.0 1698.7,1464.3 1698.7,1470.3 1702.0,1465.4 1702.0,1472.8 1702.0,1474.0 1702.0,1469.2 1702.0,1475.3 1705.3,1473.2 1705.3,1465.2 1705.3,1460.2 1705.3,1465.6 1705.3,1472.9 1708.7,1469.9 1708.7,1464.5 1708.7,1465.5 1708.7,1454.5 1708.7,1456.3 1712.0,1465.3 1712.0,1455.0 1712.0,1467.6 1712.0,1467.5 1712.0,1457.5 1715.3,1467.9 1715.3,1466.0 1715.3,1457.0 1715.3,1465.7 1715.3,1458.5 1718.7,1461.6 1718.7,1466.7 1718.7,1462.5 1718.7,1460.8 1718.7,1462.3 1722.0,1469.6 1722.0,1462.2 1722.0,1476.2 1722.0,1467.7 1722.0,1466.2 1725.3,1462.3 1725.3,1460.4 1725.3,1471.8 1725.3,1468.3 1725.3,1466.3 1728.7,1467.7 1728.7,1464.0 1728.7,1462.7 1728.7,1462.5 1728.7,1466.8 1732.0,1451.9 1732.0,1470.3 1732.0,1466.3 1732.0,1458.9 1732.0,1462.1 1735.3,1462.3 1735.3,1460.3 1735.3,1466.5 1735.3,1465.2 1735.3,1460.8 1738.7,1458.6 1738.7,1470.8 1738.7,1467.4 1738.7,1465.0 1738.7,1461.1 1742.0,1470.1 1742.0,1460.9 1742.0,1467.8 1742.0,1461.9 1742.0,1464.2 1745.3,1459.4 1745.3,1470.4 1745.3,1464.1 1745.3,1468.2 1745.3,1470.4 1748.6,1463.9 1748.6,1472.3 1748.6,1465.3 1748.6,1472.9 1748.6,1473.4 1752.0,1465.3 1752.0,1458.8 1752.0,1465.4 1752.0,1470.9 1752.0,1464.8 1755.3,1466.9 1755.3,1467.8 1755.3,1463.5 1755.3,1461.6 1755.3,1460.1 1758.6,1467.6 1758.6,1456.3 1758.6,1464.4 1758.6,1470.0 1758.6,1467.1 1762.0,1463.3 1762.0,1467.7 1762.0,1463.6 1762.0,1468.7 1762.0,1460.8 1765.3,1464.7 1765.3,1466.7 1765.3,1461.7 1765.3,1469.9 1765.3,1466.6 1768.6,1463.5 1768.6,1464.4 1768.6,1465.7 1768.6,1462.2 1768.6,1468.1 1772.0,1466.0 1772.0,1469.5 1772.0,1466.1 1772.0,1470.7 1772.0,1470.7 1775.3,1465.8 1775.3,1470.1 1775.3,1462.6 1775.3,1461.7 1775.3,1463.4 1778.6,1462.7 1778.6,1463.8 1778.6,1472.4 1778.6,1470.7 1778.6,1464.6 1782.0,1470.5 1782.0,1468.7 1782.0,1465.9 1782.0,1464.2 1782.0,1471.9 1785.3,1465.0 1785.3,1461.2 1785.3,1463.0 1785.3,1458.1 1785.3,1466.2 1788.6,1458.8 1788.6,1455.1 1788.6,1461.3 1788.6,1460.3 1788.6,1460.4 1792.0,1474.1 1792.0,1468.1 1792.0,1460.8 1792.0,1470.9 1792.0,1464.3 1795.3,1463.2 1795.3,1459.9 1795.3,1465.5 1795.3,1460.8 1795.3,1464.0 1798.6,1456.7 1798.6,1465.5 1798.6,1464.4 1798.6,1459.9 1798.6,1454.1 1802.0,1459.6 1802.0,1460.4 1802.0,1462.7 1802.0,1455.5 1802.0,1462.8 1805.3,1461.1 1805.3,1461.4 1805.3,1455.9 1805.3,1464.5 1805.3,1465.0 1808.6,1461.1 1808.6,1462.4 1808.6,1469.4 1808.6,1467.6 1808.6,1467.1 1812.0,1464.8 1812.0,1469.0 1812.0,1457.6 1812.0,1465.0 1812.0,1461.3 1815.3,1465.2 1815.3,1465.6 1815.3,1463.5 1815.3,1468.0 1815.3,1474.1 1818.6,1464.5 1818.6,1469.4 1818.6,1460.5 1818.6,1469.6 1818.6,1465.0 1822.0,1465.3 1822.0,1467.5 1822.0,1466.5 1822.0,1465.4 1822.0,1463.7 1825.3,1463.1 1825.3,1463.8 1825.3,1463.9 1825.3,1473.1 1825.3,1457.8 1828.6,1460.7 1828.6,1468.9 1828.6,1467.2 1828.6,1472.8 1828.6,1476.4 1832.0,1466.2 1832.0,1457.5 1832.0,1464.2 1832.0,1464.3 1832.0,1465.3 1835.3,1463.6 1835.3,1466.6 1835.3,1470.3 1835.3,1469.6 1835.3,1464.5 1838.6,1469.2 1838.6,1475.7 1838.6,1465.5 1838.6,1466.8 1838.6,1462.0 1842.0,1467.1 1842.0,1467.3 1842.0,1467.6 1842.0,1470.3 1842.0,1465.6 1845.3,1468.8 1845.3,1470.9 1845.3,1466.9 1845.3,1466.0 1845.3,1464.9 1848.6,1463.6 1848.6,1457.3 1848.6,1467.6 1848.6,1460.8 1848.6,1466.4 1852.0,1465.9 1852.0,1462.9 1852.0,1469.7 1852.0,1466.3 1852.0,1463.0 1855.3,1471.8 1855.3,1469.6 1855.3,1467.5 1855.3,1465.7 1855.3,1462.3 1858.6,1471.0 1858.6,1459.9 1858.6,1462.9 1858.6,1463.4 1858.6,1474.3 1862.0,1464.8 1862.0,1469.5 1862.0,1463.2 1862.0,1466.6 1862.0,1468.0 1865.3,1469.9 1865.3,1466.9 1865.3,1462.9 1865.3,1472.4 1865.3,1468.5 1868.6,1466.3 1868.6,1465.9 1868.6,1467.0 1868.6,1464.2 1868.6,1464.8 1872.0,1474.1 1872.0,1461.2 1872.0,1471.8 1872.0,1461.2 1872.0,1463.2 1875.3,1474.1 1875.3,1466.6 1875.3,1461.6 1875.3,1461.7 1875.3,1466.9 1878.6,1471.1 1878.6,1462.8 1878.6,1474.2 1878.6,1474.2 1878.6,1464.7 1881.9,1473.0 1881.9,1465.5 1881.9,1472.2 1881.9,1470.3 1881.9,1462.6 1885.3,1467.7 1885.3,1464.6 1885.3,1467.9 1885.3,1468.9 1885.3,1469.8 1888.6,1470.7 1888.6,1465.0 1888.6,1464.8 1888.6,1459.6 1888.6,1465.4 1891.9,1467.6 1891.9,1464.3 1891.9,1460.3 1891.9,1472.2 1891.9,1459.0 1895.3,1469.1 1895.3,1468.8 1895.3,1454.3 1895.3,1460.1 1895.3,1466.7 1898.6,1460.5 1898.6,1458.1 1898.6,1460.8 1898.6,1459.0 1898.6,1462.1 1901.9,1461.6 1901.9,1468.7 1901.9,1468.5 1901.9,1463.7 1901.9,1470.5 1905.3,1462.4 1905.3,1466.0 1905.3,1461.0 1905.3,1462.5 1905.3,1468.3 1908.6,1478.1 1908.6,1473.1 1908.6,1467.3 1908.6,1458.9 1908.6,1467.5 1911.9,1465.3 1911.9,1468.0 1911.9,1479.2 1911.9,1465.6 1911.9,1469.2 1915.3,1474.4 1915.3,1465.1 1915.3,1468.1 1915.3,1455.3 1915.3,1476.7 1918.6,1470.3 1918.6,1466.4 1918.6,1467.8 1918.6,1463.0 1918.6,1461.6 1921.9,1462.9 1921.9,1464.3 1921.9,1467.2 1921.9,1463.3 1921.9,1460.1 1925.3,1463.2 1925.3,1472.4 1925.3,1456.5 1925.3,1465.7 1925.3,1460.0 1928.6,1465.9 1928.6,1459.4 1928.6,1465.5 1928.6,1458.1 1928.6,1459.1 1931.9,1467.5 1931.9,1477.3 1931.9,1463.7 1931.9,1469.5 1931.9,1461.3 1935.3,1463.8 1935.3,1466.9 1935.3,1469.2 1935.3,1468.6 1935.3,1458.6 1938.6,1460.5 1938.6,1465.2 1938.6,1462.6 1938.6,1459.8 1938.6,1464.1 1941.9,1470.6 1941.9,1455.8 1941.9,1464.0 1941.9,1465.1 1941.9,1462.3 1945.3,1466.4 1945.3,1467.0 1945.3,1461.6 1945.3,1465.6 1945.3,1460.9 1948.6,1461.0 1948.6,1454.4 1948.6,1463.7 1948.6,1462.1 1948.6,1464.5 1951.9,1457.0 1951.9,1459.6 1951.9,1459.8 1951.9,1453.1 1951.9,1459.6 1955.3,1459.4 1955.3,1465.9 1955.3,1467.6 1955.3,1462.4 1955.3,1459.9 1958.6,1465.0 1958.6,1464.5 1958.6,1457.4 1958.6,1463.2 1958.6,1463.4 1961.9,1462.5 1961.9,1465.8 1961.9,1457.7 1961.9,1455.5 1961.9,1457.2 1965.3,1455.1 1965.3,1469.9 1965.3,1457.9 1965.3,1462.3 1965.3,1455.9 1968.6,1464.5 1968.6,1458.4 1968.6,1454.4 1968.6,1459.4 1968.6,1461.5 1971.9,1462.8 1971.9,1460.0 1971.9,1463.1 1971.9,1467.2 1971.9,1459.8 1975.3,1455.5 1975.3,1460.8 1975.3,1458.0 1975.3,1457.4 1975.3,1462.4 1978.6,1462.8 1978.6,1465.8 1978.6,1461.4 1978.6,1460.1 1978.6,1466.0 1981.9,1463.1 1981.9,1457.3 1981.9,1464.3 1981.9,1458.2 1981.9,1459.6 1985.3,1462.3 1985.3,1457.2 1985.3,1458.3 1985.3,1461.2 1985.3,1460.7 1988.6,1459.6 1988.6,1459.4 1988.6,1459.9 1988.6,1459.0 1988.6,1464.4 1991.9,1456.4 1991.9,1463.3 1991.9,1463.9 1991.9,1458.0 1991.9,1459.6 1995.3,1471.9 1995.3,1464.4 1995.3,1461.5 1995.3,1462.7 1995.3,1472.3 1998.6,1468.5 1998.6,1469.0 1998.6,1463.3 1998.6,1462.5 1998.6,1464.8 2001.9,1466.6 2001.9,1469.9 2001.9,1462.1 2001.9,1475.8 2001.9,1464.3 2005.3,1464.0 2005.3,1465.2 2005.3,1466.4 2005.3,1465.7 2005.3,1463.3 2008.6,1468.7 2008.6,1462.6 2008.6,1465.4 2008.6,1464.9 2008.6,1476.3 2011.9,1470.6 2011.9,1465.9 2011.9,1467.7 2011.9,1461.1 2011.9,1471.2 2015.2,1460.0 2015.2,1461.7 2015.2,1464.2 2015.2,1467.1 2015.2,1469.9 2018.6,1470.0 2018.6,1467.8 2018.6,1464.7 2018.6,1461.6 2018.6,1461.2 2021.9,1459.3 2021.9,1459.3 2021.9,1466.2 2021.9,1465.2 2021.9,1458.3 2025.2,1465.9 2025.2,1458.1 2025.2,1462.0 2025.2,1468.0 2025.2,1460.4 2028.6,1461.4 2028.6,1465.8 2028.6,1472.7 2028.6,1461.8 2028.6,1461.5 2031.9,1460.3 2031.9,1462.4 2031.9,1467.6 2031.9,1472.0 2031.9,1465.9 2035.2,1461.6 2035.2,1466.2 2035.2,1471.1 2035.2,1473.1 2035.2,1477.2 2038.6,1465.3 2038.6,1464.2 2038.6,1475.1 2038.6,1468.5 2038.6,1460.0 2041.9,1474.9 2041.9,1459.7 2041.9,1461.1 2041.9,1462.4 2041.9,1463.9 2045.2,1463.8 2045.2,1463.2 2045.2,1458.8 2045.2,1470.2 2045.2,1472.7 2048.6,1473.3 2048.6,1463.8 2048.6,1460.1 2048.6,1467.1 2048.6,1462.0 2051.9,1462.7 2051.9,1458.6 2051.9,1460.3 2051.9,1461.6 2051.9,1466.2 2055.2,1465.1 2055.2,1460.0 2055.2,1463.3 2055.2,1458.7 2055.2,1467.1 2058.6,1460.8 2058.6,1465.8 2058.6,1463.6 2058.6,1472.7 2058.6,1462.8 2061.9,1469.6 2061.9,1460.9 2061.9,1462.3 2061.9,1468.5 2061.9,1459.6 2065.2,1459.3 2065.2,1458.2 2065.2,1460.2 2065.2,1466.8 2065.2,1459.1 2068.6,1470.3 2068.6,1466.4 2068.6,1463.6 2068.6,1471.8 2068.6,1460.1 2071.9,1462.5 2071.9,1465.7 2071.9,1474.1 2071.9,1468.0 2071.9,1461.8 2075.2,1462.4 2075.2,1468.8 2075.2,1470.3 2075.2,1464.6 2075.2,1469.4 2078.6,1471.2 2078.6,1458.2 2078.6,1464.1 2078.6,1462.5 2078.6,1465.1 2081.9,1460.1 2081.9,1460.1 2081.9,1465.0 2081.9,1466.3 2081.9,1466.3 2085.2,1461.1 2085.2,1464.5 2085.2,1470.2 2085.2,1459.8 2085.2,1465.4 2088.6,1463.6 2088.6,1459.8 2088.6,1463.6 2088.6,1462.4 2088.6,1466.1 2091.9,1463.3 2091.9,1462.0 2091.9,1464.1 2091.9,1466.0 2091.9,1466.3 2095.2,1466.7 2095.2,1464.5 2095.2,1467.4 2095.2,1463.0 2095.2,1467.0 2098.6,1460.8 2098.6,1464.3 2098.6,1467.4 2098.6,1462.8 2098.6,1469.0 2101.9,1451.9 2101.9,1467.3 2101.9,1465.0 2101.9,1458.6 2101.9,1466.9 2105.2,1468.5 2105.2,1468.9 2105.2,1460.2 2105.2,1469.7 2105.2,1458.0 2108.6,1462.5 2108.6,1465.5 2108.6,1460.3 2108.6,1464.9 2108.6,1466.0 2111.9,1470.0 2111.9,1470.7 2111.9,1463.8 2111.9,1473.2 2111.9,1471.4 2115.2,1471.5 2115.2,1465.5 2115.2,1471.1 2115.2,1466.3 2115.2,1455.2 2118.6,1465.7 2118.6,1458.6 2118.6,1465.3 2118.6,1470.5 2118.6,1468.3 2121.9,1468.7 2121.9,1464.1 2121.9,1463.1 2121.9,1465.2 2121.9,1467.5 2125.2,1469.1 2125.2,1467.5 2125.2,1469.5 2125.2,1469.1 2125.2,1455.5 2128.6,1462.1 2128.6,1470.1 2128.6,1465.7 2128.6,1464.4 2128.6,1466.0 2131.9,1468.8 2131.9,1464.6 2131.9,1465.6 2131.9,1464.3 2131.9,1461.8 2135.2,1468.9 2135.2,1466.0 2135.2,1468.9 2135.2,1470.7 2135.2,1469.4 2138.6,1466.4 2138.6,1469.6 2138.6,1471.1 2138.6,1470.0 2138.6,1466.2 2141.9,1460.6 2141.9,1460.9 2141.9,1472.4 2141.9,1466.8 2141.9,1462.8 2145.2,1466.7 2145.2,1465.4 2145.2,1468.5 2145.2,1463.8 2145.2,1465.0 2148.5,1468.0 2148.5,1462.3 2148.5,1460.3 2148.5,1462.7 2148.5,1469.5 2151.9,1463.8 2151.9,1461.8 2151.9,1460.5 2151.9,1460.1 2151.9,1461.2 2155.2,1465.7 2155.2,1462.7 2155.2,1461.8 2155.2,1463.9 2155.2,1462.8 2158.5,1468.1 2158.5,1462.2 2158.5,1465.0 2158.5,1463.4 2158.5,1455.3 2161.9,1461.1 2161.9,1460.4 2161.9,1463.9 2161.9,1467.2 2161.9,1465.7 2165.2,1461.9 2165.2,1461.3 2165.2,1467.6 2165.2,1462.9 2165.2,1460.0 2168.5,1463.4 2168.5,1461.6 2168.5,1459.5 2168.5,1454.9 2168.5,1458.5 2171.9,1453.4 2171.9,1465.1 2171.9,1453.7 2171.9,1459.3 2171.9,1453.7 2175.2,1448.6 2175.2,1451.4 2175.2,1451.7 2175.2,1444.1 2175.2,1449.1 2178.5,1437.9 2178.5,1434.2 2178.5,1425.9 2178.5,1419.5 2178.5,1402.9 2181.9,1387.6 2181.9,1371.9 2181.9,1351.2 2181.9,1337.9 2181.9,1307.4 2185.2,1292.1 2185.2,1271.9 2185.2,1260.5 2185.2,1248.9 2185.2,1244.6 2188.5,1236.4 2188.5,1248.8 2188.5,1255.4 2188.5,1261.7 2188.5,1275.5 2191.9,1284.2 2191.9,1288.4 2191.9,1297.0 2191.9,1304.2 2191.9,1315.1 2195.2,1331.0 2195.2,1343.2 2195.2,1347.0 2195.2,1373.2 2195.2,1376.5 2198.5,1386.8 2198.5,1396.6 2198.5,1406.5 2198.5,1417.2 2198.5,1421.9 2201.9,1444.1 2201.9,1443.4 2201.9,1445.2 2201.9,1459.4 2201.9,1455.8 2205.2,1449.8 2205.2,1458.9 2205.2,1453.1 2205.2,1455.4 2205.2,1453.8 2208.5,1455.8 2208.5,1457.4 2208.5,1457.1 2208.5,1463.7 2208.5,1453.2 2211.9,1461.1 2211.9,1463.4 2211.9,1458.0 2211.9,1465.5 2211.9,1450.9 2215.2,1449.4 2215.2,1454.1 2215.2,1462.7 2215.2,1456.7 2215.2,1457.3 2218.5,1460.5 2218.5,1459.5 2218.5,1456.4 2218.5,1460.3 2218.5,1458.4 2221.9,1458.2 2221.9,1463.8 2221.9,1460.1 2221.9,1460.7 2221.9,1452.6 2225.2,1459.1 2225.2,1458.4 2225.2,1459.6 2225.2,1461.1 2225.2,1461.3 2228.5,1462.6 2228.5,1471.4 2228.5,1463.0 2228.5,1466.2 2228.5,1465.3 2231.9,1468.3 2231.9,1468.4 2231.9,1464.7 2231.9,1466.7 2231.9,1464.5 2235.2,1463.7 2235.2,1464.6 2235.2,1464.0 2235.2,1466.7 2235.2,1465.0 2238.5,1461.3 2238.5,1464.5 2238.5,1461.3 2238.5,1463.3 2238.5,1459.3 2241.9,1467.5 2241.9,1462.3 2241.9,1460.0 2241.9,1466.7 2241.9,1463.0 2245.2,1462.3 2245.2,1464.4 2245.2,1460.3 2245.2,1462.9 2245.2,1465.6 2248.5,1461.4 2248.5,1463.6 2248.5,1453.7 2248.5,1472.1 2248.5,1465.1 2251.9,1466.1 2251.9,1465.9 2251.9,1474.1 2251.9,1465.3 2251.9,1467.8 2255.2,1462.1 2255.2,1469.2 2255.2,1457.2 2255.2,1463.9 2255.2,1465.3 2258.5,1461.4 2258.5,1468.3 2258.5,1466.2 2258.5,1459.1 2258.5,1462.5 2261.9,1460.6 2261.9,1470.1 2261.9,1466.4 2261.9,1467.8 2261.9,1454.0 2265.2,1461.6 2265.2,1455.7 2265.2,1462.3 2265.2,1457.1 2265.2,1463.8 2268.5,1463.7 2268.5,1462.5 2268.5,1461.8 2268.5,1470.7 2268.5,1462.6 2271.9,1466.6 2271.9,1465.6 2271.9,1464.0 2271.9,1464.6 2271.9,1463.3 2275.2,1458.6 2275.2,1458.5 2275.2,1455.9 2275.2,1466.0 2275.2,1463.9 2278.5,1464.8 2278.5,1465.6 2278.5,1461.5 2278.5,1461.1 2278.5,1464.9 2281.8,1464.1 2281.8,1459.8 2281.8,1465.7 2281.8,1460.8 2281.8,1465.5 2285.2,1463.8 2285.2,1458.3 2285.2,1468.4 2285.2,1464.9 2285.2,1461.4 2288.5,1466.2 2288.5,1461.4 2288.5,1456.5 2288.5,1461.3 2288.5,1467.5 2291.8,1470.6 2291.8,1466.4 2291.8,1469.4 2291.8,1470.1 2291.8,1463.7 2295.2,1463.7 2295.2,1472.9 2295.2,1467.8 2295.2,1469.5 2295.2,1462.1 2298.5,1462.9 2298.5,1460.2 2298.5,1463.9 2298.5,1461.4 2298.5,1460.5 2301.8,1463.6 2301.8,1459.8 2301.8,1471.0 2301.8,1459.6 2301.8,1469.7 2305.2,1466.0 2305.2,1463.8 2305.2,1464.6 2305.2,1471.2 2305.2,1465.7 2308.5,1475.2 2308.5,1467.3 2308.5,1468.4 2308.5,1460.3 2308.5,1467.7 2311.8,1469.5 2311.8,1469.3 2311.8,1469.7 2311.8,1466.1 2311.8,1465.1 2315.2,1459.1 2315.2,1471.0 2315.2,1463.2 2315.2,1471.3 2315.2,1466.6 2318.5,1460.7 2318.5,1460.3 2318.5,1461.8 2318.5,1467.6 2318.5,1461.3 2321.8,1458.9 2321.8,1470.8 2321.8,1467.2 2321.8,1464.4 2321.8,1463.5 2325.2,1463.0 2325.2,1464.8 2325.2,1466.4 2325.2,1461.3 2325.2,1466.3 2328.5,1463.9 2328.5,1461.2 2328.5,1461.3 2328.5,1459.7 2328.5,1459.8 2331.8,1461.0 2331.8,1457.9 2331.8,1470.1 2331.8,1464.0 2331.8,1464.3 2335.2,1466.4 2335.2,1465.7 2335.2,1464.2 2335.2,1467.2 2335.2,1457.4 2338.5,1457.5 2338.5,1467.7 2338.5,1461.4 2338.5,1462.1 2338.5,1464.6 2341.8,1466.4 2341.8,1463.5 2341.8,1465.1 2341.8,1468.0 2341.8,1462.3" fill="none" stroke="#000000" stroke-width="4.0" stroke-linejoin="round" stroke-linecap="round"/>
<text x="596.0" y="1022.9" font-family="'Liberation Serif', 'Times New Roman', serif" font-size="78.0" text-anchor="start" font-weight="normal" fill="#ff0000">LSP sample</text>
<text x="494.0" y="1410.5" font-family="'Liberation Serif', 'Times New Roman', serif" font-size="77.0" text-anchor="start" font-weight="normal" fill="#000" stroke="#000" stroke-width="0.90" stroke-linejoin="round">Original sample</text>
<path d="M 1142.6 204.7 L 1128.5 188.4 C 1125.7 185.0 1125.4 182.1 1125.4 179.1 C 1125.4 171.7 1129.9 167.6 1134.7 167.6 C 1138.5 167.6 1141.6 170.6 1142.6 177.2 C 1143.6 170.6 1146.7 167.6 1150.5 167.6 C 1155.3 167.6 1159.8 171.7 1159.8 179.1 C 1159.8 182.1 1159.5 185.0 1156.7 188.4 L 1142.6 204.7 Z" fill="#000"/>
<text x="1189.5" y="213.9" font-family="'Liberation Serif', 'Times New Roman', serif" font-size="77.0" text-anchor="start" font-weight="normal" fill="#000" stroke="#000" stroke-width="0.90" stroke-linejoin="round">(111)</text>
<circle cx="1142.6" cy="284.7" r="16.0" fill="#000"/>
<text x="1189.5" y="314.4" font-family="'Liberation Serif', 'Times New Roman', serif" font-size="77.0" text-anchor="start" font-weight="normal" fill="#000" stroke="#000" stroke-width="0.90" stroke-linejoin="round">(311)</text>
<path d="M 1385.4 617.8 L 1371.0 602.3 C 1368.2 599.1 1367.8 596.3 1367.8 593.5 C 1367.8 586.5 1372.4 582.6 1377.3 582.6 C 1381.2 582.6 1384.3 585.4 1385.4 591.8 C 1386.5 585.4 1389.6 582.6 1393.5 582.6 C 1398.4 582.6 1403.0 586.5 1403.0 593.5 C 1403.0 596.3 1402.6 599.1 1399.8 602.3 L 1385.4 617.8 Z" fill="#000"/>
<text x="1423.6" y="615.9" font-family="'Liberation Serif', 'Times New Roman', serif" font-size="77.0" text-anchor="start" font-weight="normal" fill="#000" stroke="#000" stroke-width="0.90" stroke-linejoin="round">(200)</text>
<circle cx="1385.8" cy="697.9" r="15.5" fill="#000"/>
<text x="1423.6" y="714.1" font-family="'Liberation Serif', 'Times New Roman', serif" font-size="77.0" text-anchor="start" font-weight="normal" fill="#000" stroke="#000" stroke-width="0.90" stroke-linejoin="round">(331)</text>
<text x="1980.7" y="794.1" font-family="'Liberation Serif', 'Times New Roman', serif" font-size="77.0" text-anchor="start" font-weight="normal" fill="#000" stroke="#000" stroke-width="0.90" stroke-linejoin="round">(220)</text>
<path d="M 2185.0 795.0 L 2170.6 779.5 C 2167.8 776.3 2167.4 773.5 2167.4 770.7 C 2167.4 763.7 2172.0 759.8 2176.9 759.8 C 2180.8 759.8 2183.9 762.6 2185.0 769.0 C 2186.1 762.6 2189.2 759.8 2193.1 759.8 C 2198.0 759.8 2202.6 763.7 2202.6 770.7 C 2202.6 773.5 2202.2 776.3 2199.4 779.5 L 2185.0 795.0 Z" fill="#000"/>
<text x="1991.8" y="902.4" font-family="'Liberation Serif', 'Times New Roman', serif" font-size="77.0" text-anchor="start" font-weight="normal" fill="#000" stroke="#000" stroke-width="0.90" stroke-linejoin="round">(422)</text>
<circle cx="2192.4" cy="880.2" r="15.5" fill="#000"/>
<path d="M 1830.6 248.5 L 1813.5 230.6 C 1810.2 226.9 1809.8 223.7 1809.8 220.4 C 1809.8 212.3 1815.2 207.8 1821.0 207.8 C 1825.6 207.8 1829.4 211.1 1830.6 218.4 C 1831.8 211.1 1835.6 207.8 1840.2 207.8 C 1846.0 207.8 1851.4 212.3 1851.4 220.4 C 1851.4 223.7 1851.0 226.9 1847.7 230.6 L 1830.6 248.5 Z" fill="#000"/>
<text x="1872.4" y="250.4" font-family="'Liberation Serif', 'Times New Roman', serif" font-size="78" fill="#000" stroke="#000" stroke-width="0.90" stroke-linejoin="round"><tspan font-style="italic">γ</tspan>-Ni</text>
<circle cx="1833.5" cy="346.7" r="16.0" fill="#000"/>
<text x="1864.0" y="369.5" font-family="'Liberation Serif', 'Times New Roman', serif" font-size="78" fill="#000" stroke="#000" stroke-width="0.90" stroke-linejoin="round">Ni<tspan font-size="43" dy="24" dx="-1">3</tspan><tspan dy="-24" dx="1">Fe</tspan></text>
<text x="0.0" y="0.0" font-family="'Liberation Serif', 'Times New Roman', serif" font-size="77.7" text-anchor="middle" font-weight="bold" fill="#000" transform="translate(110.5 788.5) rotate(-90)">intensity (a.u.)</text>
<text x="1254" y="1730.5" font-family="'Liberation Serif', 'Times New Roman', serif" font-size="77" fill="#000"><tspan font-weight="bold">2θ</tspan><tspan stroke="#000" stroke-width="0.90" stroke-linejoin="round">/ (°)</tspan></text>
<rect x="325.5" y="2009.6" width="2012.1" height="1485.7" fill="none" stroke="#000" stroke-width="6.0"/>
<line x1="312.5" y1="3495.3" x2="325.5" y2="3495.3" stroke="#000" stroke-width="6.0"/>
<line x1="297.6" y1="3430.7" x2="325.5" y2="3430.7" stroke="#000" stroke-width="6.0"/>
<text x="275.5" y="3451.7" font-family="'Liberation Sans', Arial, sans-serif" font-size="82.0" text-anchor="end" font-weight="normal" fill="#000" stroke="#000" stroke-width="0.50" stroke-linejoin="round" textLength="43.9" lengthAdjust="spacingAndGlyphs">0</text>
<line x1="312.5" y1="3366.1" x2="325.5" y2="3366.1" stroke="#000" stroke-width="6.0"/>
<line x1="297.6" y1="3301.5" x2="325.5" y2="3301.5" stroke="#000" stroke-width="6.0"/>
<text x="275.5" y="3322.5" font-family="'Liberation Sans', Arial, sans-serif" font-size="82.0" text-anchor="end" font-weight="normal" fill="#000" stroke="#000" stroke-width="0.50" stroke-linejoin="round" textLength="131.8" lengthAdjust="spacingAndGlyphs">200</text>
<line x1="312.5" y1="3236.9" x2="325.5" y2="3236.9" stroke="#000" stroke-width="6.0"/>
<line x1="297.6" y1="3172.3" x2="325.5" y2="3172.3" stroke="#000" stroke-width="6.0"/>
<text x="275.5" y="3193.3" font-family="'Liberation Sans', Arial, sans-serif" font-size="82.0" text-anchor="end" font-weight="normal" fill="#000" stroke="#000" stroke-width="0.50" stroke-linejoin="round" textLength="131.8" lengthAdjust="spacingAndGlyphs">400</text>
<line x1="312.5" y1="3107.7" x2="325.5" y2="3107.7" stroke="#000" stroke-width="6.0"/>
<line x1="297.6" y1="3043.1" x2="325.5" y2="3043.1" stroke="#000" stroke-width="6.0"/>
<text x="275.5" y="3064.1" font-family="'Liberation Sans', Arial, sans-serif" font-size="82.0" text-anchor="end" font-weight="normal" fill="#000" stroke="#000" stroke-width="0.50" stroke-linejoin="round" textLength="131.8" lengthAdjust="spacingAndGlyphs">600</text>
<line x1="312.5" y1="2978.5" x2="325.5" y2="2978.5" stroke="#000" stroke-width="6.0"/>
<line x1="297.6" y1="2913.9" x2="325.5" y2="2913.9" stroke="#000" stroke-width="6.0"/>
<text x="275.5" y="2934.9" font-family="'Liberation Sans', Arial, sans-serif" font-size="82.0" text-anchor="end" font-weight="normal" fill="#000" stroke="#000" stroke-width="0.50" stroke-linejoin="round" textLength="131.8" lengthAdjust="spacingAndGlyphs">800</text>
<line x1="312.5" y1="2849.3" x2="325.5" y2="2849.3" stroke="#000" stroke-width="6.0"/>
<line x1="297.6" y1="2784.7" x2="325.5" y2="2784.7" stroke="#000" stroke-width="6.0"/>
<text x="275.5" y="2805.7" font-family="'Liberation Sans', Arial, sans-serif" font-size="82.0" text-anchor="end" font-weight="normal" fill="#000" stroke="#000" stroke-width="0.50" stroke-linejoin="round" textLength="175.7" lengthAdjust="spacingAndGlyphs">1000</text>
<line x1="312.5" y1="2720.2" x2="325.5" y2="2720.2" stroke="#000" stroke-width="6.0"/>
<line x1="297.6" y1="2655.6" x2="325.5" y2="2655.6" stroke="#000" stroke-width="6.0"/>
<text x="275.5" y="2676.6" font-family="'Liberation Sans', Arial, sans-serif" font-size="82.0" text-anchor="end" font-weight="normal" fill="#000" stroke="#000" stroke-width="0.50" stroke-linejoin="round" textLength="175.7" lengthAdjust="spacingAndGlyphs">1200</text>
<line x1="312.5" y1="2591.0" x2="325.5" y2="2591.0" stroke="#000" stroke-width="6.0"/>
<line x1="297.6" y1="2526.4" x2="325.5" y2="2526.4" stroke="#000" stroke-width="6.0"/>
<text x="275.5" y="2547.4" font-family="'Liberation Sans', Arial, sans-serif" font-size="82.0" text-anchor="end" font-weight="normal" fill="#000" stroke="#000" stroke-width="0.50" stroke-linejoin="round" textLength="175.7" lengthAdjust="spacingAndGlyphs">1400</text>
<line x1="312.5" y1="2461.8" x2="325.5" y2="2461.8" stroke="#000" stroke-width="6.0"/>
<line x1="297.6" y1="2397.2" x2="325.5" y2="2397.2" stroke="#000" stroke-width="6.0"/>
<text x="275.5" y="2418.2" font-family="'Liberation Sans', Arial, sans-serif" font-size="82.0" text-anchor="end" font-weight="normal" fill="#000" stroke="#000" stroke-width="0.50" stroke-linejoin="round" textLength="175.7" lengthAdjust="spacingAndGlyphs">1600</text>
<line x1="312.5" y1="2332.6" x2="325.5" y2="2332.6" stroke="#000" stroke-width="6.0"/>
<line x1="297.6" y1="2268.0" x2="325.5" y2="2268.0" stroke="#000" stroke-width="6.0"/>
<text x="275.5" y="2289.0" font-family="'Liberation Sans', Arial, sans-serif" font-size="82.0" text-anchor="end" font-weight="normal" fill="#000" stroke="#000" stroke-width="0.50" stroke-linejoin="round" textLength="175.7" lengthAdjust="spacingAndGlyphs">1800</text>
<line x1="312.5" y1="2203.4" x2="325.5" y2="2203.4" stroke="#000" stroke-width="6.0"/>
<line x1="297.6" y1="2138.8" x2="325.5" y2="2138.8" stroke="#000" stroke-width="6.0"/>
<text x="275.5" y="2159.8" font-family="'Liberation Sans', Arial, sans-serif" font-size="82.0" text-anchor="end" font-weight="normal" fill="#000" stroke="#000" stroke-width="0.50" stroke-linejoin="round" textLength="175.7" lengthAdjust="spacingAndGlyphs">2000</text>
<line x1="312.5" y1="2074.2" x2="325.5" y2="2074.2" stroke="#000" stroke-width="6.0"/>
<line x1="297.6" y1="2009.6" x2="325.5" y2="2009.6" stroke="#000" stroke-width="6.0"/>
<text x="275.5" y="2030.6" font-family="'Liberation Sans', Arial, sans-serif" font-size="82.0" text-anchor="end" font-weight="normal" fill="#000" stroke="#000" stroke-width="0.50" stroke-linejoin="round" textLength="175.7" lengthAdjust="spacingAndGlyphs">2200</text>
<line x1="325.5" y1="3495.3" x2="325.5" y2="3530.0" stroke="#000" stroke-width="6.0"/>
<text x="326.0" y="3611.5" font-family="'Liberation Sans', Arial, sans-serif" font-size="83.0" text-anchor="middle" font-weight="normal" fill="#000" stroke="#000" stroke-width="0.50" stroke-linejoin="round" textLength="155" lengthAdjust="spacingAndGlyphs">43.4</text>
<line x1="493.2" y1="3495.3" x2="493.2" y2="3516.0" stroke="#000" stroke-width="6.0"/>
<line x1="660.9" y1="3495.3" x2="660.9" y2="3530.0" stroke="#000" stroke-width="6.0"/>
<text x="661.4" y="3611.5" font-family="'Liberation Sans', Arial, sans-serif" font-size="83.0" text-anchor="middle" font-weight="normal" fill="#000" stroke="#000" stroke-width="0.50" stroke-linejoin="round" textLength="155" lengthAdjust="spacingAndGlyphs">43.6</text>
<line x1="828.5" y1="3495.3" x2="828.5" y2="3516.0" stroke="#000" stroke-width="6.0"/>
<line x1="996.2" y1="3495.3" x2="996.2" y2="3530.0" stroke="#000" stroke-width="6.0"/>
<text x="996.7" y="3611.5" font-family="'Liberation Sans', Arial, sans-serif" font-size="83.0" text-anchor="middle" font-weight="normal" fill="#000" stroke="#000" stroke-width="0.50" stroke-linejoin="round" textLength="155" lengthAdjust="spacingAndGlyphs">43.8</text>
<line x1="1163.9" y1="3495.3" x2="1163.9" y2="3516.0" stroke="#000" stroke-width="6.0"/>
<line x1="1331.6" y1="3495.3" x2="1331.6" y2="3530.0" stroke="#000" stroke-width="6.0"/>
<text x="1332.1" y="3611.5" font-family="'Liberation Sans', Arial, sans-serif" font-size="83.0" text-anchor="middle" font-weight="normal" fill="#000" stroke="#000" stroke-width="0.50" stroke-linejoin="round" textLength="155" lengthAdjust="spacingAndGlyphs">44.0</text>
<line x1="1499.2" y1="3495.3" x2="1499.2" y2="3516.0" stroke="#000" stroke-width="6.0"/>
<line x1="1666.9" y1="3495.3" x2="1666.9" y2="3530.0" stroke="#000" stroke-width="6.0"/>
<text x="1667.4" y="3611.5" font-family="'Liberation Sans', Arial, sans-serif" font-size="83.0" text-anchor="middle" font-weight="normal" fill="#000" stroke="#000" stroke-width="0.50" stroke-linejoin="round" textLength="155" lengthAdjust="spacingAndGlyphs">44.2</text>
<line x1="1834.6" y1="3495.3" x2="1834.6" y2="3516.0" stroke="#000" stroke-width="6.0"/>
<line x1="2002.2" y1="3495.3" x2="2002.2" y2="3530.0" stroke="#000" stroke-width="6.0"/>
<text x="2002.8" y="3611.5" font-family="'Liberation Sans', Arial, sans-serif" font-size="83.0" text-anchor="middle" font-weight="normal" fill="#000" stroke="#000" stroke-width="0.50" stroke-linejoin="round" textLength="155" lengthAdjust="spacingAndGlyphs">44.4</text>
<line x1="2169.9" y1="3495.3" x2="2169.9" y2="3516.0" stroke="#000" stroke-width="6.0"/>
<line x1="2337.6" y1="3495.3" x2="2337.6" y2="3530.0" stroke="#000" stroke-width="6.0"/>
<text x="2338.1" y="3611.5" font-family="'Liberation Sans', Arial, sans-serif" font-size="83.0" text-anchor="middle" font-weight="normal" fill="#000" stroke="#000" stroke-width="0.50" stroke-linejoin="round" textLength="155" lengthAdjust="spacingAndGlyphs">44.6</text>
<polyline points="495.5,3413.9 499.8,3413.9 501.1,3413.9 502.5,3413.9 504.2,3413.9 505.9,3413.9 507.7,3413.9 509.6,3413.9 511.6,3413.9 513.5,3413.9 515.5,3413.9 517.5,3413.9 519.5,3413.9 521.5,3413.9 523.5,3413.9 525.5,3413.8 527.4,3413.8 529.4,3413.7 531.4,3413.6 533.3,3413.4 535.1,3413.1 537.0,3412.8 538.8,3412.4 540.6,3411.9 542.4,3411.5 544.2,3411.0 545.9,3410.5 547.7,3410.1 549.6,3409.8 551.4,3409.6 553.3,3409.5 555.1,3409.6 557.0,3409.7 558.9,3410.0 560.7,3410.4 562.6,3410.9 564.4,3411.5 566.2,3412.2 568.0,3412.8 569.8,3413.4 571.5,3414.0 573.3,3414.5 575.1,3414.8 576.9,3415.0 578.7,3415.0 580.5,3414.9 582.3,3414.7 584.2,3414.5 586.0,3414.2 587.9,3413.9 589.8,3413.6 591.7,3413.4 593.7,3413.3 595.6,3413.1 597.6,3413.1 599.6,3413.1 601.5,3413.2 603.5,3413.3 605.4,3413.5 607.3,3413.8 609.2,3414.1 611.1,3414.5 612.9,3414.9 614.8,3415.3 616.6,3415.7 618.5,3416.1 620.4,3416.5 622.3,3416.7 624.2,3417.0 626.2,3417.1 628.1,3417.2 630.1,3417.3 632.1,3417.3 634.1,3417.4 636.1,3417.4 638.1,3417.4 640.1,3417.4 642.1,3417.4 644.1,3417.4 646.1,3417.4 648.1,3417.4 650.1,3417.4 652.1,3417.4 654.1,3417.4 656.1,3417.4 658.1,3417.4 660.1,3417.4 662.1,3417.4 664.1,3417.4 666.1,3417.4 668.1,3417.4 670.1,3417.4 672.1,3417.4 674.1,3417.4 676.1,3417.4 678.1,3417.4 680.1,3417.4 682.1,3417.4 684.1,3417.4 686.0,3417.4 688.0,3417.3 690.0,3417.3 692.0,3417.2 693.9,3417.1 695.8,3416.9 697.7,3416.7 699.5,3416.4 701.4,3416.1 703.1,3415.7 704.9,3415.2 706.7,3414.8 708.5,3414.4 710.3,3414.0 712.1,3413.7 713.9,3413.4 715.8,3413.1 717.7,3412.9 719.7,3412.7 721.6,3412.5 723.5,3412.3 725.4,3411.9 727.3,3411.6 729.2,3411.2 731.1,3410.7 732.9,3410.3 734.8,3409.8 736.7,3409.4 738.6,3408.9 740.5,3408.5 742.4,3408.1 744.3,3407.6 746.2,3407.1 748.1,3406.6 750.0,3406.1 751.9,3405.5 753.8,3404.9 755.7,3404.2 757.6,3403.5 759.4,3402.9 761.3,3402.2 763.2,3401.6 765.1,3401.0 767.0,3400.4 768.9,3400.0 770.8,3399.6 772.7,3399.3 774.7,3399.0 776.7,3398.8 778.6,3398.7 780.6,3398.6 782.6,3398.6 784.6,3398.5 786.6,3398.5 788.6,3398.5 790.6,3398.5 792.6,3398.5 794.6,3398.5 796.6,3398.5 798.6,3398.5 800.6,3398.5 802.6,3398.5 804.6,3398.5 806.6,3398.5 808.6,3398.5 810.6,3398.5 812.6,3398.5 814.6,3398.5 816.6,3398.5 818.6,3398.5 820.6,3398.5 822.6,3398.5 824.6,3398.5 826.6,3398.5 828.6,3398.5 830.6,3398.5 832.6,3398.5 834.6,3398.5 836.6,3398.5 838.6,3398.5 840.6,3398.5 842.6,3398.5 844.6,3398.5 846.6,3398.4 848.6,3398.4 850.6,3398.3 852.5,3398.2 854.5,3398.0 856.5,3397.7 858.4,3397.4 860.3,3397.0 862.2,3396.5 864.1,3395.9 865.9,3395.3 867.8,3394.6 869.6,3393.9 871.5,3393.1 873.3,3392.3 875.1,3391.5 876.9,3390.6 878.7,3389.7 880.4,3388.8 882.2,3387.8 883.9,3386.8 885.6,3385.8 887.2,3384.7 888.8,3383.5 890.4,3382.3 891.9,3381.1 893.5,3379.8 895.0,3378.5 896.5,3377.1 897.9,3375.8 899.4,3374.5 900.9,3373.1 902.4,3371.8 903.9,3370.5 905.4,3369.2 906.9,3367.9 908.4,3366.6 909.9,3365.3 911.5,3363.9 912.9,3362.6 914.4,3361.3 915.9,3359.9 917.4,3358.6 918.8,3357.2 920.2,3355.8 921.6,3354.3 922.9,3352.9 924.3,3351.4 925.6,3349.9 926.9,3348.4 928.2,3346.8 929.4,3345.3 930.6,3343.7 931.8,3342.1 932.9,3340.4 934.1,3338.8 935.2,3337.1 936.2,3335.4 937.3,3333.7 938.3,3332.0 939.3,3330.3 940.3,3328.6 941.3,3326.8 942.2,3325.1 943.1,3323.3 944.0,3321.5 944.9,3319.7 945.8,3317.9 946.7,3316.1 947.5,3314.3 948.3,3312.5 949.2,3310.6 950.0,3308.8 950.8,3307.0 951.5,3305.1 952.3,3303.3 953.1,3301.5 953.8,3299.6 954.6,3297.8 955.4,3295.9 956.1,3294.1 956.9,3292.2 957.6,3290.3 958.4,3288.5 959.1,3286.6 959.9,3284.8 960.6,3282.9 961.3,3281.1 962.1,3279.2 962.8,3277.3 963.5,3275.5 964.2,3273.6 964.9,3271.7 965.6,3269.8 966.2,3268.0 966.9,3266.1 967.6,3264.2 968.2,3262.3 968.9,3260.4 969.6,3258.5 970.2,3256.6 970.9,3254.8 971.6,3252.9 972.3,3251.0 973.0,3249.1 973.7,3247.3 974.4,3245.4 975.2,3243.5 975.9,3241.7 976.7,3239.8 977.5,3238.0 978.2,3236.2 979.0,3234.3 979.8,3232.5 980.7,3230.7 981.5,3228.8 982.3,3227.0 983.1,3225.2 983.9,3223.4 984.8,3221.6 985.6,3219.7 986.4,3217.9 987.1,3216.0 987.9,3214.2 988.7,3212.3 989.4,3210.5 990.1,3208.6 990.8,3206.8 991.5,3204.9 992.2,3203.0 992.8,3201.1 993.5,3199.2 994.1,3197.3 994.7,3195.4 995.3,3193.5 996.0,3191.6 996.6,3189.7 997.2,3187.8 997.8,3185.9 998.4,3184.0 999.0,3182.1 999.6,3180.2 1000.2,3178.3 1000.8,3176.4 1001.4,3174.5 1002.1,3172.6 1002.7,3170.7 1003.3,3168.8 1004.0,3166.9 1004.6,3165.0 1005.3,3163.1 1006.0,3161.2 1006.7,3159.4 1007.4,3157.5 1008.1,3155.6 1008.8,3153.7 1009.5,3151.9 1010.2,3150.0 1011.0,3148.2 1011.7,3146.3 1012.4,3144.4 1013.1,3142.6 1013.8,3140.7 1014.5,3138.8 1015.2,3136.9 1015.9,3135.1 1016.6,3133.2 1017.3,3131.3 1018.0,3129.4 1018.6,3127.5 1019.3,3125.6 1019.9,3123.8 1020.6,3121.9 1021.2,3120.0 1021.8,3118.0 1022.4,3116.1 1023.0,3114.2 1023.5,3112.3 1024.1,3110.4 1024.7,3108.5 1025.3,3106.6 1025.8,3104.6 1026.4,3102.7 1026.9,3100.8 1027.5,3098.9 1028.1,3097.0 1028.6,3095.0 1029.2,3093.1 1029.7,3091.2 1030.3,3089.3 1030.8,3087.4 1031.4,3085.4 1031.9,3083.5 1032.5,3081.6 1033.0,3079.7 1033.6,3077.8 1034.2,3075.8 1034.8,3073.9 1035.4,3072.0 1036.0,3070.1 1036.6,3068.2 1037.3,3066.3 1037.9,3064.4 1038.6,3062.5 1039.2,3060.6 1039.9,3058.8 1040.5,3056.9 1041.2,3055.0 1041.8,3053.1 1042.4,3051.2 1043.1,3049.3 1043.7,3047.4 1044.3,3045.5 1044.9,3043.6 1045.5,3041.7 1046.1,3039.7 1046.6,3037.8 1047.2,3035.9 1047.8,3034.0 1048.4,3032.1 1048.9,3030.2 1049.5,3028.3 1050.1,3026.3 1050.6,3024.4 1051.2,3022.5 1051.8,3020.6 1052.4,3018.7 1052.9,3016.8 1053.5,3014.8 1054.1,3012.9 1054.7,3011.0 1055.3,3009.1 1055.9,3007.2 1056.5,3005.3 1057.2,3003.4 1057.8,3001.5 1058.4,2999.6 1059.1,2997.7 1059.7,2995.8 1060.4,2994.0 1061.1,2992.1 1061.7,2990.2 1062.3,2988.3 1063.0,2986.4 1063.6,2984.5 1064.2,2982.6 1064.8,2980.7 1065.4,2978.8 1066.0,2976.9 1066.6,2974.9 1067.2,2973.0 1067.7,2971.1 1068.3,2969.2 1068.9,2967.3 1069.5,2965.4 1070.0,2963.4 1070.6,2961.5 1071.2,2959.6 1071.7,2957.7 1072.3,2955.8 1072.9,2953.9 1073.4,2951.9 1074.0,2950.0 1074.6,2948.1 1075.1,2946.2 1075.7,2944.3 1076.3,2942.4 1076.9,2940.4 1077.4,2938.5 1078.0,2936.6 1078.6,2934.7 1079.2,2932.8 1079.7,2930.9 1080.3,2928.9 1080.9,2927.0 1081.5,2925.1 1082.1,2923.2 1082.6,2921.3 1083.2,2919.4 1083.8,2917.5 1084.3,2915.5 1084.9,2913.6 1085.5,2911.7 1086.1,2909.8 1086.7,2907.9 1087.2,2906.0 1087.8,2904.1 1088.4,2902.2 1089.1,2900.2 1089.7,2898.3 1090.3,2896.5 1091.0,2894.6 1091.6,2892.7 1092.3,2890.8 1092.9,2888.9 1093.6,2887.0 1094.2,2885.1 1094.8,2883.2 1095.4,2881.3 1096.0,2879.4 1096.6,2877.5 1097.2,2875.6 1097.7,2873.6 1098.3,2871.7 1098.8,2869.8 1099.3,2867.9 1099.8,2865.9 1100.2,2864.0 1100.7,2862.0 1101.2,2860.1 1101.7,2858.1 1102.2,2856.2 1102.7,2854.3 1103.2,2852.3 1103.7,2850.4 1104.3,2848.5 1104.9,2846.6 1105.5,2844.7 1106.1,2842.8 1106.7,2840.9 1107.3,2839.0 1108.0,2837.1 1108.6,2835.2 1109.3,2833.3 1110.0,2831.4 1110.6,2829.5 1111.2,2827.7 1111.9,2825.8 1112.5,2823.9 1113.1,2821.9 1113.7,2820.0 1114.3,2818.1 1114.9,2816.2 1115.4,2814.3 1116.0,2812.4 1116.6,2810.5 1117.1,2808.5 1117.7,2806.6 1118.3,2804.7 1118.8,2802.8 1119.4,2800.9 1120.0,2799.0 1120.5,2797.0 1121.1,2795.1 1121.7,2793.2 1122.3,2791.3 1122.9,2789.4 1123.5,2787.5 1124.1,2785.6 1124.7,2783.7 1125.3,2781.8 1125.9,2779.9 1126.5,2778.0 1127.2,2776.1 1127.8,2774.2 1128.5,2772.3 1129.1,2770.4 1129.8,2768.5 1130.5,2766.6 1131.1,2764.7 1131.8,2762.8 1132.5,2761.0 1133.1,2759.1 1133.8,2757.2 1134.5,2755.3 1135.1,2753.4 1135.8,2751.5 1136.5,2749.6 1137.1,2747.8 1137.8,2745.9 1138.5,2744.0 1139.1,2742.1 1139.8,2740.2 1140.4,2738.3 1141.1,2736.4 1141.8,2734.6 1142.4,2732.7 1143.1,2730.8 1143.7,2728.9 1144.4,2727.0 1145.0,2725.1 1145.7,2723.2 1146.4,2721.3 1147.0,2719.4 1147.7,2717.6 1148.3,2715.7 1149.0,2713.8 1149.7,2711.9 1150.3,2710.0 1151.0,2708.1 1151.7,2706.2 1152.3,2704.3 1153.0,2702.5 1153.7,2700.6 1154.3,2698.7 1155.0,2696.8 1155.7,2694.9 1156.3,2693.0 1157.0,2691.2 1157.7,2689.3 1158.3,2687.4 1159.0,2685.5 1159.6,2683.6 1160.3,2681.7 1160.9,2679.8 1161.5,2677.9 1162.1,2676.0 1162.7,2674.1 1163.2,2672.2 1163.8,2670.2 1164.3,2668.3 1164.8,2666.4 1165.3,2664.4 1165.8,2662.5 1166.3,2660.6 1166.8,2658.6 1167.3,2656.7 1167.8,2654.7 1168.2,2652.8 1168.7,2650.9 1169.2,2648.9 1169.7,2647.0 1170.2,2645.1 1170.7,2643.1 1171.3,2641.2 1171.8,2639.3 1172.3,2637.3 1172.9,2635.4 1173.5,2633.5 1174.1,2631.6 1174.7,2629.7 1175.3,2627.8 1176.0,2625.9 1176.7,2624.1 1177.5,2622.2 1178.2,2620.4 1179.0,2618.5 1179.8,2616.7 1180.7,2614.9 1181.5,2613.1 1182.3,2611.3 1183.2,2609.5 1184.0,2607.6 1184.9,2605.8 1185.7,2604.0 1186.5,2602.2 1187.3,2600.4 1188.1,2598.5 1189.0,2596.7 1189.8,2594.9 1190.6,2593.0 1191.3,2591.2 1192.1,2589.4 1192.9,2587.5 1193.7,2585.7 1194.4,2583.8 1195.2,2582.0 1195.9,2580.1 1196.6,2578.3 1197.4,2576.4 1198.1,2574.5 1198.8,2572.7 1199.5,2570.8 1200.2,2568.9 1200.9,2567.0 1201.5,2565.1 1202.2,2563.2 1202.8,2561.4 1203.4,2559.5 1204.0,2557.5 1204.6,2555.6 1205.2,2553.7 1205.8,2551.8 1206.3,2549.9 1206.9,2548.0 1207.4,2546.0 1208.0,2544.1 1208.6,2542.2 1209.1,2540.3 1209.7,2538.4 1210.4,2536.5 1211.0,2534.6 1211.7,2532.7 1212.4,2530.8 1213.1,2529.0 1213.8,2527.1 1214.5,2525.2 1215.2,2523.4 1216.0,2521.5 1216.7,2519.7 1217.5,2517.8 1218.2,2516.0 1219.0,2514.1 1219.8,2512.3 1220.6,2510.4 1221.4,2508.6 1222.2,2506.8 1223.0,2504.9 1223.8,2503.1 1224.6,2501.3 1225.4,2499.5 1226.2,2497.6 1227.1,2495.8 1227.9,2494.0 1228.7,2492.2 1229.6,2490.4 1230.4,2488.5 1231.2,2486.7 1232.1,2484.9 1232.9,2483.1 1233.8,2481.3 1234.6,2479.5 1235.5,2477.7 1236.3,2475.9 1237.2,2474.0 1238.0,2472.2 1238.9,2470.4 1239.8,2468.6 1240.6,2466.8 1241.5,2465.0 1242.4,2463.3 1243.3,2461.5 1244.2,2459.7 1245.1,2457.9 1246.0,2456.1 1246.9,2454.3 1247.8,2452.5 1248.7,2450.7 1249.6,2449.0 1250.5,2447.2 1251.4,2445.4 1252.4,2443.6 1253.3,2441.9 1254.2,2440.1 1255.1,2438.3 1256.0,2436.5 1257.0,2434.8 1257.9,2433.0 1258.8,2431.2 1259.7,2429.4 1260.6,2427.6 1261.5,2425.9 1262.4,2424.1 1263.3,2422.3 1264.2,2420.5 1265.1,2418.7 1266.0,2416.9 1266.9,2415.1 1267.8,2413.3 1268.6,2411.5 1269.5,2409.7 1270.5,2408.0 1271.4,2406.2 1272.3,2404.4 1273.3,2402.7 1274.3,2400.9 1275.3,2399.2 1276.3,2397.5 1277.4,2395.8 1278.4,2394.1 1279.6,2392.5 1280.7,2390.9 1281.9,2389.3 1283.1,2387.7 1284.3,2386.1 1285.6,2384.6 1286.9,2383.0 1288.2,2381.6 1289.6,2380.1 1291.0,2378.7 1292.4,2377.3 1293.8,2375.9 1295.3,2374.6 1296.8,2373.3 1298.4,2372.1 1300.0,2370.9 1301.6,2369.7 1303.2,2368.6 1304.8,2367.4 1306.4,2366.3 1308.1,2365.2 1309.7,2364.1 1311.4,2363.0 1313.0,2362.0 1314.7,2361.1 1316.4,2360.3 1318.2,2359.6 1320.0,2359.0 1321.9,2358.6 1323.8,2358.2 1325.7,2358.0 1327.6,2357.8 1329.6,2357.7 1331.6,2357.7 1333.6,2357.7 1335.5,2357.7 1337.5,2357.8 1339.5,2358.0 1341.4,2358.2 1343.3,2358.5 1345.2,2359.0 1347.1,2359.5 1348.9,2360.1 1350.7,2360.9 1352.5,2361.7 1354.3,2362.6 1356.0,2363.5 1357.7,2364.5 1359.4,2365.5 1361.1,2366.6 1362.7,2367.7 1364.4,2368.9 1366.0,2370.0 1367.6,2371.2 1369.2,2372.4 1370.8,2373.6 1372.3,2374.9 1373.8,2376.2 1375.3,2377.5 1376.8,2378.8 1378.3,2380.2 1379.7,2381.6 1381.1,2383.1 1382.4,2384.5 1383.8,2386.0 1385.1,2387.5 1386.4,2389.0 1387.6,2390.6 1388.8,2392.2 1390.1,2393.7 1391.2,2395.3 1392.4,2397.0 1393.6,2398.6 1394.7,2400.2 1395.9,2401.9 1397.0,2403.5 1398.2,2405.1 1399.3,2406.8 1400.4,2408.4 1401.6,2410.1 1402.7,2411.7 1403.8,2413.4 1405.0,2415.0 1406.1,2416.7 1407.2,2418.4 1408.3,2420.0 1409.3,2421.7 1410.4,2423.4 1411.4,2425.1 1412.4,2426.9 1413.4,2428.6 1414.4,2430.3 1415.3,2432.1 1416.2,2433.9 1417.2,2435.6 1418.1,2437.4 1419.0,2439.2 1419.9,2441.0 1420.8,2442.8 1421.7,2444.6 1422.6,2446.3 1423.5,2448.1 1424.4,2449.9 1425.3,2451.7 1426.2,2453.5 1427.1,2455.3 1428.0,2457.1 1428.9,2458.9 1429.7,2460.7 1430.6,2462.4 1431.5,2464.2 1432.4,2466.0 1433.4,2467.8 1434.3,2469.6 1435.1,2471.4 1436.0,2473.2 1436.9,2474.9 1437.8,2476.7 1438.7,2478.5 1439.6,2480.3 1440.4,2482.1 1441.3,2483.9 1442.2,2485.8 1443.0,2487.6 1443.8,2489.4 1444.7,2491.2 1445.5,2493.0 1446.3,2494.8 1447.1,2496.7 1447.9,2498.5 1448.8,2500.3 1449.6,2502.2 1450.4,2504.0 1451.2,2505.8 1452.0,2507.6 1452.8,2509.5 1453.7,2511.3 1454.5,2513.1 1455.3,2514.9 1456.1,2516.8 1456.9,2518.6 1457.8,2520.4 1458.6,2522.2 1459.4,2524.0 1460.2,2525.9 1461.1,2527.7 1461.9,2529.5 1462.7,2531.3 1463.5,2533.2 1464.4,2535.0 1465.2,2536.8 1466.0,2538.6 1466.8,2540.5 1467.6,2542.3 1468.4,2544.1 1469.2,2545.9 1470.0,2547.8 1470.8,2549.6 1471.6,2551.5 1472.3,2553.3 1473.1,2555.2 1473.8,2557.0 1474.6,2558.9 1475.3,2560.7 1476.0,2562.6 1476.8,2564.5 1477.5,2566.3 1478.2,2568.2 1478.9,2570.1 1479.6,2572.0 1480.2,2573.8 1480.9,2575.7 1481.6,2577.6 1482.3,2579.5 1482.9,2581.4 1483.6,2583.3 1484.3,2585.1 1485.0,2587.0 1485.7,2588.9 1486.3,2590.8 1487.0,2592.6 1487.8,2594.5 1488.5,2596.4 1489.2,2598.2 1489.9,2600.1 1490.7,2602.0 1491.4,2603.8 1492.2,2605.7 1492.9,2607.5 1493.6,2609.4 1494.4,2611.2 1495.1,2613.1 1495.9,2615.0 1496.6,2616.8 1497.4,2618.7 1498.1,2620.5 1498.8,2622.4 1499.6,2624.2 1500.3,2626.1 1501.1,2628.0 1501.8,2629.8 1502.5,2631.7 1503.3,2633.5 1504.0,2635.4 1504.8,2637.2 1505.5,2639.1 1506.3,2641.0 1507.0,2642.8 1507.8,2644.7 1508.5,2646.5 1509.2,2648.4 1510.0,2650.2 1510.7,2652.1 1511.4,2654.0 1512.1,2655.8 1512.9,2657.7 1513.6,2659.6 1514.3,2661.5 1514.9,2663.3 1515.6,2665.2 1516.3,2667.1 1516.9,2669.0 1517.5,2670.9 1518.2,2672.8 1518.7,2674.7 1519.3,2676.6 1519.8,2678.5 1520.4,2680.5 1520.9,2682.4 1521.3,2684.3 1521.8,2686.3 1522.3,2688.2 1522.7,2690.2 1523.2,2692.1 1523.7,2694.1 1524.2,2696.0 1524.6,2697.9 1525.1,2699.9 1525.7,2701.8 1526.2,2703.7 1526.7,2705.7 1527.3,2707.6 1527.9,2709.5 1528.5,2711.4 1529.1,2713.3 1529.7,2715.2 1530.3,2717.1 1530.9,2719.0 1531.6,2720.9 1532.2,2722.8 1532.9,2724.7 1533.5,2726.6 1534.2,2728.5 1534.8,2730.4 1535.5,2732.2 1536.2,2734.1 1536.8,2736.0 1537.5,2737.9 1538.2,2739.8 1538.8,2741.7 1539.5,2743.6 1540.2,2745.4 1540.8,2747.3 1541.5,2749.2 1542.2,2751.1 1542.8,2753.0 1543.5,2754.9 1544.1,2756.8 1544.7,2758.7 1545.4,2760.6 1546.0,2762.5 1546.6,2764.4 1547.2,2766.3 1547.8,2768.2 1548.4,2770.1 1548.9,2772.0 1549.5,2773.9 1550.1,2775.9 1550.7,2777.8 1551.2,2779.7 1551.8,2781.6 1552.4,2783.5 1552.9,2785.4 1553.5,2787.4 1554.1,2789.3 1554.6,2791.2 1555.2,2793.1 1555.8,2795.0 1556.4,2796.9 1556.9,2798.9 1557.5,2800.8 1558.1,2802.7 1558.6,2804.6 1559.2,2806.5 1559.8,2808.4 1560.4,2810.4 1560.9,2812.3 1561.5,2814.2 1562.1,2816.1 1562.7,2818.0 1563.2,2819.9 1563.8,2821.9 1564.4,2823.8 1565.0,2825.7 1565.5,2827.6 1566.1,2829.5 1566.7,2831.4 1567.3,2833.3 1567.9,2835.3 1568.4,2837.2 1569.0,2839.1 1569.6,2841.0 1570.2,2842.9 1570.7,2844.8 1571.3,2846.7 1571.9,2848.7 1572.4,2850.6 1573.0,2852.5 1573.6,2854.4 1574.1,2856.3 1574.7,2858.3 1575.3,2860.2 1575.9,2862.1 1576.5,2864.0 1577.1,2865.9 1577.7,2867.8 1578.3,2869.7 1579.0,2871.6 1579.6,2873.5 1580.2,2875.4 1580.9,2877.3 1581.6,2879.2 1582.2,2881.0 1582.9,2882.9 1583.5,2884.8 1584.2,2886.7 1584.8,2888.6 1585.4,2890.5 1586.0,2892.4 1586.6,2894.3 1587.2,2896.2 1587.8,2898.2 1588.4,2900.1 1588.9,2902.0 1589.5,2903.9 1590.1,2905.8 1590.6,2907.7 1591.2,2909.7 1591.8,2911.6 1592.4,2913.5 1592.9,2915.4 1593.5,2917.3 1594.1,2919.2 1594.6,2921.2 1595.2,2923.1 1595.8,2925.0 1596.4,2926.9 1597.0,2928.8 1597.6,2930.7 1598.2,2932.6 1598.8,2934.5 1599.4,2936.4 1600.0,2938.3 1600.5,2940.3 1601.1,2942.2 1601.6,2944.1 1602.1,2946.0 1602.6,2948.0 1603.1,2949.9 1603.5,2951.9 1603.9,2953.8 1604.3,2955.8 1604.6,2957.7 1605.0,2959.7 1605.4,2961.7 1605.8,2963.6 1606.2,2965.6 1606.6,2967.5 1607.1,2969.5 1607.5,2971.4 1608.0,2973.3 1608.6,2975.3 1609.1,2977.2 1609.7,2979.1 1610.2,2981.0 1610.8,2982.9 1611.4,2984.8 1612.0,2986.8 1612.6,2988.7 1613.2,2990.6 1613.8,2992.5 1614.3,2994.4 1614.9,2996.3 1615.5,2998.2 1616.1,3000.2 1616.7,3002.1 1617.2,3004.0 1617.8,3005.9 1618.5,3007.8 1619.1,3009.7 1619.7,3011.6 1620.3,3013.5 1621.0,3015.4 1621.6,3017.3 1622.3,3019.2 1622.9,3021.0 1623.6,3022.9 1624.3,3024.8 1624.9,3026.7 1625.6,3028.6 1626.3,3030.5 1627.0,3032.4 1627.6,3034.2 1628.3,3036.1 1629.0,3038.0 1629.6,3039.9 1630.3,3041.8 1630.9,3043.7 1631.6,3045.6 1632.2,3047.5 1632.8,3049.4 1633.5,3051.3 1634.1,3053.2 1634.7,3055.1 1635.3,3057.0 1635.9,3058.9 1636.5,3060.8 1637.1,3062.7 1637.6,3064.6 1638.2,3066.5 1638.8,3068.4 1639.4,3070.4 1640.0,3072.3 1640.6,3074.2 1641.2,3076.1 1641.8,3078.0 1642.5,3079.9 1643.1,3081.8 1643.8,3083.7 1644.4,3085.5 1645.1,3087.4 1645.7,3089.3 1646.4,3091.2 1647.1,3093.1 1647.7,3095.0 1648.4,3096.9 1649.1,3098.8 1649.7,3100.6 1650.4,3102.5 1651.1,3104.4 1651.7,3106.3 1652.4,3108.2 1653.0,3110.1 1653.7,3112.0 1654.4,3113.8 1655.0,3115.7 1655.7,3117.6 1656.3,3119.5 1657.0,3121.4 1657.6,3123.3 1658.3,3125.2 1659.0,3127.1 1659.6,3129.0 1660.3,3130.9 1660.9,3132.7 1661.6,3134.6 1662.3,3136.5 1663.0,3138.4 1663.7,3140.3 1664.3,3142.1 1665.1,3144.0 1665.8,3145.9 1666.5,3147.7 1667.2,3149.6 1668.0,3151.5 1668.7,3153.3 1669.5,3155.1 1670.3,3157.0 1671.1,3158.8 1672.0,3160.6 1672.8,3162.4 1673.7,3164.2 1674.6,3166.0 1675.5,3167.8 1676.4,3169.5 1677.4,3171.3 1678.3,3173.1 1679.2,3174.9 1680.1,3176.6 1681.0,3178.4 1681.9,3180.2 1682.8,3182.0 1683.7,3183.8 1684.5,3185.6 1685.4,3187.4 1686.2,3189.2 1687.0,3191.1 1687.8,3192.9 1688.6,3194.7 1689.4,3196.6 1690.2,3198.4 1690.9,3200.3 1691.7,3202.1 1692.4,3204.0 1693.2,3205.8 1693.9,3207.7 1694.7,3209.5 1695.4,3211.4 1696.2,3213.2 1696.9,3215.1 1697.7,3216.9 1698.5,3218.8 1699.2,3220.6 1700.0,3222.5 1700.8,3224.3 1701.6,3226.2 1702.4,3228.0 1703.1,3229.8 1703.9,3231.7 1704.7,3233.5 1705.6,3235.3 1706.4,3237.2 1707.2,3239.0 1708.0,3240.8 1708.8,3242.6 1709.7,3244.5 1710.5,3246.3 1711.3,3248.1 1712.2,3249.9 1713.0,3251.7 1713.8,3253.5 1714.7,3255.4 1715.5,3257.2 1716.3,3259.0 1717.1,3260.8 1718.0,3262.6 1718.8,3264.5 1719.6,3266.3 1720.5,3268.1 1721.4,3269.9 1722.3,3271.7 1723.2,3273.5 1724.1,3275.2 1725.0,3277.0 1726.0,3278.7 1727.0,3280.5 1728.0,3282.2 1729.0,3283.9 1730.1,3285.6 1731.2,3287.3 1732.3,3288.9 1733.4,3290.6 1734.5,3292.2 1735.7,3293.9 1736.9,3295.5 1738.1,3297.1 1739.3,3298.7 1740.5,3300.2 1741.8,3301.8 1743.0,3303.3 1744.3,3304.9 1745.6,3306.4 1746.9,3307.9 1748.3,3309.4 1749.6,3310.8 1751.0,3312.3 1752.4,3313.8 1753.7,3315.2 1755.1,3316.6 1756.6,3318.0 1758.0,3319.4 1759.4,3320.8 1760.9,3322.1 1762.4,3323.5 1763.9,3324.8 1765.4,3326.1 1767.0,3327.4 1768.5,3328.6 1770.1,3329.8 1771.7,3331.0 1773.3,3332.2 1774.9,3333.4 1776.6,3334.5 1778.2,3335.6 1779.9,3336.7 1781.6,3337.7 1783.3,3338.7 1785.1,3339.7 1786.8,3340.7 1788.6,3341.7 1790.3,3342.6 1792.1,3343.5 1793.9,3344.4 1795.7,3345.2 1797.5,3346.1 1799.3,3346.9 1801.1,3347.8 1803.0,3348.6 1804.8,3349.4 1806.6,3350.2 1808.5,3351.0 1810.3,3351.8 1812.2,3352.5 1814.0,3353.3 1815.9,3354.0 1817.7,3354.7 1819.6,3355.5 1821.5,3356.1 1823.4,3356.8 1825.2,3357.5 1827.1,3358.1 1829.0,3358.8 1830.9,3359.3 1832.8,3359.9 1834.8,3360.4 1836.7,3360.9 1838.6,3361.3 1840.6,3361.7 1842.5,3362.1 1844.5,3362.4 1846.4,3362.7 1848.4,3363.1 1850.3,3363.4 1852.3,3363.8 1854.2,3364.2 1856.1,3364.6 1858.0,3365.0 1860.0,3365.4 1861.9,3365.7 1863.8,3366.1 1865.7,3366.4 1867.7,3366.7 1869.6,3367.0 1871.5,3367.3 1873.4,3367.7 1875.3,3368.1 1877.2,3368.5 1879.1,3368.9 1881.0,3369.3 1882.9,3369.8 1884.8,3370.2 1886.7,3370.5 1888.6,3370.8 1890.5,3371.2 1892.5,3371.5 1894.4,3371.8 1896.3,3372.1 1898.3,3372.5 1900.2,3373.0 1902.1,3373.5 1904.0,3374.1 1905.9,3374.7 1907.7,3375.4 1909.6,3376.1 1911.4,3376.9 1913.3,3377.6 1915.1,3378.4 1917.0,3379.1 1918.9,3379.8 1920.7,3380.6 1922.6,3381.3 1924.5,3382.0 1926.3,3382.7 1928.2,3383.4 1930.1,3384.1 1932.0,3384.8 1933.8,3385.4 1935.7,3386.1 1937.6,3386.7 1939.5,3387.3 1941.4,3387.9 1943.4,3388.5 1945.3,3389.0 1947.2,3389.6 1949.1,3390.1 1951.1,3390.6 1953.0,3391.1 1955.0,3391.5 1956.9,3392.0 1958.8,3392.4 1960.8,3392.9 1962.7,3393.3 1964.7,3393.8 1966.6,3394.2 1968.6,3394.7 1970.5,3395.1 1972.5,3395.6 1974.4,3396.0 1976.4,3396.5 1978.3,3397.0 1980.3,3397.4 1982.2,3397.9 1984.2,3398.4 1986.1,3398.9 1988.0,3399.3 1990.0,3399.8 1991.9,3400.2 1993.9,3400.6 1995.8,3401.0 1997.8,3401.3 1999.8,3401.7 2001.8,3401.9 2003.7,3402.2 2005.7,3402.4 2007.7,3402.6 2009.7,3402.7 2011.7,3402.8 2013.7,3402.9 2015.7,3403.0 2017.7,3403.1 2019.7,3403.2 2021.7,3403.3 2023.6,3403.5 2025.6,3403.6 2027.6,3403.8 2029.5,3404.0 2031.5,3404.2 2033.4,3404.5 2035.3,3404.8 2037.1,3405.2 2039.0,3405.5 2040.8,3405.9 2042.7,3406.2 2044.6,3406.5 2046.5,3406.7 2048.4,3406.9 2050.3,3407.0 2052.2,3407.1 2054.2,3407.1 2056.1,3407.1 2058.0,3407.0 2059.9,3406.8 2061.8,3406.6 2063.5,3406.3 2065.3,3406.0 2067.0,3405.5 2068.7,3405.1 2070.4,3404.6 2072.0,3404.1 2073.8,3403.7 2075.5,3403.3 2077.3,3403.0 2079.2,3402.8 2081.0,3402.7 2083.0,3402.6 2084.9,3402.5 2086.9,3402.4 2088.9,3402.4 2090.9,3402.4 2092.9,3402.4 2094.9,3402.4 2096.9,3402.3 2098.9,3402.3 2100.8,3402.2 2102.8,3402.1 2104.8,3402.0 2106.8,3401.8 2108.7,3401.5 2110.6,3401.2 2112.6,3400.7 2114.5,3400.2 2116.4,3399.7 2118.2,3399.1 2120.1,3398.5 2122.0,3397.8 2123.9,3397.2 2125.8,3396.6 2127.7,3396.1 2129.6,3395.6 2131.5,3395.1 2133.5,3394.7 2135.4,3394.3 2137.4,3394.0 2139.3,3393.6 2141.3,3393.2 2143.3,3392.9 2145.2,3392.5 2147.2,3392.1 2149.1,3391.7 2151.1,3391.2 2153.0,3390.8 2154.9,3390.4 2156.8,3389.9 2158.7,3389.5 2160.4,3389.1 2162.1,3388.7 2163.7,3388.4 2165.1,3388.1 2166.4,3387.8 2171.0,3387.0" fill="none" stroke="#000000" stroke-width="5.0" stroke-linejoin="round" stroke-linecap="round"/>
<polyline points="495.5,3025.3 498.9,3022.9 500.0,3022.2 501.3,3021.6 502.7,3020.9 504.2,3020.2 505.9,3019.7 507.6,3019.2 509.4,3018.8 511.3,3018.5 513.2,3018.2 515.2,3018.1 517.1,3018.0 519.1,3017.9 521.1,3017.9 523.1,3017.9 525.0,3018.0 527.0,3018.1 528.9,3018.3 530.8,3018.6 532.7,3018.9 534.6,3019.3 536.4,3019.7 538.3,3020.1 540.1,3020.6 541.9,3021.0 543.8,3021.4 545.7,3021.8 547.6,3022.0 549.5,3022.2 551.5,3022.4 553.4,3022.5 555.4,3022.5 557.4,3022.6 559.4,3022.6 561.4,3022.6 563.4,3022.6 565.4,3022.6 567.4,3022.6 569.4,3022.6 571.4,3022.6 573.4,3022.6 575.4,3022.6 577.4,3022.6 579.4,3022.6 581.4,3022.6 583.4,3022.6 585.4,3022.6 587.4,3022.6 589.4,3022.6 591.4,3022.6 593.4,3022.6 595.4,3022.6 597.4,3022.6 599.4,3022.6 601.4,3022.6 603.4,3022.6 605.4,3022.6 607.4,3022.6 609.4,3022.6 611.4,3022.6 613.4,3022.6 615.4,3022.6 617.4,3022.6 619.4,3022.6 621.4,3022.6 623.4,3022.6 625.4,3022.6 627.4,3022.6 629.4,3022.6 631.4,3022.6 633.4,3022.6 635.4,3022.6 637.4,3022.6 639.4,3022.6 641.4,3022.6 643.4,3022.6 645.4,3022.6 647.4,3022.6 649.4,3022.6 651.4,3022.6 653.4,3022.6 655.4,3022.6 657.4,3022.6 659.4,3022.6 661.4,3022.6 663.4,3022.6 665.4,3022.6 667.4,3022.6 669.4,3022.6 671.4,3022.6 673.4,3022.6 675.4,3022.6 677.4,3022.6 679.4,3022.6 681.4,3022.6 683.4,3022.6 685.4,3022.6 687.4,3022.6 689.4,3022.6 691.4,3022.6 693.3,3022.5 695.3,3022.5 697.3,3022.4 699.2,3022.2 701.2,3022.0 703.1,3021.8 704.9,3021.5 706.8,3021.1 708.7,3020.7 710.5,3020.3 712.3,3019.9 714.2,3019.5 716.1,3019.2 718.0,3018.9 719.9,3018.7 721.9,3018.5 723.8,3018.4 725.8,3018.3 727.8,3018.2 729.8,3018.2 731.8,3018.1 733.7,3018.1 735.7,3018.0 737.7,3017.9 739.6,3017.7 741.6,3017.5 743.5,3017.3 745.3,3017.0 747.2,3016.7 749.0,3016.3 750.9,3015.9 752.7,3015.6 754.6,3015.3 756.5,3015.0 758.4,3014.8 760.3,3014.6 762.3,3014.5 764.2,3014.4 766.2,3014.3 768.1,3014.2 770.1,3014.1 772.0,3014.0 774.0,3013.9 775.9,3013.7 777.8,3013.4 779.6,3013.1 781.5,3012.8 783.3,3012.5 785.2,3012.1 787.1,3011.8 788.9,3011.6 790.8,3011.4 792.8,3011.2 794.7,3011.1 796.7,3011.0 798.7,3011.0 800.6,3010.9 802.6,3010.9 804.6,3010.9 806.6,3010.9 808.6,3010.9 810.6,3010.9 812.6,3010.9 814.6,3010.9 816.6,3010.9 818.6,3010.9 820.6,3010.9 822.6,3010.9 824.6,3010.9 826.6,3010.9 828.6,3010.9 830.6,3010.9 832.6,3010.9 834.6,3010.9 836.6,3010.9 838.6,3010.9 840.6,3010.9 842.6,3010.9 844.6,3010.9 846.6,3010.9 848.6,3010.9 850.6,3010.9 852.6,3010.9 854.6,3010.9 856.6,3010.9 858.6,3010.9 860.6,3010.9 862.6,3010.9 864.6,3010.9 866.6,3010.8 868.6,3010.8 870.5,3010.7 872.5,3010.5 874.4,3010.3 876.3,3010.1 878.2,3009.8 880.0,3009.4 881.8,3009.0 883.6,3008.5 885.5,3008.1 887.3,3007.7 889.2,3007.4 891.0,3007.1 892.9,3006.8 894.9,3006.7 896.8,3006.6 898.8,3006.5 900.8,3006.4 902.7,3006.3 904.7,3006.2 906.7,3006.1 908.6,3005.9 910.6,3005.6 912.5,3005.3 914.4,3005.0 916.3,3004.6 918.2,3004.2 920.1,3003.7 922.1,3003.3 924.0,3002.9 925.9,3002.4 927.8,3002.0 929.8,3001.6 931.7,3001.1 933.6,3000.6 935.5,3000.1 937.4,2999.5 939.3,2998.9 941.2,2998.3 943.0,2997.6 944.9,2996.8 946.7,2996.1 948.6,2995.4 950.4,2994.6 952.3,2993.8 954.1,2993.1 956.0,2992.3 957.8,2991.5 959.6,2990.7 961.4,2989.8 963.2,2989.0 965.0,2988.1 966.7,2987.1 968.5,2986.1 970.2,2985.1 971.8,2984.0 973.5,2982.9 975.1,2981.8 976.8,2980.6 978.4,2979.4 980.0,2978.3 981.6,2977.1 983.2,2975.9 984.8,2974.7 986.4,2973.6 988.1,2972.4 989.7,2971.2 991.2,2970.0 992.8,2968.8 994.3,2967.5 995.8,2966.2 997.3,2964.9 998.7,2963.5 1000.0,2962.0 1001.3,2960.5 1002.6,2959.0 1003.8,2957.4 1005.0,2955.8 1006.1,2954.2 1007.3,2952.6 1008.4,2950.9 1009.5,2949.3 1010.7,2947.6 1011.8,2946.0 1013.0,2944.4 1014.2,2942.8 1015.4,2941.2 1016.5,2939.6 1017.7,2938.0 1018.9,2936.4 1020.1,2934.7 1021.3,2933.1 1022.5,2931.5 1023.6,2929.9 1024.8,2928.2 1025.9,2926.6 1027.0,2924.9 1028.1,2923.2 1029.2,2921.6 1030.3,2919.9 1031.3,2918.2 1032.4,2916.5 1033.4,2914.8 1034.5,2913.1 1035.5,2911.4 1036.6,2909.7 1037.6,2908.0 1038.6,2906.2 1039.6,2904.5 1040.6,2902.8 1041.6,2901.0 1042.6,2899.3 1043.5,2897.5 1044.5,2895.8 1045.5,2894.0 1046.4,2892.3 1047.4,2890.5 1048.3,2888.8 1049.3,2887.0 1050.2,2885.2 1051.2,2883.5 1052.1,2881.7 1053.0,2880.0 1054.0,2878.2 1054.9,2876.4 1055.9,2874.7 1056.8,2872.9 1057.8,2871.1 1058.8,2869.4 1059.7,2867.7 1060.7,2865.9 1061.7,2864.2 1062.7,2862.4 1063.7,2860.7 1064.7,2859.0 1065.7,2857.3 1066.7,2855.5 1067.7,2853.8 1068.7,2852.0 1069.6,2850.3 1070.6,2848.5 1071.5,2846.7 1072.4,2845.0 1073.3,2843.2 1074.2,2841.4 1075.0,2839.6 1075.9,2837.8 1076.7,2836.0 1077.6,2834.1 1078.4,2832.3 1079.2,2830.5 1080.0,2828.7 1080.9,2826.9 1081.7,2825.0 1082.5,2823.2 1083.3,2821.4 1084.1,2819.6 1085.0,2817.7 1085.8,2815.9 1086.6,2814.1 1087.4,2812.3 1088.2,2810.4 1089.1,2808.6 1089.9,2806.8 1090.7,2805.0 1091.5,2803.1 1092.3,2801.3 1093.2,2799.5 1094.0,2797.7 1094.8,2795.9 1095.6,2794.0 1096.5,2792.2 1097.3,2790.4 1098.1,2788.6 1098.9,2786.7 1099.8,2784.9 1100.6,2783.1 1101.4,2781.3 1102.2,2779.4 1103.0,2777.6 1103.8,2775.8 1104.6,2773.9 1105.4,2772.1 1106.2,2770.3 1106.9,2768.4 1107.7,2766.6 1108.4,2764.7 1109.2,2762.8 1109.9,2761.0 1110.7,2759.1 1111.4,2757.3 1112.1,2755.4 1112.9,2753.6 1113.6,2751.7 1114.3,2749.8 1115.1,2748.0 1115.8,2746.1 1116.6,2744.3 1117.3,2742.4 1118.0,2740.5 1118.8,2738.7 1119.5,2736.8 1120.3,2735.0 1121.0,2733.1 1121.8,2731.3 1122.5,2729.4 1123.2,2727.5 1124.0,2725.7 1124.7,2723.8 1125.5,2722.0 1126.2,2720.1 1127.0,2718.3 1127.7,2716.4 1128.5,2714.6 1129.2,2712.7 1130.0,2710.8 1130.7,2709.0 1131.5,2707.1 1132.2,2705.3 1132.9,2703.4 1133.7,2701.6 1134.4,2699.7 1135.2,2697.9 1135.9,2696.0 1136.7,2694.1 1137.4,2692.3 1138.2,2690.4 1138.9,2688.6 1139.6,2686.7 1140.4,2684.9 1141.1,2683.0 1141.9,2681.1 1142.6,2679.3 1143.3,2677.4 1144.1,2675.6 1144.8,2673.7 1145.6,2671.8 1146.3,2670.0 1147.0,2668.1 1147.8,2666.3 1148.5,2664.4 1149.2,2662.6 1150.0,2660.7 1150.7,2658.8 1151.4,2657.0 1152.2,2655.1 1152.9,2653.3 1153.7,2651.4 1154.4,2649.5 1155.2,2647.7 1155.9,2645.8 1156.7,2644.0 1157.5,2642.2 1158.3,2640.3 1159.1,2638.5 1159.9,2636.7 1160.7,2634.8 1161.5,2633.0 1162.3,2631.2 1163.2,2629.4 1164.0,2627.6 1164.8,2625.7 1165.7,2623.9 1166.5,2622.1 1167.4,2620.3 1168.2,2618.5 1169.1,2616.7 1169.9,2614.9 1170.8,2613.1 1171.6,2611.2 1172.5,2609.4 1173.3,2607.6 1174.2,2605.8 1175.1,2604.0 1176.0,2602.2 1176.8,2600.4 1177.7,2598.6 1178.6,2596.8 1179.5,2595.1 1180.4,2593.3 1181.3,2591.5 1182.2,2589.7 1183.1,2587.9 1184.0,2586.1 1184.9,2584.4 1185.8,2582.6 1186.8,2580.8 1187.7,2579.0 1188.6,2577.3 1189.5,2575.5 1190.5,2573.7 1191.4,2571.9 1192.3,2570.2 1193.3,2568.4 1194.2,2566.6 1195.1,2564.9 1196.0,2563.1 1196.9,2561.3 1197.8,2559.5 1198.7,2557.7 1199.5,2555.9 1200.3,2554.1 1201.1,2552.2 1201.9,2550.4 1202.6,2548.5 1203.4,2546.7 1204.1,2544.8 1204.8,2543.0 1205.5,2541.1 1206.2,2539.2 1206.9,2537.3 1207.6,2535.4 1208.2,2533.6 1208.9,2531.7 1209.5,2529.8 1210.1,2527.9 1210.8,2526.0 1211.4,2524.1 1212.1,2522.2 1212.8,2520.3 1213.5,2518.5 1214.3,2516.6 1215.1,2514.8 1215.9,2513.0 1216.8,2511.2 1217.6,2509.4 1218.5,2507.6 1219.5,2505.9 1220.4,2504.1 1221.3,2502.3 1222.1,2500.5 1223.0,2498.7 1223.8,2496.9 1224.6,2495.1 1225.4,2493.2 1226.1,2491.4 1226.9,2489.5 1227.6,2487.7 1228.4,2485.8 1229.2,2484.0 1230.0,2482.2 1230.9,2480.4 1231.7,2478.6 1232.7,2476.8 1233.6,2475.1 1234.6,2473.3 1235.5,2471.6 1236.5,2469.9 1237.6,2468.1 1238.6,2466.4 1239.6,2464.7 1240.6,2462.9 1241.6,2461.2 1242.6,2459.5 1243.5,2457.7 1244.5,2456.0 1245.5,2454.2 1246.4,2452.5 1247.4,2450.7 1248.3,2449.0 1249.3,2447.2 1250.2,2445.4 1251.1,2443.7 1252.1,2441.9 1253.0,2440.1 1254.0,2438.4 1254.9,2436.6 1255.8,2434.8 1256.8,2433.1 1257.7,2431.3 1258.6,2429.5 1259.6,2427.8 1260.5,2426.0 1261.4,2424.2 1262.4,2422.5 1263.3,2420.7 1264.3,2418.9 1265.2,2417.2 1266.2,2415.4 1267.2,2413.7 1268.3,2412.0 1269.3,2410.3 1270.3,2408.6 1271.4,2406.9 1272.5,2405.2 1273.6,2403.6 1274.7,2401.9 1275.8,2400.2 1277.0,2398.6 1278.1,2396.9 1279.2,2395.3 1280.3,2393.6 1281.4,2392.0 1282.6,2390.3 1283.7,2388.6 1284.8,2387.0 1285.9,2385.3 1286.9,2383.6 1288.0,2381.9 1289.1,2380.2 1290.1,2378.5 1291.2,2376.9 1292.3,2375.2 1293.3,2373.5 1294.4,2371.8 1295.5,2370.1 1296.6,2368.4 1297.7,2366.8 1298.9,2365.1 1300.0,2363.5 1301.2,2361.9 1302.4,2360.3 1303.6,2358.7 1304.8,2357.1 1306.1,2355.6 1307.3,2354.0 1308.6,2352.5 1309.9,2351.0 1311.2,2349.5 1312.5,2348.0 1313.9,2346.5 1315.3,2345.1 1316.7,2343.7 1318.1,2342.3 1319.6,2341.0 1321.1,2339.7 1322.7,2338.4 1324.2,2337.2 1325.8,2336.0 1327.4,2334.8 1329.1,2333.7 1330.7,2332.6 1332.4,2331.5 1334.1,2330.4 1335.8,2329.3 1337.5,2328.3 1339.2,2327.2 1340.9,2326.3 1342.7,2325.3 1344.4,2324.4 1346.2,2323.5 1348.0,2322.6 1349.8,2321.8 1351.6,2321.0 1353.5,2320.2 1355.3,2319.4 1357.2,2318.7 1359.1,2318.0 1360.9,2317.4 1362.8,2316.8 1364.7,2316.2 1366.6,2315.7 1368.6,2315.3 1370.5,2314.9 1372.5,2314.6 1374.4,2314.3 1376.4,2314.2 1378.4,2314.0 1380.4,2313.9 1382.3,2313.9 1384.3,2313.9 1386.3,2313.9 1388.3,2313.9 1390.3,2313.9 1392.3,2314.0 1394.3,2314.1 1396.3,2314.3 1398.2,2314.5 1400.2,2314.9 1402.1,2315.2 1404.0,2315.7 1405.9,2316.2 1407.8,2316.8 1409.7,2317.4 1411.5,2318.1 1413.4,2318.8 1415.3,2319.6 1417.1,2320.3 1418.9,2321.1 1420.8,2321.9 1422.6,2322.7 1424.4,2323.5 1426.2,2324.4 1428.0,2325.2 1429.8,2326.2 1431.6,2327.1 1433.3,2328.0 1435.1,2329.0 1436.8,2330.0 1438.5,2331.0 1440.2,2332.1 1441.9,2333.1 1443.6,2334.2 1445.3,2335.2 1447.0,2336.3 1448.7,2337.4 1450.3,2338.5 1452.0,2339.6 1453.6,2340.8 1455.3,2341.9 1456.9,2343.0 1458.5,2344.2 1460.2,2345.4 1461.8,2346.6 1463.4,2347.8 1464.9,2349.0 1466.5,2350.2 1468.1,2351.5 1469.7,2352.7 1471.2,2354.0 1472.8,2355.2 1474.3,2356.5 1475.9,2357.7 1477.4,2359.0 1479.0,2360.2 1480.6,2361.5 1482.1,2362.7 1483.7,2363.9 1485.3,2365.2 1486.9,2366.4 1488.4,2367.6 1490.0,2368.9 1491.6,2370.1 1493.1,2371.3 1494.7,2372.6 1496.2,2373.9 1497.7,2375.2 1499.2,2376.5 1500.7,2377.9 1502.2,2379.2 1503.6,2380.6 1505.0,2382.0 1506.4,2383.4 1507.9,2384.8 1509.3,2386.3 1510.7,2387.7 1512.1,2389.1 1513.5,2390.6 1514.9,2392.0 1516.3,2393.4 1517.7,2394.8 1519.1,2396.2 1520.6,2397.6 1522.0,2398.9 1523.5,2400.3 1525.0,2401.6 1526.5,2402.9 1528.0,2404.2 1529.5,2405.5 1531.1,2406.8 1532.6,2408.1 1534.2,2409.4 1535.7,2410.6 1537.2,2411.9 1538.8,2413.2 1540.3,2414.5 1541.8,2415.8 1543.2,2417.2 1544.7,2418.5 1546.1,2419.9 1547.5,2421.3 1548.9,2422.8 1550.3,2424.2 1551.6,2425.7 1553.0,2427.2 1554.3,2428.7 1555.6,2430.2 1556.9,2431.7 1558.2,2433.2 1559.5,2434.7 1560.9,2436.2 1562.2,2437.7 1563.6,2439.2 1564.9,2440.6 1566.3,2442.1 1567.7,2443.5 1569.1,2444.9 1570.5,2446.3 1571.9,2447.7 1573.4,2449.1 1574.8,2450.5 1576.2,2452.0 1577.6,2453.4 1579.0,2454.8 1580.4,2456.3 1581.7,2457.7 1583.1,2459.2 1584.4,2460.7 1585.7,2462.2 1587.0,2463.7 1588.3,2465.2 1589.6,2466.8 1590.8,2468.3 1592.1,2469.9 1593.3,2471.5 1594.5,2473.1 1595.7,2474.7 1596.9,2476.3 1598.1,2477.9 1599.3,2479.5 1600.4,2481.1 1601.6,2482.8 1602.7,2484.4 1603.9,2486.0 1605.0,2487.7 1606.1,2489.4 1607.2,2491.0 1608.3,2492.7 1609.4,2494.3 1610.5,2496.0 1611.6,2497.7 1612.7,2499.4 1613.8,2501.0 1615.0,2502.7 1616.1,2504.4 1617.2,2506.0 1618.3,2507.7 1619.4,2509.4 1620.5,2511.0 1621.6,2512.7 1622.7,2514.4 1623.8,2516.0 1624.9,2517.7 1626.0,2519.4 1627.1,2521.0 1628.2,2522.7 1629.3,2524.3 1630.4,2526.0 1631.5,2527.7 1632.7,2529.3 1633.8,2531.0 1634.9,2532.7 1636.0,2534.3 1637.1,2536.0 1638.2,2537.7 1639.3,2539.3 1640.4,2541.0 1641.5,2542.6 1642.7,2544.3 1643.8,2546.0 1644.9,2547.6 1646.0,2549.3 1647.1,2551.0 1648.2,2552.6 1649.3,2554.3 1650.5,2555.9 1651.6,2557.6 1652.7,2559.2 1653.9,2560.9 1655.0,2562.5 1656.1,2564.2 1657.3,2565.8 1658.4,2567.5 1659.5,2569.1 1660.5,2570.8 1661.6,2572.5 1662.6,2574.2 1663.6,2576.0 1664.5,2577.7 1665.4,2579.5 1666.3,2581.3 1667.1,2583.1 1667.9,2584.9 1668.7,2586.8 1669.5,2588.6 1670.3,2590.4 1671.1,2592.3 1671.8,2594.1 1672.7,2595.9 1673.5,2597.8 1674.3,2599.6 1675.2,2601.4 1676.1,2603.2 1677.0,2605.0 1677.9,2606.7 1678.8,2608.5 1679.7,2610.3 1680.6,2612.1 1681.6,2613.8 1682.5,2615.6 1683.4,2617.4 1684.4,2619.1 1685.3,2620.9 1686.3,2622.7 1687.2,2624.4 1688.1,2626.2 1689.1,2628.0 1690.0,2629.7 1690.9,2631.5 1691.8,2633.3 1692.8,2635.1 1693.7,2636.8 1694.6,2638.6 1695.6,2640.4 1696.5,2642.1 1697.4,2643.9 1698.3,2645.7 1699.3,2647.5 1700.2,2649.2 1701.1,2651.0 1702.0,2652.8 1702.9,2654.6 1703.8,2656.4 1704.6,2658.2 1705.5,2660.0 1706.4,2661.8 1707.2,2663.6 1708.1,2665.4 1708.9,2667.2 1709.8,2669.0 1710.6,2670.9 1711.4,2672.7 1712.3,2674.5 1713.1,2676.3 1714.0,2678.1 1714.9,2679.9 1715.8,2681.7 1716.7,2683.5 1717.6,2685.2 1718.5,2687.0 1719.5,2688.7 1720.5,2690.5 1721.5,2692.2 1722.5,2693.9 1723.5,2695.6 1724.6,2697.3 1725.7,2699.0 1726.8,2700.7 1727.9,2702.4 1729.0,2704.0 1730.1,2705.7 1731.2,2707.4 1732.3,2709.0 1733.4,2710.7 1734.5,2712.4 1735.5,2714.1 1736.6,2715.8 1737.7,2717.4 1738.7,2719.1 1739.8,2720.8 1740.8,2722.5 1741.9,2724.2 1742.9,2726.0 1744.0,2727.7 1745.0,2729.4 1746.0,2731.1 1747.1,2732.8 1748.1,2734.5 1749.1,2736.2 1750.1,2738.0 1751.2,2739.7 1752.2,2741.4 1753.2,2743.1 1754.2,2744.8 1755.2,2746.6 1756.3,2748.3 1757.3,2750.0 1758.3,2751.7 1759.3,2753.4 1760.4,2755.1 1761.4,2756.9 1762.4,2758.6 1763.5,2760.3 1764.5,2762.0 1765.5,2763.7 1766.6,2765.4 1767.6,2767.1 1768.7,2768.8 1769.7,2770.5 1770.8,2772.2 1771.9,2773.9 1773.0,2775.6 1774.0,2777.3 1775.1,2778.9 1776.2,2780.6 1777.3,2782.3 1778.4,2784.0 1779.5,2785.6 1780.6,2787.3 1781.7,2789.0 1782.8,2790.6 1783.9,2792.3 1785.1,2793.9 1786.2,2795.6 1787.3,2797.2 1788.5,2798.9 1789.6,2800.5 1790.8,2802.2 1791.9,2803.8 1793.1,2805.4 1794.3,2807.0 1795.4,2808.7 1796.6,2810.3 1797.8,2811.9 1799.0,2813.5 1800.1,2815.1 1801.3,2816.7 1802.5,2818.3 1803.7,2820.0 1804.9,2821.6 1806.0,2823.2 1807.2,2824.8 1808.4,2826.4 1809.5,2828.1 1810.7,2829.7 1811.8,2831.4 1812.9,2833.0 1814.0,2834.7 1815.0,2836.4 1816.1,2838.1 1817.1,2839.8 1818.1,2841.5 1819.2,2843.3 1820.2,2845.0 1821.2,2846.7 1822.2,2848.4 1823.3,2850.1 1824.3,2851.8 1825.4,2853.5 1826.5,2855.1 1827.6,2856.8 1828.8,2858.4 1829.9,2860.1 1831.1,2861.7 1832.3,2863.3 1833.6,2864.8 1834.8,2866.4 1836.1,2867.9 1837.3,2869.5 1838.6,2871.0 1840.0,2872.5 1841.3,2874.0 1842.6,2875.5 1844.0,2876.9 1845.4,2878.4 1846.7,2879.8 1848.1,2881.3 1849.5,2882.7 1851.0,2884.1 1852.4,2885.5 1853.8,2886.9 1855.2,2888.4 1856.6,2889.8 1858.0,2891.2 1859.3,2892.7 1860.7,2894.1 1862.1,2895.6 1863.4,2897.1 1864.7,2898.6 1866.0,2900.1 1867.4,2901.6 1868.7,2903.1 1870.0,2904.6 1871.3,2906.1 1872.6,2907.7 1873.9,2909.2 1875.2,2910.7 1876.5,2912.2 1877.8,2913.7 1879.1,2915.2 1880.4,2916.7 1881.8,2918.2 1883.1,2919.7 1884.5,2921.2 1885.8,2922.6 1887.2,2924.0 1888.7,2925.4 1890.2,2926.7 1891.7,2928.0 1893.2,2929.2 1894.8,2930.4 1896.4,2931.6 1898.1,2932.7 1899.7,2933.8 1901.4,2934.8 1903.1,2935.9 1904.8,2936.9 1906.5,2938.0 1908.2,2939.1 1909.8,2940.2 1911.5,2941.3 1913.1,2942.5 1914.7,2943.6 1916.3,2944.8 1917.9,2946.0 1919.5,2947.3 1921.1,2948.5 1922.6,2949.7 1924.2,2951.0 1925.8,2952.2 1927.3,2953.5 1928.8,2954.8 1930.4,2956.0 1931.9,2957.3 1933.5,2958.6 1935.0,2959.8 1936.6,2961.1 1938.2,2962.3 1939.8,2963.5 1941.4,2964.7 1943.0,2965.9 1944.6,2967.0 1946.3,2968.1 1948.0,2969.1 1949.7,2970.1 1951.4,2971.1 1953.2,2972.1 1955.0,2973.0 1956.7,2973.9 1958.5,2974.8 1960.3,2975.7 1962.1,2976.6 1963.9,2977.4 1965.7,2978.3 1967.5,2979.1 1969.3,2980.0 1971.2,2980.8 1973.0,2981.7 1974.8,2982.6 1976.6,2983.4 1978.4,2984.3 1980.2,2985.1 1982.0,2985.9 1983.8,2986.8 1985.7,2987.6 1987.5,2988.4 1989.3,2989.2 1991.1,2990.0 1993.0,2990.8 1994.8,2991.6 1996.7,2992.3 1998.5,2993.0 2000.4,2993.8 2002.3,2994.4 2004.2,2995.1 2006.1,2995.7 2008.0,2996.3 2009.9,2996.9 2011.8,2997.4 2013.7,2997.9 2015.7,2998.3 2017.6,2998.7 2019.6,2999.0 2021.5,2999.2 2023.5,2999.4 2025.5,2999.6 2027.5,2999.8 2029.4,3000.0 2031.4,3000.3 2033.3,3000.5 2035.2,3000.9 2037.1,3001.2 2039.0,3001.6 2040.9,3002.0 2042.8,3002.5 2044.6,3002.9 2046.5,3003.2 2048.4,3003.5 2050.3,3003.8 2052.3,3003.9 2054.2,3004.1 2056.2,3004.2 2058.2,3004.2 2060.2,3004.3 2062.2,3004.3 2064.2,3004.3 2066.2,3004.3 2068.1,3004.2 2070.1,3004.2 2072.1,3004.1 2074.0,3004.0 2076.0,3003.8 2077.9,3003.5 2079.7,3003.2 2081.6,3002.8 2083.4,3002.4 2085.2,3001.9 2087.0,3001.5 2088.8,3001.0 2090.7,3000.6 2092.5,3000.3 2094.4,3000.0 2096.3,2999.8 2098.3,2999.7 2100.2,2999.7 2102.1,2999.7 2104.0,2999.8 2105.9,3000.0 2107.7,3000.3 2109.6,3000.7 2111.3,3001.1 2113.1,3001.5 2114.9,3002.0 2116.6,3002.5 2118.4,3002.9 2120.2,3003.3 2122.1,3003.6 2123.9,3003.8 2125.8,3004.0 2127.8,3004.1 2129.7,3004.2 2131.7,3004.2 2133.7,3004.3 2135.7,3004.3 2137.7,3004.3 2139.7,3004.3 2141.7,3004.3 2143.7,3004.3 2145.7,3004.3 2147.7,3004.3 2149.7,3004.3 2151.7,3004.3 2153.7,3004.3 2155.6,3004.3 2157.6,3004.3 2159.5,3004.3 2161.3,3004.3 2163.0,3004.3 2164.6,3004.3 2166.1,3004.3 2167.4,3004.3 2171.8,3004.3" fill="none" stroke="#ff0000" stroke-width="5.0" stroke-linejoin="round" stroke-linecap="round"/>
<text x="468.0" y="2932.0" font-family="'Liberation Serif', 'Times New Roman', serif" font-size="81.0" text-anchor="start" font-weight="normal" fill="#ff0000">LSP sample</text>
<text x="379.0" y="3305.2" font-family="'Liberation Serif', 'Times New Roman', serif" font-size="81.0" text-anchor="start" font-weight="normal" fill="#000" stroke="#000" stroke-width="0.90" stroke-linejoin="round">Original sample</text>
<path d="M 1321.2 2170.4 L 1305.6 2154.5 C 1302.6 2151.3 1302.2 2148.4 1302.2 2145.5 C 1302.2 2138.3 1307.1 2134.3 1312.5 2134.3 C 1316.6 2134.3 1320.1 2137.2 1321.2 2143.7 C 1322.3 2137.2 1325.8 2134.3 1329.9 2134.3 C 1335.3 2134.3 1340.2 2138.3 1340.2 2145.5 C 1340.2 2148.4 1339.8 2151.3 1336.8 2154.5 L 1321.2 2170.4 Z" fill="#000"/>
<text x="1369.2" y="2169.4" font-family="'Liberation Serif', 'Times New Roman', serif" font-size="77.5" text-anchor="start" font-weight="normal" fill="#000" stroke="#000" stroke-width="0.90" stroke-linejoin="round">(111)</text>
<circle cx="1324.0" cy="2242.0" r="16.2" fill="#000"/>
<text x="1376.6" y="2265.7" font-family="'Liberation Serif', 'Times New Roman', serif" font-size="77.5" text-anchor="start" font-weight="normal" fill="#000" stroke="#000" stroke-width="0.90" stroke-linejoin="round">(311)</text>
<path d="M 1934.7 2149.4 L 1919.2 2133.7 C 1916.2 2130.5 1915.8 2127.6 1915.8 2124.8 C 1915.8 2117.6 1920.7 2113.7 1926.0 2113.7 C 1930.1 2113.7 1933.5 2116.6 1934.7 2123.0 C 1935.8 2116.6 1939.2 2113.7 1943.3 2113.7 C 1948.6 2113.7 1953.5 2117.6 1953.5 2124.8 C 1953.5 2127.6 1953.1 2130.5 1950.1 2133.7 L 1934.7 2149.4 Z" fill="#000"/>
<text x="1979.3" y="2150.4" font-family="'Liberation Serif', 'Times New Roman', serif" font-size="76" fill="#000" stroke="#000" stroke-width="0.90" stroke-linejoin="round"><tspan font-style="italic">γ</tspan>-Ni</text>
<circle cx="1938.0" cy="2246.0" r="16.0" fill="#000"/>
<text x="1982.0" y="2270.5" font-family="'Liberation Serif', 'Times New Roman', serif" font-size="78" fill="#000" stroke="#000" stroke-width="0.90" stroke-linejoin="round">Ni<tspan font-size="41" dy="24" dx="-4">3</tspan><tspan dy="-24" dx="-1">Fe</tspan></text>
<text x="0.0" y="0.0" font-family="'Liberation Serif', 'Times New Roman', serif" font-size="74.0" text-anchor="middle" font-weight="bold" fill="#000" transform="translate(62.5 2754.5) rotate(-90)">intensity(a.u.)</text>
<text x="1237" y="3694.6" font-family="'Liberation Serif', 'Times New Roman', serif" font-size="80" font-weight="bold" fill="#000" textLength="186" lengthAdjust="spacingAndGlyphs">2θ/(°)</text>
</g>
<text x="1087.5" y="1871.3" font-family="'Liberation Serif', 'Times New Roman', serif" font-size="75" fill="#000">(<tspan font-weight="bold">a</tspan>)</text>
<text x="1083" y="3845.2" font-family="'Liberation Serif', 'Times New Roman', serif" font-size="76" fill="#000">(<tspan font-weight="bold">b</tspan>)</text>
</svg>
</body></html>
